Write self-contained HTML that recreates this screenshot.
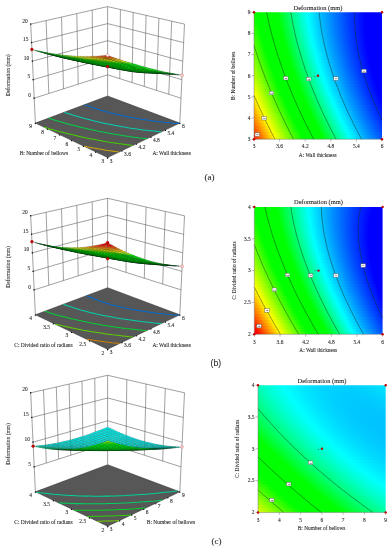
<!DOCTYPE html><html><head><meta charset="utf-8"><title>Figure</title><style>html,body{margin:0;padding:0;background:#fff}svg{display:block}</style></head><body><svg width="391" height="550" viewBox="0 0 391 550" font-family="'Liberation Serif',serif"><style>text{stroke:#333;stroke-width:.09px}</style><rect width="391" height="550" fill="#fff"/><defs><clipPath id="cp0"><rect x="254.0" y="12.3" width="128.0" height="126.9"/></clipPath><linearGradient id="g0_0" gradientUnits="userSpaceOnUse" x1="254.0" x2="382.0"><stop offset="0" stop-color="#0fff00"/><stop offset="0.015" stop-color="#0f0"/><stop offset="0.125" stop-color="#0f0"/><stop offset="0.182" stop-color="#0f0"/><stop offset="0.25" stop-color="#00ff4e"/><stop offset="0.375" stop-color="#00ffd5"/><stop offset="0.417" stop-color="#0ff"/><stop offset="0.5" stop-color="#00c7ff"/><stop offset="0.625" stop-color="#007bff"/><stop offset="0.75" stop-color="#0038ff"/><stop offset="0.872" stop-color="#00f"/><stop offset="1" stop-color="#00f"/></linearGradient><linearGradient id="g0_1" gradientUnits="userSpaceOnUse" x1="254.0" x2="382.0"><stop offset="0" stop-color="#15ff00"/><stop offset="0.02" stop-color="#0f0"/><stop offset="0.125" stop-color="#0f0"/><stop offset="0.187" stop-color="#0f0"/><stop offset="0.25" stop-color="#00ff4a"/><stop offset="0.375" stop-color="#00ffd2"/><stop offset="0.42" stop-color="#0ff"/><stop offset="0.5" stop-color="#00c9ff"/><stop offset="0.625" stop-color="#007cff"/><stop offset="0.75" stop-color="#0038ff"/><stop offset="0.87" stop-color="#00f"/><stop offset="1" stop-color="#00f"/></linearGradient><linearGradient id="g0_2" gradientUnits="userSpaceOnUse" x1="254.0" x2="382.0"><stop offset="0" stop-color="#1bff00"/><stop offset="0.025" stop-color="#0f0"/><stop offset="0.125" stop-color="#0f0"/><stop offset="0.192" stop-color="#00ff01"/><stop offset="0.25" stop-color="#00ff45"/><stop offset="0.375" stop-color="#00ffce"/><stop offset="0.423" stop-color="#0ff"/><stop offset="0.5" stop-color="#00cbff"/><stop offset="0.625" stop-color="#007dff"/><stop offset="0.75" stop-color="#0039ff"/><stop offset="0.869" stop-color="#00f"/><stop offset="1" stop-color="#00f"/></linearGradient><linearGradient id="g0_3" gradientUnits="userSpaceOnUse" x1="254.0" x2="382.0"><stop offset="0" stop-color="#21ff00"/><stop offset="0.031" stop-color="#0f0"/><stop offset="0.125" stop-color="#0f0"/><stop offset="0.196" stop-color="#0f0"/><stop offset="0.25" stop-color="#00ff3f"/><stop offset="0.375" stop-color="#00ffc9"/><stop offset="0.427" stop-color="#0ff"/><stop offset="0.5" stop-color="#00cdff"/><stop offset="0.625" stop-color="#007fff"/><stop offset="0.75" stop-color="#0039ff"/><stop offset="0.868" stop-color="#00f"/><stop offset="1" stop-color="#00f"/></linearGradient><linearGradient id="g0_4" gradientUnits="userSpaceOnUse" x1="254.0" x2="382.0"><stop offset="0" stop-color="#27ff00"/><stop offset="0.036" stop-color="#0f0"/><stop offset="0.125" stop-color="#0f0"/><stop offset="0.202" stop-color="#00ff01"/><stop offset="0.25" stop-color="#00ff39"/><stop offset="0.375" stop-color="#00ffc5"/><stop offset="0.431" stop-color="#0ff"/><stop offset="0.5" stop-color="#00cfff"/><stop offset="0.625" stop-color="#0080ff"/><stop offset="0.75" stop-color="#003aff"/><stop offset="0.868" stop-color="#00f"/><stop offset="1" stop-color="#00f"/></linearGradient><linearGradient id="g0_5" gradientUnits="userSpaceOnUse" x1="254.0" x2="382.0"><stop offset="0" stop-color="#2eff00"/><stop offset="0.042" stop-color="#0f0"/><stop offset="0.125" stop-color="#0f0"/><stop offset="0.207" stop-color="#0f0"/><stop offset="0.25" stop-color="#0f3"/><stop offset="0.375" stop-color="#00ffc0"/><stop offset="0.435" stop-color="#0ff"/><stop offset="0.5" stop-color="#00d2ff"/><stop offset="0.625" stop-color="#0082ff"/><stop offset="0.75" stop-color="#003bff"/><stop offset="0.868" stop-color="#00f"/><stop offset="1" stop-color="#00f"/></linearGradient><linearGradient id="g0_6" gradientUnits="userSpaceOnUse" x1="254.0" x2="382.0"><stop offset="0" stop-color="#35ff00"/><stop offset="0.048" stop-color="#0f0"/><stop offset="0.125" stop-color="#0f0"/><stop offset="0.212" stop-color="#0f0"/><stop offset="0.25" stop-color="#00ff2d"/><stop offset="0.375" stop-color="#0fb"/><stop offset="0.44" stop-color="#0ff"/><stop offset="0.5" stop-color="#00d5ff"/><stop offset="0.625" stop-color="#0084ff"/><stop offset="0.75" stop-color="#003cff"/><stop offset="0.869" stop-color="#00f"/><stop offset="1" stop-color="#00f"/></linearGradient><linearGradient id="g0_7" gradientUnits="userSpaceOnUse" x1="254.0" x2="382.0"><stop offset="0" stop-color="#3cff00"/><stop offset="0.055" stop-color="#0f0"/><stop offset="0.125" stop-color="#0f0"/><stop offset="0.218" stop-color="#0f0"/><stop offset="0.25" stop-color="#00ff26"/><stop offset="0.375" stop-color="#00ffb5"/><stop offset="0.444" stop-color="#0ff"/><stop offset="0.5" stop-color="#00d8ff"/><stop offset="0.625" stop-color="#0086ff"/><stop offset="0.75" stop-color="#003eff"/><stop offset="0.871" stop-color="#00f"/><stop offset="1" stop-color="#00f"/></linearGradient><linearGradient id="g0_8" gradientUnits="userSpaceOnUse" x1="254.0" x2="382.0"><stop offset="0" stop-color="#43ff00"/><stop offset="0.061" stop-color="#0f0"/><stop offset="0.125" stop-color="#0f0"/><stop offset="0.224" stop-color="#0f0"/><stop offset="0.375" stop-color="#00ffaf"/><stop offset="0.449" stop-color="#0ff"/><stop offset="0.5" stop-color="#00dbff"/><stop offset="0.625" stop-color="#0089ff"/><stop offset="0.75" stop-color="#003fff"/><stop offset="0.873" stop-color="#00f"/><stop offset="1" stop-color="#00f"/></linearGradient><linearGradient id="g0_9" gradientUnits="userSpaceOnUse" x1="254.0" x2="382.0"><stop offset="0" stop-color="#4bff00"/><stop offset="0.068" stop-color="#0f0"/><stop offset="0.125" stop-color="#0f0"/><stop offset="0.23" stop-color="#0f0"/><stop offset="0.375" stop-color="#00ffa9"/><stop offset="0.455" stop-color="#0ff"/><stop offset="0.5" stop-color="#00dfff"/><stop offset="0.625" stop-color="#008bff"/><stop offset="0.75" stop-color="#0041ff"/><stop offset="0.875" stop-color="#00f"/><stop offset="1" stop-color="#00f"/></linearGradient><linearGradient id="g0_10" gradientUnits="userSpaceOnUse" x1="254.0" x2="382.0"><stop offset="0" stop-color="#53ff00"/><stop offset="0.075" stop-color="#0f0"/><stop offset="0.125" stop-color="#0f0"/><stop offset="0.237" stop-color="#0f0"/><stop offset="0.375" stop-color="#00ffa2"/><stop offset="0.46" stop-color="#0ff"/><stop offset="0.5" stop-color="#00e2ff"/><stop offset="0.625" stop-color="#008eff"/><stop offset="0.75" stop-color="#0043ff"/><stop offset="0.878" stop-color="#00f"/><stop offset="1" stop-color="#00f"/></linearGradient><linearGradient id="g0_11" gradientUnits="userSpaceOnUse" x1="254.0" x2="382.0"><stop offset="0" stop-color="#5bff00"/><stop offset="0.082" stop-color="#0f0"/><stop offset="0.125" stop-color="#0f0"/><stop offset="0.244" stop-color="#00ff01"/><stop offset="0.375" stop-color="#00ff9c"/><stop offset="0.466" stop-color="#0ff"/><stop offset="0.5" stop-color="#00e6ff"/><stop offset="0.625" stop-color="#0092ff"/><stop offset="0.75" stop-color="#0046ff"/><stop offset="0.881" stop-color="#00f"/><stop offset="1" stop-color="#00f"/></linearGradient><linearGradient id="g0_12" gradientUnits="userSpaceOnUse" x1="254.0" x2="382.0"><stop offset="0" stop-color="#64ff00"/><stop offset="0.089" stop-color="#0f0"/><stop offset="0.125" stop-color="#0f0"/><stop offset="0.25" stop-color="#0f0"/><stop offset="0.375" stop-color="#00ff94"/><stop offset="0.472" stop-color="#0ff"/><stop offset="0.625" stop-color="#0095ff"/><stop offset="0.75" stop-color="#0048ff"/><stop offset="0.885" stop-color="#00f"/><stop offset="1" stop-color="#00f"/></linearGradient><linearGradient id="g0_13" gradientUnits="userSpaceOnUse" x1="254.0" x2="382.0"><stop offset="0" stop-color="#6dff00"/><stop offset="0.097" stop-color="#0f0"/><stop offset="0.257" stop-color="#0f0"/><stop offset="0.375" stop-color="#00ff8d"/><stop offset="0.479" stop-color="#0ff"/><stop offset="0.625" stop-color="#09f"/><stop offset="0.75" stop-color="#004bff"/><stop offset="0.889" stop-color="#00f"/><stop offset="1" stop-color="#00f"/></linearGradient><linearGradient id="g0_14" gradientUnits="userSpaceOnUse" x1="254.0" x2="382.0"><stop offset="0" stop-color="#76ff00"/><stop offset="0.104" stop-color="#0f0"/><stop offset="0.265" stop-color="#00ff01"/><stop offset="0.375" stop-color="#00ff85"/><stop offset="0.485" stop-color="#0ff"/><stop offset="0.625" stop-color="#009dff"/><stop offset="0.75" stop-color="#004eff"/><stop offset="0.893" stop-color="#00f"/><stop offset="1" stop-color="#00f"/></linearGradient><linearGradient id="g0_15" gradientUnits="userSpaceOnUse" x1="254.0" x2="382.0"><stop offset="0" stop-color="#7fff00"/><stop offset="0.112" stop-color="#0f0"/><stop offset="0.272" stop-color="#0f0"/><stop offset="0.375" stop-color="#00ff7c"/><stop offset="0.492" stop-color="#0ff"/><stop offset="0.625" stop-color="#00a1ff"/><stop offset="0.75" stop-color="#0052ff"/><stop offset="0.898" stop-color="#00f"/><stop offset="1" stop-color="#00f"/></linearGradient><linearGradient id="g0_16" gradientUnits="userSpaceOnUse" x1="254.0" x2="382.0"><stop offset="0" stop-color="#89ff00"/><stop offset="0.12" stop-color="#0f0"/><stop offset="0.28" stop-color="#0f0"/><stop offset="0.375" stop-color="#00ff74"/><stop offset="0.499" stop-color="#0ff"/><stop offset="0.625" stop-color="#00a5ff"/><stop offset="0.75" stop-color="#05f"/><stop offset="0.903" stop-color="#00f"/><stop offset="1" stop-color="#00f"/></linearGradient><linearGradient id="g0_17" gradientUnits="userSpaceOnUse" x1="254.0" x2="382.0"><stop offset="0" stop-color="#92ff00"/><stop offset="0.128" stop-color="#0f0"/><stop offset="0.25" stop-color="#0f0"/><stop offset="0.287" stop-color="#0f0"/><stop offset="0.375" stop-color="#00ff6b"/><stop offset="0.506" stop-color="#0ff"/><stop offset="0.625" stop-color="#0af"/><stop offset="0.75" stop-color="#0059ff"/><stop offset="0.875" stop-color="#0012ff"/><stop offset="0.908" stop-color="#00f"/><stop offset="1" stop-color="#00f"/></linearGradient><linearGradient id="g0_18" gradientUnits="userSpaceOnUse" x1="254.0" x2="382.0"><stop offset="0" stop-color="#9dff00"/><stop offset="0.136" stop-color="#01ff00"/><stop offset="0.25" stop-color="#0f0"/><stop offset="0.295" stop-color="#0f0"/><stop offset="0.375" stop-color="#00ff62"/><stop offset="0.514" stop-color="#0ff"/><stop offset="0.625" stop-color="#00afff"/><stop offset="0.75" stop-color="#005dff"/><stop offset="0.875" stop-color="#0015ff"/><stop offset="0.914" stop-color="#00f"/><stop offset="1" stop-color="#00f"/></linearGradient><linearGradient id="g0_19" gradientUnits="userSpaceOnUse" x1="254.0" x2="382.0"><stop offset="0" stop-color="#a7ff00"/><stop offset="0.145" stop-color="#0f0"/><stop offset="0.25" stop-color="#0f0"/><stop offset="0.304" stop-color="#0f0"/><stop offset="0.375" stop-color="#00ff58"/><stop offset="0.521" stop-color="#0ff"/><stop offset="0.625" stop-color="#00b4ff"/><stop offset="0.75" stop-color="#0062ff"/><stop offset="0.875" stop-color="#0018ff"/><stop offset="0.92" stop-color="#00f"/><stop offset="1" stop-color="#00f"/></linearGradient><linearGradient id="g0_20" gradientUnits="userSpaceOnUse" x1="254.0" x2="382.0"><stop offset="0" stop-color="#b2ff00"/><stop offset="0.154" stop-color="#0f0"/><stop offset="0.25" stop-color="#0f0"/><stop offset="0.312" stop-color="#0f0"/><stop offset="0.375" stop-color="#00ff4e"/><stop offset="0.529" stop-color="#0ff"/><stop offset="0.625" stop-color="#00b9ff"/><stop offset="0.75" stop-color="#06f"/><stop offset="0.875" stop-color="#001cff"/><stop offset="0.927" stop-color="#00f"/><stop offset="1" stop-color="#00f"/></linearGradient><linearGradient id="g0_21" gradientUnits="userSpaceOnUse" x1="254.0" x2="382.0"><stop offset="0" stop-color="#bdff00"/><stop offset="0.125" stop-color="#2aff00"/><stop offset="0.162" stop-color="#01ff00"/><stop offset="0.25" stop-color="#0f0"/><stop offset="0.321" stop-color="#0f0"/><stop offset="0.375" stop-color="#0f4"/><stop offset="0.5" stop-color="#00ffd6"/><stop offset="0.537" stop-color="#0ff"/><stop offset="0.625" stop-color="#00bfff"/><stop offset="0.75" stop-color="#006bff"/><stop offset="0.875" stop-color="#0020ff"/><stop offset="0.933" stop-color="#00f"/><stop offset="1" stop-color="#00f"/></linearGradient><linearGradient id="g0_22" gradientUnits="userSpaceOnUse" x1="254.0" x2="382.0"><stop offset="0" stop-color="#c8ff00"/><stop offset="0.125" stop-color="#34ff00"/><stop offset="0.171" stop-color="#01ff00"/><stop offset="0.25" stop-color="#0f0"/><stop offset="0.329" stop-color="#0f0"/><stop offset="0.375" stop-color="#00ff39"/><stop offset="0.5" stop-color="#0fc"/><stop offset="0.546" stop-color="#0ff"/><stop offset="0.625" stop-color="#00c5ff"/><stop offset="0.75" stop-color="#0070ff"/><stop offset="0.875" stop-color="#0024ff"/><stop offset="0.941" stop-color="#00f"/><stop offset="1" stop-color="#00f"/></linearGradient><linearGradient id="g0_23" gradientUnits="userSpaceOnUse" x1="254.0" x2="382.0"><stop offset="0" stop-color="#d3ff00"/><stop offset="0.125" stop-color="#3fff00"/><stop offset="0.181" stop-color="#0f0"/><stop offset="0.25" stop-color="#0f0"/><stop offset="0.338" stop-color="#0f0"/><stop offset="0.375" stop-color="#00ff2e"/><stop offset="0.5" stop-color="#00ffc2"/><stop offset="0.554" stop-color="#0ff"/><stop offset="0.625" stop-color="#00cbff"/><stop offset="0.75" stop-color="#0075ff"/><stop offset="0.875" stop-color="#0029ff"/><stop offset="0.948" stop-color="#00f"/><stop offset="1" stop-color="#00f"/></linearGradient><linearGradient id="g0_24" gradientUnits="userSpaceOnUse" x1="254.0" x2="382.0"><stop offset="0" stop-color="#dfff00"/><stop offset="0.125" stop-color="#4aff00"/><stop offset="0.19" stop-color="#0f0"/><stop offset="0.25" stop-color="#0f0"/><stop offset="0.348" stop-color="#00ff01"/><stop offset="0.5" stop-color="#00ffb8"/><stop offset="0.563" stop-color="#0ff"/><stop offset="0.625" stop-color="#00d1ff"/><stop offset="0.75" stop-color="#007bff"/><stop offset="0.875" stop-color="#002dff"/><stop offset="0.956" stop-color="#00f"/><stop offset="1" stop-color="#00f"/></linearGradient><linearGradient id="g0_25" gradientUnits="userSpaceOnUse" x1="254.0" x2="382.0"><stop offset="0" stop-color="#ebff00"/><stop offset="0.125" stop-color="#5f0"/><stop offset="0.2" stop-color="#0f0"/><stop offset="0.25" stop-color="#0f0"/><stop offset="0.357" stop-color="#0f0"/><stop offset="0.5" stop-color="#00ffae"/><stop offset="0.572" stop-color="#0ff"/><stop offset="0.625" stop-color="#00d7ff"/><stop offset="0.75" stop-color="#0080ff"/><stop offset="0.875" stop-color="#0032ff"/><stop offset="0.964" stop-color="#00f"/><stop offset="1" stop-color="#00f"/></linearGradient><linearGradient id="g0_26" gradientUnits="userSpaceOnUse" x1="254.0" x2="382.0"><stop offset="0" stop-color="#f7ff00"/><stop offset="0.125" stop-color="#60ff00"/><stop offset="0.209" stop-color="#0f0"/><stop offset="0.25" stop-color="#0f0"/><stop offset="0.366" stop-color="#0f0"/><stop offset="0.5" stop-color="#00ffa3"/><stop offset="0.581" stop-color="#0ff"/><stop offset="0.625" stop-color="#00deff"/><stop offset="0.75" stop-color="#0086ff"/><stop offset="0.875" stop-color="#0037ff"/><stop offset="0.972" stop-color="#00f"/><stop offset="1" stop-color="#00f"/></linearGradient><linearGradient id="g0_27" gradientUnits="userSpaceOnUse" x1="254.0" x2="382.0"><stop offset="0" stop-color="#fffa00"/><stop offset="0.004" stop-color="#ff0"/><stop offset="0.125" stop-color="#6cff00"/><stop offset="0.219" stop-color="#0f0"/><stop offset="0.25" stop-color="#0f0"/><stop offset="0.376" stop-color="#0f0"/><stop offset="0.5" stop-color="#00ff98"/><stop offset="0.591" stop-color="#0ff"/><stop offset="0.625" stop-color="#00e5ff"/><stop offset="0.75" stop-color="#008cff"/><stop offset="0.875" stop-color="#003dff"/><stop offset="0.981" stop-color="#00f"/><stop offset="1" stop-color="#00f"/></linearGradient><linearGradient id="g0_28" gradientUnits="userSpaceOnUse" x1="254.0" x2="382.0"><stop offset="0" stop-color="#ffec00"/><stop offset="0.014" stop-color="#ff0"/><stop offset="0.125" stop-color="#78ff00"/><stop offset="0.229" stop-color="#0f0"/><stop offset="0.386" stop-color="#0f0"/><stop offset="0.5" stop-color="#00ff8c"/><stop offset="0.601" stop-color="#0ff"/><stop offset="0.75" stop-color="#0093ff"/><stop offset="0.875" stop-color="#0042ff"/><stop offset="0.99" stop-color="#00f"/><stop offset="1" stop-color="#00f"/></linearGradient><linearGradient id="g0_29" gradientUnits="userSpaceOnUse" x1="254.0" x2="382.0"><stop offset="0" stop-color="#ffdf00"/><stop offset="0.024" stop-color="#fffe00"/><stop offset="0.125" stop-color="#84ff00"/><stop offset="0.239" stop-color="#0f0"/><stop offset="0.396" stop-color="#0f0"/><stop offset="0.5" stop-color="#00ff80"/><stop offset="0.611" stop-color="#0ff"/><stop offset="0.75" stop-color="#009aff"/><stop offset="0.875" stop-color="#0048ff"/><stop offset="1" stop-color="#00f"/></linearGradient><linearGradient id="g0_30" gradientUnits="userSpaceOnUse" x1="254.0" x2="382.0"><stop offset="0" stop-color="#ffd100"/><stop offset="0.035" stop-color="#ff0"/><stop offset="0.125" stop-color="#90ff00"/><stop offset="0.25" stop-color="#0f0"/><stop offset="0.375" stop-color="#0f0"/><stop offset="0.406" stop-color="#0f0"/><stop offset="0.5" stop-color="#00ff74"/><stop offset="0.621" stop-color="#0ff"/><stop offset="0.75" stop-color="#00a0ff"/><stop offset="0.875" stop-color="#004eff"/><stop offset="1" stop-color="#0005ff"/></linearGradient><linearGradient id="g0_31" gradientUnits="userSpaceOnUse" x1="254.0" x2="382.0"><stop offset="0" stop-color="#ffc300"/><stop offset="0.046" stop-color="#feff00"/><stop offset="0.125" stop-color="#9dff00"/><stop offset="0.26" stop-color="#0f0"/><stop offset="0.375" stop-color="#0f0"/><stop offset="0.417" stop-color="#0f0"/><stop offset="0.5" stop-color="#00ff67"/><stop offset="0.631" stop-color="#0ff"/><stop offset="0.75" stop-color="#00a8ff"/><stop offset="0.875" stop-color="#05f"/><stop offset="1" stop-color="#000bff"/></linearGradient><linearGradient id="g0_32" gradientUnits="userSpaceOnUse" x1="254.0" x2="382.0"><stop offset="0" stop-color="#ffb500"/><stop offset="0.056" stop-color="#ff0"/><stop offset="0.125" stop-color="#af0"/><stop offset="0.271" stop-color="#0f0"/><stop offset="0.375" stop-color="#0f0"/><stop offset="0.428" stop-color="#00ff01"/><stop offset="0.5" stop-color="#00ff5b"/><stop offset="0.642" stop-color="#0ff"/><stop offset="0.75" stop-color="#00afff"/><stop offset="0.875" stop-color="#005bff"/><stop offset="1" stop-color="#0010ff"/></linearGradient><linearGradient id="g0_33" gradientUnits="userSpaceOnUse" x1="254.0" x2="382.0"><stop offset="0" stop-color="#ffa600"/><stop offset="0.067" stop-color="#ff0"/><stop offset="0.125" stop-color="#b7ff00"/><stop offset="0.25" stop-color="#24ff00"/><stop offset="0.282" stop-color="#0f0"/><stop offset="0.375" stop-color="#0f0"/><stop offset="0.438" stop-color="#0f0"/><stop offset="0.5" stop-color="#00ff4d"/><stop offset="0.652" stop-color="#0ff"/><stop offset="0.75" stop-color="#00b7ff"/><stop offset="0.875" stop-color="#0062ff"/><stop offset="1" stop-color="#0016ff"/></linearGradient><linearGradient id="g0_34" gradientUnits="userSpaceOnUse" x1="254.0" x2="382.0"><stop offset="0" stop-color="#ff9700"/><stop offset="0.078" stop-color="#ff0"/><stop offset="0.125" stop-color="#c5ff00"/><stop offset="0.25" stop-color="#30ff00"/><stop offset="0.293" stop-color="#0f0"/><stop offset="0.375" stop-color="#0f0"/><stop offset="0.449" stop-color="#0f0"/><stop offset="0.5" stop-color="#00ff40"/><stop offset="0.625" stop-color="#00ffd4"/><stop offset="0.663" stop-color="#0ff"/><stop offset="0.75" stop-color="#00beff"/><stop offset="0.875" stop-color="#0069ff"/><stop offset="1" stop-color="#001dff"/></linearGradient><linearGradient id="g0_35" gradientUnits="userSpaceOnUse" x1="254.0" x2="382.0"><stop offset="0" stop-color="#f80"/><stop offset="0.089" stop-color="#fffe00"/><stop offset="0.125" stop-color="#d3ff00"/><stop offset="0.25" stop-color="#3dff00"/><stop offset="0.304" stop-color="#0f0"/><stop offset="0.375" stop-color="#0f0"/><stop offset="0.461" stop-color="#0f0"/><stop offset="0.5" stop-color="#00ff32"/><stop offset="0.625" stop-color="#00ffc7"/><stop offset="0.674" stop-color="#00fffe"/><stop offset="0.75" stop-color="#00c7ff"/><stop offset="0.875" stop-color="#0070ff"/><stop offset="1" stop-color="#0023ff"/></linearGradient><linearGradient id="g0_36" gradientUnits="userSpaceOnUse" x1="254.0" x2="382.0"><stop offset="0" stop-color="#ff7800"/><stop offset="0.101" stop-color="#ff0"/><stop offset="0.25" stop-color="#4bff00"/><stop offset="0.315" stop-color="#0f0"/><stop offset="0.375" stop-color="#0f0"/><stop offset="0.472" stop-color="#0f0"/><stop offset="0.625" stop-color="#00ffba"/><stop offset="0.686" stop-color="#0ff"/><stop offset="0.75" stop-color="#00cfff"/><stop offset="0.875" stop-color="#0078ff"/><stop offset="1" stop-color="#002aff"/></linearGradient><linearGradient id="g0_37" gradientUnits="userSpaceOnUse" x1="254.0" x2="382.0"><stop offset="0" stop-color="#ff6800"/><stop offset="0.112" stop-color="#ff0"/><stop offset="0.25" stop-color="#58ff00"/><stop offset="0.327" stop-color="#0f0"/><stop offset="0.375" stop-color="#0f0"/><stop offset="0.484" stop-color="#00ff01"/><stop offset="0.625" stop-color="#00ffad"/><stop offset="0.698" stop-color="#0ff"/><stop offset="0.75" stop-color="#00d7ff"/><stop offset="0.875" stop-color="#0080ff"/><stop offset="1" stop-color="#0031ff"/></linearGradient><linearGradient id="g0_38" gradientUnits="userSpaceOnUse" x1="254.0" x2="382.0"><stop offset="0" stop-color="#ff5800"/><stop offset="0.124" stop-color="#ff0"/><stop offset="0.25" stop-color="#6f0"/><stop offset="0.339" stop-color="#0f0"/><stop offset="0.375" stop-color="#0f0"/><stop offset="0.495" stop-color="#0f0"/><stop offset="0.625" stop-color="#00ff9f"/><stop offset="0.709" stop-color="#0ff"/><stop offset="0.75" stop-color="#00e0ff"/><stop offset="0.875" stop-color="#08f"/><stop offset="1" stop-color="#0038ff"/></linearGradient><linearGradient id="g0_39" gradientUnits="userSpaceOnUse" x1="254.0" x2="382.0"><stop offset="0" stop-color="#ff4800"/><stop offset="0.136" stop-color="#ff0"/><stop offset="0.25" stop-color="#74ff00"/><stop offset="0.351" stop-color="#0f0"/><stop offset="0.507" stop-color="#0f0"/><stop offset="0.625" stop-color="#00ff91"/><stop offset="0.721" stop-color="#0ff"/><stop offset="0.875" stop-color="#0090ff"/><stop offset="1" stop-color="#003fff"/></linearGradient><linearGradient id="g0_40" gradientUnits="userSpaceOnUse" x1="254.0" x2="382.0"><stop offset="0" stop-color="#ff3700"/><stop offset="0.148" stop-color="#ff0"/><stop offset="0.25" stop-color="#82ff00"/><stop offset="0.363" stop-color="#0f0"/><stop offset="0.519" stop-color="#0f0"/><stop offset="0.625" stop-color="#00ff82"/><stop offset="0.734" stop-color="#0ff"/><stop offset="0.875" stop-color="#0098ff"/><stop offset="1" stop-color="#0047ff"/></linearGradient><linearGradient id="g0_41" gradientUnits="userSpaceOnUse" x1="254.0" x2="382.0"><stop offset="0" stop-color="#ff2600"/><stop offset="0.125" stop-color="#ffd100"/><stop offset="0.16" stop-color="#ff0"/><stop offset="0.25" stop-color="#90ff00"/><stop offset="0.375" stop-color="#0f0"/><stop offset="0.5" stop-color="#0f0"/><stop offset="0.532" stop-color="#0f0"/><stop offset="0.625" stop-color="#00ff74"/><stop offset="0.746" stop-color="#0ff"/><stop offset="0.875" stop-color="#00a1ff"/><stop offset="1" stop-color="#004fff"/></linearGradient><linearGradient id="g0_42" gradientUnits="userSpaceOnUse" x1="254.0" x2="382.0"><stop offset="0" stop-color="#ff1700"/><stop offset="0.125" stop-color="#ffc300"/><stop offset="0.171" stop-color="#ff0"/><stop offset="0.25" stop-color="#9eff00"/><stop offset="0.386" stop-color="#0f0"/><stop offset="0.5" stop-color="#0f0"/><stop offset="0.543" stop-color="#0f0"/><stop offset="0.625" stop-color="#0f6"/><stop offset="0.758" stop-color="#0ff"/><stop offset="0.875" stop-color="#00a9ff"/><stop offset="1" stop-color="#0056ff"/></linearGradient><clipPath id="cp1"><rect x="254.3" y="206.9" width="128.3" height="127.4"/></clipPath><linearGradient id="g1_0" gradientUnits="userSpaceOnUse" x1="254.3" x2="382.6"><stop offset="0" stop-color="#0f0"/><stop offset="0.125" stop-color="#0f0"/><stop offset="0.171" stop-color="#0f0"/><stop offset="0.25" stop-color="#0f5"/><stop offset="0.375" stop-color="#00ffd3"/><stop offset="0.422" stop-color="#0ff"/><stop offset="0.5" stop-color="#00cfff"/><stop offset="0.625" stop-color="#08f"/><stop offset="0.75" stop-color="#004aff"/><stop offset="0.875" stop-color="#0014ff"/><stop offset="0.928" stop-color="#00f"/><stop offset="1" stop-color="#00f"/></linearGradient><linearGradient id="g1_1" gradientUnits="userSpaceOnUse" x1="254.3" x2="382.6"><stop offset="0" stop-color="#0f0"/><stop offset="0.125" stop-color="#0f0"/><stop offset="0.176" stop-color="#0f0"/><stop offset="0.25" stop-color="#00ff51"/><stop offset="0.375" stop-color="#00ffd1"/><stop offset="0.424" stop-color="#0ff"/><stop offset="0.5" stop-color="#00cfff"/><stop offset="0.625" stop-color="#08f"/><stop offset="0.75" stop-color="#0048ff"/><stop offset="0.875" stop-color="#01f"/><stop offset="0.92" stop-color="#00f"/><stop offset="1" stop-color="#00f"/></linearGradient><linearGradient id="g1_2" gradientUnits="userSpaceOnUse" x1="254.3" x2="382.6"><stop offset="0" stop-color="#05ff00"/><stop offset="0.005" stop-color="#0f0"/><stop offset="0.125" stop-color="#0f0"/><stop offset="0.18" stop-color="#0f0"/><stop offset="0.25" stop-color="#00ff4d"/><stop offset="0.375" stop-color="#00ffce"/><stop offset="0.426" stop-color="#0ff"/><stop offset="0.5" stop-color="#00d0ff"/><stop offset="0.625" stop-color="#0087ff"/><stop offset="0.75" stop-color="#0047ff"/><stop offset="0.875" stop-color="#000fff"/><stop offset="0.912" stop-color="#00f"/><stop offset="1" stop-color="#00f"/></linearGradient><linearGradient id="g1_3" gradientUnits="userSpaceOnUse" x1="254.3" x2="382.6"><stop offset="0" stop-color="#0bff00"/><stop offset="0.011" stop-color="#0f0"/><stop offset="0.125" stop-color="#0f0"/><stop offset="0.185" stop-color="#0f0"/><stop offset="0.25" stop-color="#00ff48"/><stop offset="0.375" stop-color="#00ffca"/><stop offset="0.429" stop-color="#0ff"/><stop offset="0.5" stop-color="#00d1ff"/><stop offset="0.625" stop-color="#08f"/><stop offset="0.75" stop-color="#0046ff"/><stop offset="0.875" stop-color="#000dff"/><stop offset="0.907" stop-color="#00f"/><stop offset="1" stop-color="#00f"/></linearGradient><linearGradient id="g1_4" gradientUnits="userSpaceOnUse" x1="254.3" x2="382.6"><stop offset="0" stop-color="#12ff00"/><stop offset="0.018" stop-color="#0f0"/><stop offset="0.125" stop-color="#0f0"/><stop offset="0.191" stop-color="#0f0"/><stop offset="0.25" stop-color="#00ff43"/><stop offset="0.375" stop-color="#00ffc6"/><stop offset="0.432" stop-color="#0ff"/><stop offset="0.5" stop-color="#00d3ff"/><stop offset="0.625" stop-color="#08f"/><stop offset="0.75" stop-color="#0045ff"/><stop offset="0.902" stop-color="#00f"/><stop offset="1" stop-color="#00f"/></linearGradient><linearGradient id="g1_5" gradientUnits="userSpaceOnUse" x1="254.3" x2="382.6"><stop offset="0" stop-color="#19ff00"/><stop offset="0.024" stop-color="#0f0"/><stop offset="0.125" stop-color="#0f0"/><stop offset="0.196" stop-color="#0f0"/><stop offset="0.25" stop-color="#00ff3d"/><stop offset="0.375" stop-color="#00ffc2"/><stop offset="0.436" stop-color="#0ff"/><stop offset="0.5" stop-color="#00d5ff"/><stop offset="0.625" stop-color="#0089ff"/><stop offset="0.75" stop-color="#0045ff"/><stop offset="0.898" stop-color="#00f"/><stop offset="1" stop-color="#00f"/></linearGradient><linearGradient id="g1_6" gradientUnits="userSpaceOnUse" x1="254.3" x2="382.6"><stop offset="0" stop-color="#21ff00"/><stop offset="0.031" stop-color="#0f0"/><stop offset="0.125" stop-color="#0f0"/><stop offset="0.202" stop-color="#0f0"/><stop offset="0.25" stop-color="#00ff37"/><stop offset="0.375" stop-color="#00ffbe"/><stop offset="0.44" stop-color="#0ff"/><stop offset="0.5" stop-color="#00d7ff"/><stop offset="0.625" stop-color="#008aff"/><stop offset="0.75" stop-color="#0045ff"/><stop offset="0.895" stop-color="#00f"/><stop offset="1" stop-color="#00f"/></linearGradient><linearGradient id="g1_7" gradientUnits="userSpaceOnUse" x1="254.3" x2="382.6"><stop offset="0" stop-color="#28ff00"/><stop offset="0.039" stop-color="#0f0"/><stop offset="0.125" stop-color="#0f0"/><stop offset="0.209" stop-color="#0f0"/><stop offset="0.25" stop-color="#00ff30"/><stop offset="0.375" stop-color="#00ffb8"/><stop offset="0.444" stop-color="#0ff"/><stop offset="0.5" stop-color="#00d9ff"/><stop offset="0.625" stop-color="#008bff"/><stop offset="0.75" stop-color="#0045ff"/><stop offset="0.892" stop-color="#00f"/><stop offset="1" stop-color="#00f"/></linearGradient><linearGradient id="g1_8" gradientUnits="userSpaceOnUse" x1="254.3" x2="382.6"><stop offset="0" stop-color="#31ff00"/><stop offset="0.046" stop-color="#0f0"/><stop offset="0.125" stop-color="#0f0"/><stop offset="0.215" stop-color="#0f0"/><stop offset="0.25" stop-color="#00ff29"/><stop offset="0.375" stop-color="#00ffb3"/><stop offset="0.449" stop-color="#0ff"/><stop offset="0.5" stop-color="#00dcff"/><stop offset="0.625" stop-color="#008dff"/><stop offset="0.75" stop-color="#0046ff"/><stop offset="0.891" stop-color="#00f"/><stop offset="1" stop-color="#00f"/></linearGradient><linearGradient id="g1_9" gradientUnits="userSpaceOnUse" x1="254.3" x2="382.6"><stop offset="0" stop-color="#39ff00"/><stop offset="0.054" stop-color="#0f0"/><stop offset="0.125" stop-color="#0f0"/><stop offset="0.222" stop-color="#0f0"/><stop offset="0.375" stop-color="#00ffad"/><stop offset="0.454" stop-color="#0ff"/><stop offset="0.5" stop-color="#00dfff"/><stop offset="0.625" stop-color="#008fff"/><stop offset="0.75" stop-color="#0047ff"/><stop offset="0.89" stop-color="#00f"/><stop offset="1" stop-color="#00f"/></linearGradient><linearGradient id="g1_10" gradientUnits="userSpaceOnUse" x1="254.3" x2="382.6"><stop offset="0" stop-color="#42ff00"/><stop offset="0.062" stop-color="#0f0"/><stop offset="0.125" stop-color="#0f0"/><stop offset="0.229" stop-color="#0f0"/><stop offset="0.375" stop-color="#00ffa6"/><stop offset="0.459" stop-color="#0ff"/><stop offset="0.5" stop-color="#00e3ff"/><stop offset="0.625" stop-color="#0091ff"/><stop offset="0.75" stop-color="#0048ff"/><stop offset="0.89" stop-color="#00f"/><stop offset="1" stop-color="#00f"/></linearGradient><linearGradient id="g1_11" gradientUnits="userSpaceOnUse" x1="254.3" x2="382.6"><stop offset="0" stop-color="#4bff00"/><stop offset="0.07" stop-color="#0f0"/><stop offset="0.125" stop-color="#0f0"/><stop offset="0.236" stop-color="#0f0"/><stop offset="0.375" stop-color="#00ffa0"/><stop offset="0.465" stop-color="#0ff"/><stop offset="0.5" stop-color="#00e6ff"/><stop offset="0.625" stop-color="#0094ff"/><stop offset="0.75" stop-color="#0049ff"/><stop offset="0.89" stop-color="#00f"/><stop offset="1" stop-color="#00f"/></linearGradient><linearGradient id="g1_12" gradientUnits="userSpaceOnUse" x1="254.3" x2="382.6"><stop offset="0" stop-color="#5f0"/><stop offset="0.078" stop-color="#0f0"/><stop offset="0.125" stop-color="#0f0"/><stop offset="0.244" stop-color="#00ff01"/><stop offset="0.375" stop-color="#00ff98"/><stop offset="0.471" stop-color="#0ff"/><stop offset="0.625" stop-color="#0097ff"/><stop offset="0.75" stop-color="#004bff"/><stop offset="0.892" stop-color="#00f"/><stop offset="1" stop-color="#00f"/></linearGradient><linearGradient id="g1_13" gradientUnits="userSpaceOnUse" x1="254.3" x2="382.6"><stop offset="0" stop-color="#5fff00"/><stop offset="0.087" stop-color="#0f0"/><stop offset="0.125" stop-color="#0f0"/><stop offset="0.251" stop-color="#0f0"/><stop offset="0.375" stop-color="#00ff91"/><stop offset="0.477" stop-color="#0ff"/><stop offset="0.625" stop-color="#009aff"/><stop offset="0.75" stop-color="#004dff"/><stop offset="0.893" stop-color="#00f"/><stop offset="1" stop-color="#00f"/></linearGradient><linearGradient id="g1_14" gradientUnits="userSpaceOnUse" x1="254.3" x2="382.6"><stop offset="0" stop-color="#69ff00"/><stop offset="0.095" stop-color="#0f0"/><stop offset="0.259" stop-color="#0f0"/><stop offset="0.375" stop-color="#0f8"/><stop offset="0.484" stop-color="#0ff"/><stop offset="0.625" stop-color="#009dff"/><stop offset="0.75" stop-color="#0050ff"/><stop offset="0.896" stop-color="#00f"/><stop offset="1" stop-color="#00f"/></linearGradient><linearGradient id="g1_15" gradientUnits="userSpaceOnUse" x1="254.3" x2="382.6"><stop offset="0" stop-color="#74ff00"/><stop offset="0.104" stop-color="#0f0"/><stop offset="0.267" stop-color="#0f0"/><stop offset="0.375" stop-color="#00ff80"/><stop offset="0.491" stop-color="#0ff"/><stop offset="0.625" stop-color="#00a1ff"/><stop offset="0.75" stop-color="#0052ff"/><stop offset="0.898" stop-color="#00f"/><stop offset="1" stop-color="#00f"/></linearGradient><linearGradient id="g1_16" gradientUnits="userSpaceOnUse" x1="254.3" x2="382.6"><stop offset="0" stop-color="#7eff00"/><stop offset="0.114" stop-color="#0f0"/><stop offset="0.276" stop-color="#0f0"/><stop offset="0.375" stop-color="#0f7"/><stop offset="0.498" stop-color="#0ff"/><stop offset="0.625" stop-color="#00a5ff"/><stop offset="0.75" stop-color="#05f"/><stop offset="0.902" stop-color="#00f"/><stop offset="1" stop-color="#00f"/></linearGradient><linearGradient id="g1_17" gradientUnits="userSpaceOnUse" x1="254.3" x2="382.6"><stop offset="0" stop-color="#8aff00"/><stop offset="0.123" stop-color="#0f0"/><stop offset="0.25" stop-color="#0f0"/><stop offset="0.285" stop-color="#00ff01"/><stop offset="0.375" stop-color="#00ff6d"/><stop offset="0.505" stop-color="#0ff"/><stop offset="0.625" stop-color="#0af"/><stop offset="0.75" stop-color="#0059ff"/><stop offset="0.875" stop-color="#0010ff"/><stop offset="0.905" stop-color="#00f"/><stop offset="1" stop-color="#00f"/></linearGradient><linearGradient id="g1_18" gradientUnits="userSpaceOnUse" x1="254.3" x2="382.6"><stop offset="0" stop-color="#95ff00"/><stop offset="0.132" stop-color="#01ff00"/><stop offset="0.25" stop-color="#0f0"/><stop offset="0.293" stop-color="#0f0"/><stop offset="0.375" stop-color="#00ff63"/><stop offset="0.513" stop-color="#0ff"/><stop offset="0.625" stop-color="#00aeff"/><stop offset="0.75" stop-color="#005cff"/><stop offset="0.875" stop-color="#0013ff"/><stop offset="0.91" stop-color="#00f"/><stop offset="1" stop-color="#00f"/></linearGradient><linearGradient id="g1_19" gradientUnits="userSpaceOnUse" x1="254.3" x2="382.6"><stop offset="0" stop-color="#a1ff00"/><stop offset="0.142" stop-color="#0f0"/><stop offset="0.25" stop-color="#0f0"/><stop offset="0.303" stop-color="#00ff01"/><stop offset="0.375" stop-color="#00ff59"/><stop offset="0.521" stop-color="#0ff"/><stop offset="0.625" stop-color="#00b3ff"/><stop offset="0.75" stop-color="#0060ff"/><stop offset="0.875" stop-color="#0016ff"/><stop offset="0.914" stop-color="#00f"/><stop offset="1" stop-color="#00f"/></linearGradient><linearGradient id="g1_20" gradientUnits="userSpaceOnUse" x1="254.3" x2="382.6"><stop offset="0" stop-color="#aeff00"/><stop offset="0.152" stop-color="#0f0"/><stop offset="0.25" stop-color="#0f0"/><stop offset="0.312" stop-color="#0f0"/><stop offset="0.375" stop-color="#00ff4e"/><stop offset="0.529" stop-color="#0ff"/><stop offset="0.625" stop-color="#00b9ff"/><stop offset="0.75" stop-color="#0065ff"/><stop offset="0.875" stop-color="#0019ff"/><stop offset="0.92" stop-color="#00f"/><stop offset="1" stop-color="#00f"/></linearGradient><linearGradient id="g1_21" gradientUnits="userSpaceOnUse" x1="254.3" x2="382.6"><stop offset="0" stop-color="#bf0"/><stop offset="0.125" stop-color="#29ff00"/><stop offset="0.162" stop-color="#0f0"/><stop offset="0.25" stop-color="#0f0"/><stop offset="0.321" stop-color="#0f0"/><stop offset="0.375" stop-color="#00ff43"/><stop offset="0.5" stop-color="#00ffd5"/><stop offset="0.538" stop-color="#0ff"/><stop offset="0.625" stop-color="#00beff"/><stop offset="0.75" stop-color="#0069ff"/><stop offset="0.875" stop-color="#001cff"/><stop offset="0.925" stop-color="#00f"/><stop offset="1" stop-color="#00f"/></linearGradient><linearGradient id="g1_22" gradientUnits="userSpaceOnUse" x1="254.3" x2="382.6"><stop offset="0" stop-color="#c8ff00"/><stop offset="0.125" stop-color="#35ff00"/><stop offset="0.173" stop-color="#0f0"/><stop offset="0.25" stop-color="#0f0"/><stop offset="0.331" stop-color="#0f0"/><stop offset="0.375" stop-color="#00ff37"/><stop offset="0.5" stop-color="#00ffcb"/><stop offset="0.546" stop-color="#00fffe"/><stop offset="0.625" stop-color="#00c4ff"/><stop offset="0.75" stop-color="#006eff"/><stop offset="0.875" stop-color="#0020ff"/><stop offset="0.931" stop-color="#00f"/><stop offset="1" stop-color="#00f"/></linearGradient><linearGradient id="g1_23" gradientUnits="userSpaceOnUse" x1="254.3" x2="382.6"><stop offset="0" stop-color="#d5ff00"/><stop offset="0.125" stop-color="#41ff00"/><stop offset="0.183" stop-color="#0f0"/><stop offset="0.25" stop-color="#0f0"/><stop offset="0.341" stop-color="#0f0"/><stop offset="0.375" stop-color="#00ff2b"/><stop offset="0.5" stop-color="#00ffc0"/><stop offset="0.555" stop-color="#00fffe"/><stop offset="0.625" stop-color="#00cbff"/><stop offset="0.75" stop-color="#0073ff"/><stop offset="0.875" stop-color="#0024ff"/><stop offset="0.937" stop-color="#00f"/><stop offset="1" stop-color="#00f"/></linearGradient><linearGradient id="g1_24" gradientUnits="userSpaceOnUse" x1="254.3" x2="382.6"><stop offset="0" stop-color="#e3ff00"/><stop offset="0.125" stop-color="#4eff00"/><stop offset="0.194" stop-color="#0f0"/><stop offset="0.25" stop-color="#0f0"/><stop offset="0.351" stop-color="#0f0"/><stop offset="0.5" stop-color="#00ffb5"/><stop offset="0.565" stop-color="#0ff"/><stop offset="0.625" stop-color="#00d1ff"/><stop offset="0.75" stop-color="#0079ff"/><stop offset="0.875" stop-color="#0029ff"/><stop offset="0.944" stop-color="#00f"/><stop offset="1" stop-color="#00f"/></linearGradient><linearGradient id="g1_25" gradientUnits="userSpaceOnUse" x1="254.3" x2="382.6"><stop offset="0" stop-color="#f1ff00"/><stop offset="0.125" stop-color="#5bff00"/><stop offset="0.205" stop-color="#0f0"/><stop offset="0.25" stop-color="#0f0"/><stop offset="0.362" stop-color="#0f0"/><stop offset="0.5" stop-color="#0fa"/><stop offset="0.574" stop-color="#0ff"/><stop offset="0.625" stop-color="#00d8ff"/><stop offset="0.75" stop-color="#007fff"/><stop offset="0.875" stop-color="#002dff"/><stop offset="0.951" stop-color="#00f"/><stop offset="1" stop-color="#00f"/></linearGradient><linearGradient id="g1_26" gradientUnits="userSpaceOnUse" x1="254.3" x2="382.6"><stop offset="0" stop-color="#ff0"/><stop offset="0.125" stop-color="#68ff00"/><stop offset="0.216" stop-color="#0f0"/><stop offset="0.25" stop-color="#0f0"/><stop offset="0.372" stop-color="#0f0"/><stop offset="0.5" stop-color="#00ff9e"/><stop offset="0.584" stop-color="#0ff"/><stop offset="0.625" stop-color="#00dfff"/><stop offset="0.75" stop-color="#0085ff"/><stop offset="0.875" stop-color="#0032ff"/><stop offset="0.959" stop-color="#00f"/><stop offset="1" stop-color="#00f"/></linearGradient><linearGradient id="g1_27" gradientUnits="userSpaceOnUse" x1="254.3" x2="382.6"><stop offset="0" stop-color="#ffef00"/><stop offset="0.012" stop-color="#ff0"/><stop offset="0.125" stop-color="#76ff00"/><stop offset="0.227" stop-color="#0f0"/><stop offset="0.383" stop-color="#0f0"/><stop offset="0.5" stop-color="#00ff92"/><stop offset="0.594" stop-color="#0ff"/><stop offset="0.625" stop-color="#00e7ff"/><stop offset="0.75" stop-color="#008bff"/><stop offset="0.875" stop-color="#0038ff"/><stop offset="0.966" stop-color="#00f"/><stop offset="1" stop-color="#00f"/></linearGradient><linearGradient id="g1_28" gradientUnits="userSpaceOnUse" x1="254.3" x2="382.6"><stop offset="0" stop-color="#ffe000"/><stop offset="0.024" stop-color="#ff0"/><stop offset="0.125" stop-color="#83ff00"/><stop offset="0.239" stop-color="#0f0"/><stop offset="0.394" stop-color="#0f0"/><stop offset="0.5" stop-color="#00ff85"/><stop offset="0.604" stop-color="#0ff"/><stop offset="0.75" stop-color="#0092ff"/><stop offset="0.875" stop-color="#003dff"/><stop offset="0.975" stop-color="#00f"/><stop offset="1" stop-color="#00f"/></linearGradient><linearGradient id="g1_29" gradientUnits="userSpaceOnUse" x1="254.3" x2="382.6"><stop offset="0" stop-color="#ffd000"/><stop offset="0.036" stop-color="#ff0"/><stop offset="0.125" stop-color="#92ff00"/><stop offset="0.25" stop-color="#0f0"/><stop offset="0.375" stop-color="#0f0"/><stop offset="0.405" stop-color="#0f0"/><stop offset="0.5" stop-color="#00ff78"/><stop offset="0.615" stop-color="#0ff"/><stop offset="0.75" stop-color="#09f"/><stop offset="0.875" stop-color="#0043ff"/><stop offset="0.983" stop-color="#00f"/><stop offset="1" stop-color="#00f"/></linearGradient><linearGradient id="g1_30" gradientUnits="userSpaceOnUse" x1="254.3" x2="382.6"><stop offset="0" stop-color="#ffbf00"/><stop offset="0.048" stop-color="#ff0"/><stop offset="0.125" stop-color="#a0ff00"/><stop offset="0.262" stop-color="#0f0"/><stop offset="0.375" stop-color="#0f0"/><stop offset="0.417" stop-color="#00ff01"/><stop offset="0.5" stop-color="#00ff6a"/><stop offset="0.625" stop-color="#0ff"/><stop offset="0.75" stop-color="#00a0ff"/><stop offset="0.875" stop-color="#0049ff"/><stop offset="0.992" stop-color="#00f"/><stop offset="1" stop-color="#00f"/></linearGradient><linearGradient id="g1_31" gradientUnits="userSpaceOnUse" x1="254.3" x2="382.6"><stop offset="0" stop-color="#ffae00"/><stop offset="0.061" stop-color="#ff0"/><stop offset="0.125" stop-color="#afff00"/><stop offset="0.274" stop-color="#0f0"/><stop offset="0.375" stop-color="#0f0"/><stop offset="0.428" stop-color="#0f0"/><stop offset="0.5" stop-color="#00ff5c"/><stop offset="0.636" stop-color="#0ff"/><stop offset="0.75" stop-color="#00a8ff"/><stop offset="0.875" stop-color="#0050ff"/><stop offset="1" stop-color="#0001ff"/></linearGradient><linearGradient id="g1_32" gradientUnits="userSpaceOnUse" x1="254.3" x2="382.6"><stop offset="0" stop-color="#ff9d00"/><stop offset="0.073" stop-color="#ff0"/><stop offset="0.125" stop-color="#bfff00"/><stop offset="0.25" stop-color="#29ff00"/><stop offset="0.286" stop-color="#0f0"/><stop offset="0.375" stop-color="#0f0"/><stop offset="0.44" stop-color="#0f0"/><stop offset="0.5" stop-color="#00ff4d"/><stop offset="0.647" stop-color="#0ff"/><stop offset="0.75" stop-color="#00b0ff"/><stop offset="0.875" stop-color="#0057ff"/><stop offset="1" stop-color="#0006ff"/></linearGradient><linearGradient id="g1_33" gradientUnits="userSpaceOnUse" x1="254.3" x2="382.6"><stop offset="0" stop-color="#ff8c00"/><stop offset="0.086" stop-color="#ff0"/><stop offset="0.125" stop-color="#ceff00"/><stop offset="0.25" stop-color="#38ff00"/><stop offset="0.298" stop-color="#0f0"/><stop offset="0.375" stop-color="#0f0"/><stop offset="0.452" stop-color="#0f0"/><stop offset="0.5" stop-color="#00ff3e"/><stop offset="0.625" stop-color="#00ffd8"/><stop offset="0.659" stop-color="#0ff"/><stop offset="0.75" stop-color="#00b8ff"/><stop offset="0.875" stop-color="#005eff"/><stop offset="1" stop-color="#000cff"/></linearGradient><linearGradient id="g1_34" gradientUnits="userSpaceOnUse" x1="254.3" x2="382.6"><stop offset="0" stop-color="#ff7a00"/><stop offset="0.099" stop-color="#ff0"/><stop offset="0.25" stop-color="#46ff00"/><stop offset="0.311" stop-color="#0f0"/><stop offset="0.375" stop-color="#0f0"/><stop offset="0.464" stop-color="#0f0"/><stop offset="0.5" stop-color="#00ff2f"/><stop offset="0.625" stop-color="#00ffca"/><stop offset="0.67" stop-color="#0ff"/><stop offset="0.75" stop-color="#00c1ff"/><stop offset="0.875" stop-color="#0065ff"/><stop offset="1" stop-color="#0013ff"/></linearGradient><linearGradient id="g1_35" gradientUnits="userSpaceOnUse" x1="254.3" x2="382.6"><stop offset="0" stop-color="#ff6800"/><stop offset="0.112" stop-color="#ff0"/><stop offset="0.25" stop-color="#56ff00"/><stop offset="0.324" stop-color="#0f0"/><stop offset="0.375" stop-color="#0f0"/><stop offset="0.476" stop-color="#0f0"/><stop offset="0.625" stop-color="#0fb"/><stop offset="0.682" stop-color="#0ff"/><stop offset="0.75" stop-color="#00c9ff"/><stop offset="0.875" stop-color="#006dff"/><stop offset="1" stop-color="#0019ff"/></linearGradient><linearGradient id="g1_36" gradientUnits="userSpaceOnUse" x1="254.3" x2="382.6"><stop offset="0" stop-color="#f50"/><stop offset="0.125" stop-color="#ff0"/><stop offset="0.25" stop-color="#65ff00"/><stop offset="0.336" stop-color="#0f0"/><stop offset="0.375" stop-color="#0f0"/><stop offset="0.489" stop-color="#0f0"/><stop offset="0.625" stop-color="#00ffad"/><stop offset="0.694" stop-color="#0ff"/><stop offset="0.75" stop-color="#00d3ff"/><stop offset="0.875" stop-color="#0075ff"/><stop offset="1" stop-color="#0020ff"/></linearGradient><linearGradient id="g1_37" gradientUnits="userSpaceOnUse" x1="254.3" x2="382.6"><stop offset="0" stop-color="#ff4200"/><stop offset="0.139" stop-color="#feff00"/><stop offset="0.25" stop-color="#75ff00"/><stop offset="0.349" stop-color="#0f0"/><stop offset="0.502" stop-color="#0f0"/><stop offset="0.625" stop-color="#00ff9e"/><stop offset="0.706" stop-color="#0ff"/><stop offset="0.75" stop-color="#00dcff"/><stop offset="0.875" stop-color="#007eff"/><stop offset="1" stop-color="#0028ff"/></linearGradient><linearGradient id="g1_38" gradientUnits="userSpaceOnUse" x1="254.3" x2="382.6"><stop offset="0" stop-color="#ff2f00"/><stop offset="0.152" stop-color="#ff0"/><stop offset="0.25" stop-color="#85ff00"/><stop offset="0.363" stop-color="#0f0"/><stop offset="0.515" stop-color="#00ff01"/><stop offset="0.625" stop-color="#00ff8e"/><stop offset="0.719" stop-color="#0ff"/><stop offset="0.75" stop-color="#00e6ff"/><stop offset="0.875" stop-color="#0086ff"/><stop offset="1" stop-color="#002fff"/></linearGradient><linearGradient id="g1_39" gradientUnits="userSpaceOnUse" x1="254.3" x2="382.6"><stop offset="0" stop-color="#ff1b00"/><stop offset="0.125" stop-color="#ffc900"/><stop offset="0.166" stop-color="#ff0"/><stop offset="0.25" stop-color="#95ff00"/><stop offset="0.376" stop-color="#0f0"/><stop offset="0.528" stop-color="#00ff01"/><stop offset="0.625" stop-color="#00ff7e"/><stop offset="0.731" stop-color="#00fffe"/><stop offset="0.875" stop-color="#008fff"/><stop offset="1" stop-color="#0037ff"/></linearGradient><linearGradient id="g1_40" gradientUnits="userSpaceOnUse" x1="254.3" x2="382.6"><stop offset="0" stop-color="#ff0700"/><stop offset="0.125" stop-color="#ffb600"/><stop offset="0.179" stop-color="#fffe00"/><stop offset="0.25" stop-color="#a6ff00"/><stop offset="0.389" stop-color="#01ff00"/><stop offset="0.5" stop-color="#0f0"/><stop offset="0.541" stop-color="#0f0"/><stop offset="0.625" stop-color="#00ff6d"/><stop offset="0.744" stop-color="#0ff"/><stop offset="0.875" stop-color="#09f"/><stop offset="1" stop-color="#003fff"/></linearGradient><linearGradient id="g1_41" gradientUnits="userSpaceOnUse" x1="254.3" x2="382.6"><stop offset="0" stop-color="#f00"/><stop offset="0.009" stop-color="#f00"/><stop offset="0.125" stop-color="#ffa300"/><stop offset="0.193" stop-color="#fffe00"/><stop offset="0.25" stop-color="#b8ff00"/><stop offset="0.403" stop-color="#0f0"/><stop offset="0.5" stop-color="#0f0"/><stop offset="0.554" stop-color="#0f0"/><stop offset="0.625" stop-color="#00ff5c"/><stop offset="0.757" stop-color="#0ff"/><stop offset="0.875" stop-color="#00a2ff"/><stop offset="1" stop-color="#0048ff"/></linearGradient><linearGradient id="g1_42" gradientUnits="userSpaceOnUse" x1="254.3" x2="382.6"><stop offset="0" stop-color="#f00"/><stop offset="0.024" stop-color="#ff0100"/><stop offset="0.125" stop-color="#ff8f00"/><stop offset="0.207" stop-color="#fffe00"/><stop offset="0.25" stop-color="#c9ff00"/><stop offset="0.375" stop-color="#31ff00"/><stop offset="0.417" stop-color="#0f0"/><stop offset="0.5" stop-color="#0f0"/><stop offset="0.568" stop-color="#0f0"/><stop offset="0.625" stop-color="#00ff4b"/><stop offset="0.771" stop-color="#0ff"/><stop offset="0.875" stop-color="#00acff"/><stop offset="1" stop-color="#0051ff"/></linearGradient><clipPath id="cp2"><rect x="258.0" y="385.2" width="127.7" height="127.2"/></clipPath><linearGradient id="g2_0" gradientUnits="userSpaceOnUse" x1="258.0" x2="385.7"><stop offset="0" stop-color="#00ffb7"/><stop offset="0.125" stop-color="#00ffe6"/><stop offset="0.207" stop-color="#0ff"/><stop offset="0.25" stop-color="#00f7ff"/><stop offset="0.375" stop-color="#00e3ff"/><stop offset="0.5" stop-color="#00d6ff"/><stop offset="0.625" stop-color="#00d0ff"/><stop offset="0.75" stop-color="#00d0ff"/><stop offset="0.875" stop-color="#00d7ff"/><stop offset="1" stop-color="#00e4ff"/></linearGradient><linearGradient id="g2_1" gradientUnits="userSpaceOnUse" x1="258.0" x2="385.7"><stop offset="0" stop-color="#00ffb0"/><stop offset="0.125" stop-color="#00ffe0"/><stop offset="0.22" stop-color="#0ff"/><stop offset="0.375" stop-color="#00e4ff"/><stop offset="0.5" stop-color="#00d6ff"/><stop offset="0.625" stop-color="#00cfff"/><stop offset="0.75" stop-color="#00ceff"/><stop offset="0.875" stop-color="#00d4ff"/><stop offset="1" stop-color="#00e0ff"/></linearGradient><linearGradient id="g2_2" gradientUnits="userSpaceOnUse" x1="258.0" x2="385.7"><stop offset="0" stop-color="#00ffa9"/><stop offset="0.125" stop-color="#00ffdb"/><stop offset="0.234" stop-color="#0ff"/><stop offset="0.375" stop-color="#00e6ff"/><stop offset="0.5" stop-color="#00d7ff"/><stop offset="0.625" stop-color="#00ceff"/><stop offset="0.75" stop-color="#0cf"/><stop offset="0.875" stop-color="#00d1ff"/><stop offset="1" stop-color="#00dcff"/></linearGradient><linearGradient id="g2_3" gradientUnits="userSpaceOnUse" x1="258.0" x2="385.7"><stop offset="0" stop-color="#00ffa1"/><stop offset="0.125" stop-color="#00ffd5"/><stop offset="0.249" stop-color="#0ff"/><stop offset="0.375" stop-color="#00e8ff"/><stop offset="0.5" stop-color="#00d7ff"/><stop offset="0.625" stop-color="#00ceff"/><stop offset="0.75" stop-color="#00caff"/><stop offset="0.875" stop-color="#00ceff"/><stop offset="1" stop-color="#00d8ff"/></linearGradient><linearGradient id="g2_4" gradientUnits="userSpaceOnUse" x1="258.0" x2="385.7"><stop offset="0" stop-color="#0f9"/><stop offset="0.125" stop-color="#00ffce"/><stop offset="0.265" stop-color="#0ff"/><stop offset="0.375" stop-color="#00eaff"/><stop offset="0.5" stop-color="#00d9ff"/><stop offset="0.625" stop-color="#00ceff"/><stop offset="0.75" stop-color="#00c9ff"/><stop offset="0.875" stop-color="#00cbff"/><stop offset="1" stop-color="#00d4ff"/></linearGradient><linearGradient id="g2_5" gradientUnits="userSpaceOnUse" x1="258.0" x2="385.7"><stop offset="0" stop-color="#00ff90"/><stop offset="0.125" stop-color="#00ffc8"/><stop offset="0.25" stop-color="#00fff5"/><stop offset="0.281" stop-color="#0ff"/><stop offset="0.375" stop-color="#00edff"/><stop offset="0.5" stop-color="#00daff"/><stop offset="0.625" stop-color="#00ceff"/><stop offset="0.75" stop-color="#00c8ff"/><stop offset="0.875" stop-color="#00c9ff"/><stop offset="1" stop-color="#00d1ff"/></linearGradient><linearGradient id="g2_6" gradientUnits="userSpaceOnUse" x1="258.0" x2="385.7"><stop offset="0" stop-color="#00ff87"/><stop offset="0.125" stop-color="#00ffc0"/><stop offset="0.25" stop-color="#00ffef"/><stop offset="0.298" stop-color="#0ff"/><stop offset="0.375" stop-color="#00efff"/><stop offset="0.5" stop-color="#00dcff"/><stop offset="0.625" stop-color="#00ceff"/><stop offset="0.75" stop-color="#00c8ff"/><stop offset="0.875" stop-color="#00c8ff"/><stop offset="1" stop-color="#00ceff"/></linearGradient><linearGradient id="g2_7" gradientUnits="userSpaceOnUse" x1="258.0" x2="385.7"><stop offset="0" stop-color="#00ff7e"/><stop offset="0.125" stop-color="#00ffb8"/><stop offset="0.25" stop-color="#00ffe9"/><stop offset="0.315" stop-color="#0ff"/><stop offset="0.375" stop-color="#00f3ff"/><stop offset="0.5" stop-color="#00deff"/><stop offset="0.625" stop-color="#00cfff"/><stop offset="0.75" stop-color="#00c7ff"/><stop offset="0.875" stop-color="#00c6ff"/><stop offset="1" stop-color="#00cbff"/></linearGradient><linearGradient id="g2_8" gradientUnits="userSpaceOnUse" x1="258.0" x2="385.7"><stop offset="0" stop-color="#00ff74"/><stop offset="0.125" stop-color="#00ffb0"/><stop offset="0.25" stop-color="#00ffe3"/><stop offset="0.333" stop-color="#0ff"/><stop offset="0.375" stop-color="#00f6ff"/><stop offset="0.5" stop-color="#00e0ff"/><stop offset="0.625" stop-color="#00d0ff"/><stop offset="0.75" stop-color="#00c7ff"/><stop offset="0.875" stop-color="#00c5ff"/><stop offset="1" stop-color="#00c9ff"/></linearGradient><linearGradient id="g2_9" gradientUnits="userSpaceOnUse" x1="258.0" x2="385.7"><stop offset="0" stop-color="#00ff69"/><stop offset="0.125" stop-color="#00ffa7"/><stop offset="0.25" stop-color="#00ffdb"/><stop offset="0.352" stop-color="#0ff"/><stop offset="0.5" stop-color="#00e3ff"/><stop offset="0.625" stop-color="#00d2ff"/><stop offset="0.75" stop-color="#00c8ff"/><stop offset="0.875" stop-color="#00c4ff"/><stop offset="1" stop-color="#00c7ff"/></linearGradient><linearGradient id="g2_10" gradientUnits="userSpaceOnUse" x1="258.0" x2="385.7"><stop offset="0" stop-color="#00ff5e"/><stop offset="0.125" stop-color="#00ff9e"/><stop offset="0.25" stop-color="#00ffd4"/><stop offset="0.371" stop-color="#0ff"/><stop offset="0.5" stop-color="#00e6ff"/><stop offset="0.625" stop-color="#00d4ff"/><stop offset="0.75" stop-color="#00c9ff"/><stop offset="0.875" stop-color="#00c4ff"/><stop offset="1" stop-color="#00c6ff"/></linearGradient><linearGradient id="g2_11" gradientUnits="userSpaceOnUse" x1="258.0" x2="385.7"><stop offset="0" stop-color="#00ff53"/><stop offset="0.125" stop-color="#00ff94"/><stop offset="0.25" stop-color="#0fc"/><stop offset="0.391" stop-color="#0ff"/><stop offset="0.5" stop-color="#00e9ff"/><stop offset="0.625" stop-color="#00d6ff"/><stop offset="0.75" stop-color="#00caff"/><stop offset="0.875" stop-color="#00c4ff"/><stop offset="1" stop-color="#00c4ff"/></linearGradient><linearGradient id="g2_12" gradientUnits="userSpaceOnUse" x1="258.0" x2="385.7"><stop offset="0" stop-color="#00ff47"/><stop offset="0.125" stop-color="#00ff8a"/><stop offset="0.25" stop-color="#00ffc3"/><stop offset="0.375" stop-color="#00fff3"/><stop offset="0.412" stop-color="#0ff"/><stop offset="0.5" stop-color="#00edff"/><stop offset="0.625" stop-color="#00d9ff"/><stop offset="0.75" stop-color="#00cbff"/><stop offset="0.875" stop-color="#00c4ff"/><stop offset="1" stop-color="#00c3ff"/></linearGradient><linearGradient id="g2_13" gradientUnits="userSpaceOnUse" x1="258.0" x2="385.7"><stop offset="0" stop-color="#00ff3b"/><stop offset="0.125" stop-color="#00ff7f"/><stop offset="0.25" stop-color="#00ffba"/><stop offset="0.375" stop-color="#00ffeb"/><stop offset="0.433" stop-color="#0ff"/><stop offset="0.5" stop-color="#00f1ff"/><stop offset="0.625" stop-color="#00dbff"/><stop offset="0.75" stop-color="#00cdff"/><stop offset="0.875" stop-color="#00c4ff"/><stop offset="1" stop-color="#00c3ff"/></linearGradient><linearGradient id="g2_14" gradientUnits="userSpaceOnUse" x1="258.0" x2="385.7"><stop offset="0" stop-color="#00ff2e"/><stop offset="0.125" stop-color="#00ff74"/><stop offset="0.25" stop-color="#00ffb0"/><stop offset="0.375" stop-color="#00ffe4"/><stop offset="0.454" stop-color="#0ff"/><stop offset="0.5" stop-color="#00f5ff"/><stop offset="0.625" stop-color="#00dfff"/><stop offset="0.75" stop-color="#00cfff"/><stop offset="0.875" stop-color="#00c5ff"/><stop offset="1" stop-color="#00c3ff"/></linearGradient><linearGradient id="g2_15" gradientUnits="userSpaceOnUse" x1="258.0" x2="385.7"><stop offset="0" stop-color="#00ff20"/><stop offset="0.125" stop-color="#00ff68"/><stop offset="0.25" stop-color="#00ffa6"/><stop offset="0.375" stop-color="#00ffdb"/><stop offset="0.476" stop-color="#0ff"/><stop offset="0.625" stop-color="#00e2ff"/><stop offset="0.75" stop-color="#00d1ff"/><stop offset="0.875" stop-color="#00c7ff"/><stop offset="1" stop-color="#00c3ff"/></linearGradient><linearGradient id="g2_16" gradientUnits="userSpaceOnUse" x1="258.0" x2="385.7"><stop offset="0" stop-color="#00ff13"/><stop offset="0.125" stop-color="#00ff5c"/><stop offset="0.25" stop-color="#00ff9c"/><stop offset="0.375" stop-color="#00ffd2"/><stop offset="0.499" stop-color="#0ff"/><stop offset="0.625" stop-color="#00e6ff"/><stop offset="0.75" stop-color="#00d4ff"/><stop offset="0.875" stop-color="#00c8ff"/><stop offset="1" stop-color="#00c3ff"/></linearGradient><linearGradient id="g2_17" gradientUnits="userSpaceOnUse" x1="258.0" x2="385.7"><stop offset="0" stop-color="#00ff04"/><stop offset="0.125" stop-color="#00ff4f"/><stop offset="0.25" stop-color="#00ff91"/><stop offset="0.375" stop-color="#00ffc9"/><stop offset="0.522" stop-color="#0ff"/><stop offset="0.625" stop-color="#00eaff"/><stop offset="0.75" stop-color="#00d7ff"/><stop offset="0.875" stop-color="#00caff"/><stop offset="1" stop-color="#00c4ff"/></linearGradient><linearGradient id="g2_18" gradientUnits="userSpaceOnUse" x1="258.0" x2="385.7"><stop offset="0" stop-color="#0f0"/><stop offset="0.016" stop-color="#0f0"/><stop offset="0.125" stop-color="#00ff42"/><stop offset="0.25" stop-color="#00ff86"/><stop offset="0.375" stop-color="#00ffbf"/><stop offset="0.5" stop-color="#00fff0"/><stop offset="0.546" stop-color="#0ff"/><stop offset="0.625" stop-color="#00efff"/><stop offset="0.75" stop-color="#00daff"/><stop offset="0.875" stop-color="#0cf"/><stop offset="1" stop-color="#00c5ff"/></linearGradient><linearGradient id="g2_19" gradientUnits="userSpaceOnUse" x1="258.0" x2="385.7"><stop offset="0" stop-color="#0f0"/><stop offset="0.039" stop-color="#0f0"/><stop offset="0.125" stop-color="#00ff35"/><stop offset="0.25" stop-color="#00ff7a"/><stop offset="0.375" stop-color="#00ffb5"/><stop offset="0.5" stop-color="#00ffe7"/><stop offset="0.57" stop-color="#0ff"/><stop offset="0.625" stop-color="#00f3ff"/><stop offset="0.75" stop-color="#00deff"/><stop offset="0.875" stop-color="#00cfff"/><stop offset="1" stop-color="#00c6ff"/></linearGradient><linearGradient id="g2_20" gradientUnits="userSpaceOnUse" x1="258.0" x2="385.7"><stop offset="0" stop-color="#0f0"/><stop offset="0.063" stop-color="#0f0"/><stop offset="0.125" stop-color="#00ff27"/><stop offset="0.25" stop-color="#00ff6d"/><stop offset="0.375" stop-color="#0fa"/><stop offset="0.5" stop-color="#00ffde"/><stop offset="0.595" stop-color="#0ff"/><stop offset="0.75" stop-color="#00e2ff"/><stop offset="0.875" stop-color="#00d2ff"/><stop offset="1" stop-color="#00c8ff"/></linearGradient><linearGradient id="g2_21" gradientUnits="userSpaceOnUse" x1="258.0" x2="385.7"><stop offset="0" stop-color="#0f0"/><stop offset="0.086" stop-color="#0f0"/><stop offset="0.125" stop-color="#00ff18"/><stop offset="0.25" stop-color="#00ff60"/><stop offset="0.375" stop-color="#00ff9f"/><stop offset="0.5" stop-color="#00ffd4"/><stop offset="0.621" stop-color="#0ff"/><stop offset="0.75" stop-color="#00e6ff"/><stop offset="0.875" stop-color="#00d5ff"/><stop offset="1" stop-color="#00caff"/></linearGradient><linearGradient id="g2_22" gradientUnits="userSpaceOnUse" x1="258.0" x2="385.7"><stop offset="0" stop-color="#0f0"/><stop offset="0.11" stop-color="#0f0"/><stop offset="0.25" stop-color="#00ff53"/><stop offset="0.375" stop-color="#00ff93"/><stop offset="0.5" stop-color="#00ffca"/><stop offset="0.647" stop-color="#0ff"/><stop offset="0.75" stop-color="#00ebff"/><stop offset="0.875" stop-color="#00d8ff"/><stop offset="1" stop-color="#0cf"/></linearGradient><linearGradient id="g2_23" gradientUnits="userSpaceOnUse" x1="258.0" x2="385.7"><stop offset="0" stop-color="#0f0"/><stop offset="0.135" stop-color="#0f0"/><stop offset="0.25" stop-color="#00ff45"/><stop offset="0.375" stop-color="#00ff87"/><stop offset="0.5" stop-color="#00ffc0"/><stop offset="0.625" stop-color="#00ffef"/><stop offset="0.674" stop-color="#0ff"/><stop offset="0.75" stop-color="#00f0ff"/><stop offset="0.875" stop-color="#00dcff"/><stop offset="1" stop-color="#00cfff"/></linearGradient><linearGradient id="g2_24" gradientUnits="userSpaceOnUse" x1="258.0" x2="385.7"><stop offset="0" stop-color="#0f0"/><stop offset="0.125" stop-color="#0f0"/><stop offset="0.159" stop-color="#0f0"/><stop offset="0.25" stop-color="#00ff37"/><stop offset="0.375" stop-color="#00ff7b"/><stop offset="0.5" stop-color="#00ffb5"/><stop offset="0.625" stop-color="#00ffe6"/><stop offset="0.701" stop-color="#0ff"/><stop offset="0.75" stop-color="#00f5ff"/><stop offset="0.875" stop-color="#00e0ff"/><stop offset="1" stop-color="#00d2ff"/></linearGradient><linearGradient id="g2_25" gradientUnits="userSpaceOnUse" x1="258.0" x2="385.7"><stop offset="0" stop-color="#0f0"/><stop offset="0.125" stop-color="#0f0"/><stop offset="0.184" stop-color="#0f0"/><stop offset="0.25" stop-color="#00ff28"/><stop offset="0.375" stop-color="#00ff6e"/><stop offset="0.5" stop-color="#0fa"/><stop offset="0.625" stop-color="#00ffdc"/><stop offset="0.729" stop-color="#0ff"/><stop offset="0.875" stop-color="#00e5ff"/><stop offset="1" stop-color="#00d5ff"/></linearGradient><linearGradient id="g2_26" gradientUnits="userSpaceOnUse" x1="258.0" x2="385.7"><stop offset="0" stop-color="#0f0"/><stop offset="0.125" stop-color="#0f0"/><stop offset="0.209" stop-color="#0f0"/><stop offset="0.25" stop-color="#00ff19"/><stop offset="0.375" stop-color="#00ff60"/><stop offset="0.5" stop-color="#00ff9e"/><stop offset="0.625" stop-color="#00ffd2"/><stop offset="0.758" stop-color="#0ff"/><stop offset="0.875" stop-color="#00eaff"/><stop offset="1" stop-color="#00d9ff"/></linearGradient><linearGradient id="g2_27" gradientUnits="userSpaceOnUse" x1="258.0" x2="385.7"><stop offset="0" stop-color="#0f0"/><stop offset="0.125" stop-color="#0f0"/><stop offset="0.235" stop-color="#0f0"/><stop offset="0.375" stop-color="#00ff52"/><stop offset="0.5" stop-color="#00ff91"/><stop offset="0.625" stop-color="#00ffc7"/><stop offset="0.75" stop-color="#00fff3"/><stop offset="0.788" stop-color="#0ff"/><stop offset="0.875" stop-color="#00efff"/><stop offset="1" stop-color="#0df"/></linearGradient><linearGradient id="g2_28" gradientUnits="userSpaceOnUse" x1="258.0" x2="385.7"><stop offset="0" stop-color="#0f0"/><stop offset="0.125" stop-color="#0f0"/><stop offset="0.261" stop-color="#0f0"/><stop offset="0.375" stop-color="#0f4"/><stop offset="0.5" stop-color="#00ff84"/><stop offset="0.625" stop-color="#00ffbc"/><stop offset="0.75" stop-color="#00ffea"/><stop offset="0.818" stop-color="#0ff"/><stop offset="0.875" stop-color="#00f4ff"/><stop offset="1" stop-color="#00e1ff"/></linearGradient><linearGradient id="g2_29" gradientUnits="userSpaceOnUse" x1="258.0" x2="385.7"><stop offset="0" stop-color="#0f0"/><stop offset="0.125" stop-color="#0f0"/><stop offset="0.25" stop-color="#0f0"/><stop offset="0.287" stop-color="#0f0"/><stop offset="0.375" stop-color="#00ff35"/><stop offset="0.5" stop-color="#0f7"/><stop offset="0.625" stop-color="#00ffb0"/><stop offset="0.75" stop-color="#00ffe0"/><stop offset="0.849" stop-color="#0ff"/><stop offset="1" stop-color="#00e6ff"/></linearGradient><linearGradient id="g2_30" gradientUnits="userSpaceOnUse" x1="258.0" x2="385.7"><stop offset="0" stop-color="#0bff00"/><stop offset="0.017" stop-color="#0f0"/><stop offset="0.125" stop-color="#0f0"/><stop offset="0.25" stop-color="#0f0"/><stop offset="0.313" stop-color="#0f0"/><stop offset="0.375" stop-color="#00ff25"/><stop offset="0.5" stop-color="#00ff69"/><stop offset="0.625" stop-color="#00ffa4"/><stop offset="0.75" stop-color="#00ffd5"/><stop offset="0.881" stop-color="#0ff"/><stop offset="1" stop-color="#00ebff"/></linearGradient><linearGradient id="g2_31" gradientUnits="userSpaceOnUse" x1="258.0" x2="385.7"><stop offset="0" stop-color="#1bff00"/><stop offset="0.042" stop-color="#0f0"/><stop offset="0.125" stop-color="#0f0"/><stop offset="0.25" stop-color="#0f0"/><stop offset="0.34" stop-color="#0f0"/><stop offset="0.375" stop-color="#00ff15"/><stop offset="0.5" stop-color="#00ff5b"/><stop offset="0.625" stop-color="#00ff98"/><stop offset="0.75" stop-color="#00ffcb"/><stop offset="0.875" stop-color="#00fff4"/><stop offset="0.914" stop-color="#0ff"/><stop offset="1" stop-color="#00f0ff"/></linearGradient><linearGradient id="g2_32" gradientUnits="userSpaceOnUse" x1="258.0" x2="385.7"><stop offset="0" stop-color="#2cff00"/><stop offset="0.068" stop-color="#0f0"/><stop offset="0.125" stop-color="#0f0"/><stop offset="0.25" stop-color="#0f0"/><stop offset="0.367" stop-color="#0f0"/><stop offset="0.5" stop-color="#00ff4c"/><stop offset="0.625" stop-color="#00ff8a"/><stop offset="0.75" stop-color="#00ffbf"/><stop offset="0.875" stop-color="#00ffea"/><stop offset="0.947" stop-color="#0ff"/><stop offset="1" stop-color="#00f6ff"/></linearGradient><linearGradient id="g2_33" gradientUnits="userSpaceOnUse" x1="258.0" x2="385.7"><stop offset="0" stop-color="#3dff00"/><stop offset="0.094" stop-color="#0f0"/><stop offset="0.125" stop-color="#0f0"/><stop offset="0.25" stop-color="#0f0"/><stop offset="0.394" stop-color="#0f0"/><stop offset="0.5" stop-color="#00ff3d"/><stop offset="0.625" stop-color="#00ff7d"/><stop offset="0.75" stop-color="#00ffb3"/><stop offset="0.875" stop-color="#00ffe0"/><stop offset="0.982" stop-color="#0ff"/><stop offset="1" stop-color="#00fcff"/></linearGradient><linearGradient id="g2_34" gradientUnits="userSpaceOnUse" x1="258.0" x2="385.7"><stop offset="0" stop-color="#4fff00"/><stop offset="0.121" stop-color="#0f0"/><stop offset="0.25" stop-color="#0f0"/><stop offset="0.375" stop-color="#0f0"/><stop offset="0.422" stop-color="#0f0"/><stop offset="0.5" stop-color="#00ff2e"/><stop offset="0.625" stop-color="#00ff6f"/><stop offset="0.75" stop-color="#00ffa7"/><stop offset="0.875" stop-color="#00ffd5"/><stop offset="1" stop-color="#00fffa"/></linearGradient><linearGradient id="g2_35" gradientUnits="userSpaceOnUse" x1="258.0" x2="385.7"><stop offset="0" stop-color="#61ff00"/><stop offset="0.147" stop-color="#0f0"/><stop offset="0.25" stop-color="#0f0"/><stop offset="0.375" stop-color="#0f0"/><stop offset="0.45" stop-color="#0f0"/><stop offset="0.5" stop-color="#00ff1d"/><stop offset="0.625" stop-color="#00ff60"/><stop offset="0.75" stop-color="#00ff9a"/><stop offset="0.875" stop-color="#00ffca"/><stop offset="1" stop-color="#00fff1"/></linearGradient><linearGradient id="g2_36" gradientUnits="userSpaceOnUse" x1="258.0" x2="385.7"><stop offset="0" stop-color="#74ff00"/><stop offset="0.125" stop-color="#1fff00"/><stop offset="0.174" stop-color="#0f0"/><stop offset="0.25" stop-color="#0f0"/><stop offset="0.375" stop-color="#0f0"/><stop offset="0.479" stop-color="#0f0"/><stop offset="0.625" stop-color="#00ff51"/><stop offset="0.75" stop-color="#00ff8d"/><stop offset="0.875" stop-color="#00ffbf"/><stop offset="1" stop-color="#00ffe7"/></linearGradient><linearGradient id="g2_37" gradientUnits="userSpaceOnUse" x1="258.0" x2="385.7"><stop offset="0" stop-color="#86ff00"/><stop offset="0.125" stop-color="#31ff00"/><stop offset="0.201" stop-color="#0f0"/><stop offset="0.25" stop-color="#0f0"/><stop offset="0.375" stop-color="#0f0"/><stop offset="0.507" stop-color="#0f0"/><stop offset="0.625" stop-color="#00ff42"/><stop offset="0.75" stop-color="#00ff7f"/><stop offset="0.875" stop-color="#00ffb2"/><stop offset="1" stop-color="#00ffdc"/></linearGradient><linearGradient id="g2_38" gradientUnits="userSpaceOnUse" x1="258.0" x2="385.7"><stop offset="0" stop-color="#9aff00"/><stop offset="0.125" stop-color="#42ff00"/><stop offset="0.229" stop-color="#0f0"/><stop offset="0.375" stop-color="#0f0"/><stop offset="0.5" stop-color="#0f0"/><stop offset="0.536" stop-color="#0f0"/><stop offset="0.625" stop-color="#00ff32"/><stop offset="0.75" stop-color="#00ff71"/><stop offset="0.875" stop-color="#00ffa6"/><stop offset="1" stop-color="#00ffd2"/></linearGradient><linearGradient id="g2_39" gradientUnits="userSpaceOnUse" x1="258.0" x2="385.7"><stop offset="0" stop-color="#adff00"/><stop offset="0.125" stop-color="#5f0"/><stop offset="0.256" stop-color="#0f0"/><stop offset="0.375" stop-color="#0f0"/><stop offset="0.5" stop-color="#0f0"/><stop offset="0.566" stop-color="#0f0"/><stop offset="0.625" stop-color="#0f2"/><stop offset="0.75" stop-color="#00ff62"/><stop offset="0.875" stop-color="#0f9"/><stop offset="1" stop-color="#00ffc6"/></linearGradient><linearGradient id="g2_40" gradientUnits="userSpaceOnUse" x1="258.0" x2="385.7"><stop offset="0" stop-color="#c1ff00"/><stop offset="0.125" stop-color="#67ff00"/><stop offset="0.25" stop-color="#15ff00"/><stop offset="0.284" stop-color="#0f0"/><stop offset="0.375" stop-color="#0f0"/><stop offset="0.5" stop-color="#0f0"/><stop offset="0.596" stop-color="#0f0"/><stop offset="0.75" stop-color="#00ff53"/><stop offset="0.875" stop-color="#00ff8b"/><stop offset="1" stop-color="#00ffba"/></linearGradient><linearGradient id="g2_41" gradientUnits="userSpaceOnUse" x1="258.0" x2="385.7"><stop offset="0" stop-color="#d5ff00"/><stop offset="0.125" stop-color="#7aff00"/><stop offset="0.25" stop-color="#27ff00"/><stop offset="0.312" stop-color="#0f0"/><stop offset="0.375" stop-color="#0f0"/><stop offset="0.5" stop-color="#0f0"/><stop offset="0.626" stop-color="#0f0"/><stop offset="0.75" stop-color="#00ff43"/><stop offset="0.875" stop-color="#00ff7d"/><stop offset="1" stop-color="#00ffae"/></linearGradient><linearGradient id="g2_42" gradientUnits="userSpaceOnUse" x1="258.0" x2="385.7"><stop offset="0" stop-color="#e9ff00"/><stop offset="0.125" stop-color="#8dff00"/><stop offset="0.25" stop-color="#38ff00"/><stop offset="0.34" stop-color="#0f0"/><stop offset="0.375" stop-color="#0f0"/><stop offset="0.5" stop-color="#0f0"/><stop offset="0.625" stop-color="#0f0"/><stop offset="0.655" stop-color="#0f0"/><stop offset="0.75" stop-color="#0f3"/><stop offset="0.875" stop-color="#00ff6f"/><stop offset="1" stop-color="#00ffa1"/></linearGradient></defs><g clip-path="url(#cp0)" shape-rendering="crispEdges">
<rect x="253" y="12" width="131" height="3" fill="url(#g0_0)"/>
<rect x="253" y="15" width="131" height="3" fill="url(#g0_1)"/>
<rect x="253" y="18" width="131" height="3" fill="url(#g0_2)"/>
<rect x="253" y="21" width="131" height="3" fill="url(#g0_3)"/>
<rect x="253" y="24" width="131" height="3" fill="url(#g0_4)"/>
<rect x="253" y="27" width="131" height="3" fill="url(#g0_5)"/>
<rect x="253" y="30" width="131" height="3" fill="url(#g0_6)"/>
<rect x="253" y="33" width="131" height="3" fill="url(#g0_7)"/>
<rect x="253" y="36" width="131" height="3" fill="url(#g0_8)"/>
<rect x="253" y="39" width="131" height="3" fill="url(#g0_9)"/>
<rect x="253" y="42" width="131" height="3" fill="url(#g0_10)"/>
<rect x="253" y="45" width="131" height="3" fill="url(#g0_11)"/>
<rect x="253" y="48" width="131" height="3" fill="url(#g0_12)"/>
<rect x="253" y="51" width="131" height="3" fill="url(#g0_13)"/>
<rect x="253" y="54" width="131" height="3" fill="url(#g0_14)"/>
<rect x="253" y="57" width="131" height="3" fill="url(#g0_15)"/>
<rect x="253" y="60" width="131" height="3" fill="url(#g0_16)"/>
<rect x="253" y="63" width="131" height="3" fill="url(#g0_17)"/>
<rect x="253" y="66" width="131" height="3" fill="url(#g0_18)"/>
<rect x="253" y="69" width="131" height="3" fill="url(#g0_19)"/>
<rect x="253" y="72" width="131" height="3" fill="url(#g0_20)"/>
<rect x="253" y="75" width="131" height="3" fill="url(#g0_21)"/>
<rect x="253" y="78" width="131" height="3" fill="url(#g0_22)"/>
<rect x="253" y="81" width="131" height="3" fill="url(#g0_23)"/>
<rect x="253" y="84" width="131" height="3" fill="url(#g0_24)"/>
<rect x="253" y="87" width="131" height="3" fill="url(#g0_25)"/>
<rect x="253" y="90" width="131" height="3" fill="url(#g0_26)"/>
<rect x="253" y="93" width="131" height="3" fill="url(#g0_27)"/>
<rect x="253" y="96" width="131" height="3" fill="url(#g0_28)"/>
<rect x="253" y="99" width="131" height="3" fill="url(#g0_29)"/>
<rect x="253" y="102" width="131" height="3" fill="url(#g0_30)"/>
<rect x="253" y="105" width="131" height="3" fill="url(#g0_31)"/>
<rect x="253" y="108" width="131" height="3" fill="url(#g0_32)"/>
<rect x="253" y="111" width="131" height="3" fill="url(#g0_33)"/>
<rect x="253" y="114" width="131" height="3" fill="url(#g0_34)"/>
<rect x="253" y="117" width="131" height="3" fill="url(#g0_35)"/>
<rect x="253" y="120" width="131" height="3" fill="url(#g0_36)"/>
<rect x="253" y="123" width="131" height="3" fill="url(#g0_37)"/>
<rect x="253" y="126" width="131" height="3" fill="url(#g0_38)"/>
<rect x="253" y="129" width="131" height="3" fill="url(#g0_39)"/>
<rect x="253" y="132" width="131" height="3" fill="url(#g0_40)"/>
<rect x="253" y="135" width="131" height="3" fill="url(#g0_41)"/>
<rect x="253" y="138" width="131" height="3" fill="url(#g0_42)"/>
</g>
<path d="M382.0 120.1L380.2 116.4L378.4 112.6L376.9 109.2L375.6 106.2L374.0 102.4L372.4 98.6L370.9 94.8L369.4 91.0L368.1 87.2L366.7 83.4L365.5 79.6L364.3 75.8L363.1 71.9L362.0 68.1L361.0 64.3L360.1 60.5L359.0 55.6L358.1 51.6L357.4 47.8L356.6 42.8L356.1 38.9L355.5 33.9L355.1 30.1L354.8 25.0L354.6 19.9L354.6 14.8L354.7 12.3M361.6 139.2L360.2 136.7L358.2 132.9L356.4 129.4L354.9 126.5L353.0 122.7L351.3 119.2L349.9 116.4L348.1 112.6L346.4 108.7L344.9 105.3L343.6 102.4L342.0 98.6L340.4 94.8L338.9 91.0L337.4 87.2L336.0 83.4L334.6 79.6L333.4 75.9L332.1 72.1L330.8 68.1L329.6 64.3L328.5 60.5L327.4 56.7L326.4 52.9L325.5 49.1L324.4 44.7L323.4 40.2L322.6 36.4L321.8 32.2L321.0 27.5L320.5 23.7L319.8 18.6L319.3 14.0L319.1 12.3M336.1 139.2L334.6 136.4L332.8 132.9L330.8 129.1L329.5 126.5L327.6 122.7L325.7 118.9L324.4 116.1L322.7 112.6L321.0 108.7L319.3 105.0L318.0 102.1L316.5 98.6L314.9 94.8L313.3 91.0L311.8 87.2L310.3 83.4L309.0 79.9L307.8 76.4L306.5 72.8L305.2 69.2L303.9 65.3L302.6 61.4L301.4 57.3L300.1 53.0L299.0 49.1L297.9 45.3L296.9 41.5L295.9 37.7L295.0 33.5L293.9 28.8L293.1 25.0L292.4 21.2L291.5 16.1L290.8 12.3M313.7 139.2L311.7 135.4L310.3 132.7L308.4 129.0L306.5 125.2L305.2 122.6L303.4 118.9L301.6 115.1L300.1 111.9L298.6 108.7L296.9 104.9L295.2 101.1L293.7 97.5L292.4 94.5L290.9 91.0L289.4 87.2L287.8 83.4L286.4 79.6L284.9 75.8L283.5 71.9L282.2 68.2L280.9 64.5L279.6 60.7L278.3 56.8L277.1 52.9L275.9 49.1L274.8 45.3L273.7 41.5L272.6 37.7L271.6 33.9L270.6 30.1L269.4 25.0L268.5 21.2L267.7 17.4L266.8 13.1L266.6 12.3M293.5 139.2L291.5 135.4L289.8 132.1L288.3 129.0L286.4 125.2L284.7 121.9L283.3 118.9L281.4 115.1L279.7 111.3L278.3 108.4L276.8 104.9L275.1 101.1L273.4 97.3L271.9 93.9L270.6 90.9L269.1 87.2L267.6 83.4L266.1 79.6L264.6 75.8L263.1 71.9L261.7 68.1L260.4 64.5L259.1 60.8L257.8 57.1L256.6 53.3L255.3 49.3L254.0 45.3L254.0 45.3M275.0 139.2L273.2 135.8L271.7 132.9L269.8 129.0L268.1 125.7L266.6 122.7L264.8 118.9L263.0 115.1L261.7 112.4L260.0 108.7L258.2 104.9L256.6 101.2L255.3 98.3L254.0 95.4" fill="none" stroke="#14301c" stroke-width="0.55" stroke-opacity="0.85"/>
<path d="M254.0 12.3V139.2H382.0M254.0 139.2v2.4M279.6 139.2v2.4M305.2 139.2v2.4M330.8 139.2v2.4M356.4 139.2v2.4M382.0 139.2v2.4M254.0 139.2h-2.6M254.0 118.0h-2.6M254.0 96.9h-2.6M254.0 75.8h-2.6M254.0 54.6h-2.6M254.0 33.4h-2.6M254.0 12.3h-2.6" fill="none" stroke="#777" stroke-width="0.5"/>
<text x="254.0" y="148.4" font-size="5.45" text-anchor="middle" fill="#262626">3</text>
<text x="279.6" y="148.4" font-size="5.45" text-anchor="middle" fill="#262626">3.6</text>
<text x="305.2" y="148.4" font-size="5.45" text-anchor="middle" fill="#262626">4.2</text>
<text x="330.8" y="148.4" font-size="5.45" text-anchor="middle" fill="#262626">4.8</text>
<text x="356.4" y="148.4" font-size="5.45" text-anchor="middle" fill="#262626">5.4</text>
<text x="382.0" y="148.4" font-size="5.45" text-anchor="middle" fill="#262626">6</text>
<text x="250.5" y="141.0" font-size="5.45" text-anchor="end" fill="#262626">3</text>
<text x="250.5" y="119.8" font-size="5.45" text-anchor="end" fill="#262626">4</text>
<text x="250.5" y="98.7" font-size="5.45" text-anchor="end" fill="#262626">5</text>
<text x="250.5" y="77.5" font-size="5.45" text-anchor="end" fill="#262626">6</text>
<text x="250.5" y="56.4" font-size="5.45" text-anchor="end" fill="#262626">7</text>
<text x="250.5" y="35.2" font-size="5.45" text-anchor="end" fill="#262626">8</text>
<text x="250.5" y="14.1" font-size="5.45" text-anchor="end" fill="#262626">9</text>
<text x="318.0" y="9.7" font-size="6.45" text-anchor="middle" fill="#1a1a1a">Deformation (mm)</text>
<text x="317.7" y="157.0" font-size="5.35" text-anchor="middle" fill="#262626">A: Wall thickness</text>
<text transform="translate(235.3 75.8) rotate(-90)" font-size="5.45" text-anchor="middle" fill="#262626">B: Number of bellows</text>
<rect x="255.0" y="132.8" width="4.6" height="3.6" fill="#f1f1f1" stroke="#4a4a4a" stroke-width="0.35"/>
<text x="257.3" y="135.4" font-size="2.4" text-anchor="middle" fill="#777" stroke="none">18</text>
<rect x="261.9" y="116.4" width="4.6" height="3.6" fill="#f1f1f1" stroke="#4a4a4a" stroke-width="0.35"/>
<text x="264.2" y="119.0" font-size="2.4" text-anchor="middle" fill="#777" stroke="none">16</text>
<rect x="269.2" y="91.2" width="4.6" height="3.6" fill="#f1f1f1" stroke="#4a4a4a" stroke-width="0.35"/>
<text x="271.5" y="93.8" font-size="2.4" text-anchor="middle" fill="#777" stroke="none">14</text>
<rect x="283.5" y="76.4" width="4.6" height="3.6" fill="#f1f1f1" stroke="#4a4a4a" stroke-width="0.35"/>
<text x="285.8" y="79.0" font-size="2.4" text-anchor="middle" fill="#777" stroke="none">12</text>
<rect x="306.4" y="77.2" width="4.6" height="3.6" fill="#f1f1f1" stroke="#4a4a4a" stroke-width="0.35"/>
<text x="308.7" y="79.8" font-size="2.4" text-anchor="middle" fill="#777" stroke="none">10</text>
<rect x="333.7" y="76.8" width="4.6" height="3.6" fill="#f1f1f1" stroke="#4a4a4a" stroke-width="0.35"/>
<text x="336.0" y="79.4" font-size="2.4" text-anchor="middle" fill="#777" stroke="none">8</text>
<rect x="361.7" y="69.2" width="4.6" height="3.6" fill="#f1f1f1" stroke="#4a4a4a" stroke-width="0.35"/>
<text x="364.0" y="71.8" font-size="2.4" text-anchor="middle" fill="#777" stroke="none">6</text>
<circle cx="254.0" cy="12.3" r="1.2" fill="#c00000"/>
<circle cx="382.0" cy="12.3" r="1.2" fill="#c00000"/>
<circle cx="254.0" cy="139.2" r="1.2" fill="#c00000"/>
<circle cx="382.0" cy="139.2" r="1.2" fill="#c00000"/>
<circle cx="318.0" cy="75.8" r="1.2" fill="#c00000"/>
<text x="314.8" y="76.5" font-size="2.6" text-anchor="middle" fill="#666">5</text>
<g clip-path="url(#cp1)" shape-rendering="crispEdges">
<rect x="253" y="206" width="131" height="3" fill="url(#g1_0)"/>
<rect x="253" y="209" width="131" height="3" fill="url(#g1_1)"/>
<rect x="253" y="212" width="131" height="3" fill="url(#g1_2)"/>
<rect x="253" y="215" width="131" height="3" fill="url(#g1_3)"/>
<rect x="253" y="218" width="131" height="3" fill="url(#g1_4)"/>
<rect x="253" y="221" width="131" height="3" fill="url(#g1_5)"/>
<rect x="253" y="224" width="131" height="3" fill="url(#g1_6)"/>
<rect x="253" y="227" width="131" height="3" fill="url(#g1_7)"/>
<rect x="253" y="230" width="131" height="3" fill="url(#g1_8)"/>
<rect x="253" y="233" width="131" height="3" fill="url(#g1_9)"/>
<rect x="253" y="236" width="131" height="3" fill="url(#g1_10)"/>
<rect x="253" y="239" width="131" height="3" fill="url(#g1_11)"/>
<rect x="253" y="242" width="131" height="3" fill="url(#g1_12)"/>
<rect x="253" y="245" width="131" height="3" fill="url(#g1_13)"/>
<rect x="253" y="248" width="131" height="3" fill="url(#g1_14)"/>
<rect x="253" y="251" width="131" height="3" fill="url(#g1_15)"/>
<rect x="253" y="254" width="131" height="3" fill="url(#g1_16)"/>
<rect x="253" y="257" width="131" height="3" fill="url(#g1_17)"/>
<rect x="253" y="260" width="131" height="3" fill="url(#g1_18)"/>
<rect x="253" y="263" width="131" height="3" fill="url(#g1_19)"/>
<rect x="253" y="266" width="131" height="3" fill="url(#g1_20)"/>
<rect x="253" y="269" width="131" height="3" fill="url(#g1_21)"/>
<rect x="253" y="272" width="131" height="3" fill="url(#g1_22)"/>
<rect x="253" y="275" width="131" height="3" fill="url(#g1_23)"/>
<rect x="253" y="278" width="131" height="3" fill="url(#g1_24)"/>
<rect x="253" y="281" width="131" height="3" fill="url(#g1_25)"/>
<rect x="253" y="284" width="131" height="3" fill="url(#g1_26)"/>
<rect x="253" y="287" width="131" height="3" fill="url(#g1_27)"/>
<rect x="253" y="290" width="131" height="3" fill="url(#g1_28)"/>
<rect x="253" y="293" width="131" height="3" fill="url(#g1_29)"/>
<rect x="253" y="296" width="131" height="3" fill="url(#g1_30)"/>
<rect x="253" y="299" width="131" height="3" fill="url(#g1_31)"/>
<rect x="253" y="302" width="131" height="3" fill="url(#g1_32)"/>
<rect x="253" y="305" width="131" height="3" fill="url(#g1_33)"/>
<rect x="253" y="308" width="131" height="3" fill="url(#g1_34)"/>
<rect x="253" y="311" width="131" height="3" fill="url(#g1_35)"/>
<rect x="253" y="314" width="131" height="3" fill="url(#g1_36)"/>
<rect x="253" y="317" width="131" height="3" fill="url(#g1_37)"/>
<rect x="253" y="320" width="131" height="3" fill="url(#g1_38)"/>
<rect x="253" y="323" width="131" height="3" fill="url(#g1_39)"/>
<rect x="253" y="326" width="131" height="3" fill="url(#g1_40)"/>
<rect x="253" y="329" width="131" height="3" fill="url(#g1_41)"/>
<rect x="253" y="332" width="131" height="3" fill="url(#g1_42)"/>
</g>
<path d="M382.6 318.1L381.2 315.2L379.4 311.4L377.7 307.5L376.2 304.0L374.9 301.0L373.4 297.4L371.9 293.5L370.5 289.7L369.1 285.9L367.8 282.1L366.6 278.2L365.4 274.4L364.3 270.6L363.3 266.8L362.1 261.7L361.3 257.9L360.6 254.0L359.7 248.9L359.2 245.1L358.7 240.0L358.4 234.9L358.2 229.8L358.3 224.7L358.7 219.6L359.3 214.5L360.0 210.7L360.9 206.9M363.5 334.3L362.1 331.7L360.0 327.9L358.2 324.7L356.6 321.6L354.6 317.7L353.1 314.9L351.3 311.4L349.5 307.5L348.0 304.4L346.5 301.2L344.7 297.4L343.0 293.5L341.5 290.0L340.3 287.0L338.8 283.3L337.3 279.5L335.9 275.7L334.5 271.9L333.2 268.1L331.9 264.2L330.7 260.4L329.5 256.6L328.5 252.8L327.4 248.9L326.2 243.8L325.4 240.0L324.6 236.2L323.6 231.1L323.1 227.3L322.4 222.2L322.0 218.4L321.6 213.3L321.4 208.2L321.4 206.9M339.7 334.3L337.7 330.9L336.0 327.9L333.9 324.1L332.5 321.6L330.4 317.7L328.7 314.6L327.0 311.4L325.1 307.5L323.6 304.6L321.9 301.2L320.0 297.4L318.5 294.0L317.1 291.0L315.3 287.2L313.6 283.3L312.0 279.6L310.8 276.5L309.4 273.1L307.9 269.3L306.4 265.5L305.0 261.7L303.6 257.9L302.3 254.0L301.0 250.2L299.8 246.4L298.7 242.6L297.6 238.8L296.5 234.9L295.4 230.4L294.3 226.0L293.5 222.2L292.7 218.4L291.8 213.3L291.2 209.4L290.8 206.9M318.3 334.3L316.0 330.5L314.5 327.9L312.3 324.1L310.8 321.3L308.8 317.7L306.9 314.3L305.3 311.4L303.3 307.5L301.8 304.6L300.0 301.2L298.1 297.4L296.6 294.5L294.9 291.0L293.1 287.2L291.5 283.7L290.2 280.8L288.4 277.0L286.8 273.1L285.1 269.3L283.8 266.2L282.5 263.0L281.0 259.1L279.5 255.3L278.1 251.5L276.7 247.7L275.3 243.8L274.1 240.0L272.8 236.2L271.6 232.4L270.5 228.6L269.4 224.7L268.3 220.9L267.1 216.3L266.1 212.0L265.2 208.2L265.0 206.9M298.7 334.3L296.6 330.9L294.9 327.9L292.8 324.3L291.2 321.6L289.0 317.7L287.6 315.2L285.5 311.4L283.8 308.3L282.1 305.0L280.0 301.2L278.7 298.6L276.7 294.8L274.8 291.0L273.5 288.4L271.7 284.6L269.8 280.8L268.4 277.8L266.9 274.4L265.1 270.6L263.4 266.8L262.0 263.5L260.7 260.4L259.1 256.6L257.5 252.8L256.0 248.9L254.5 245.1L254.3 244.5M280.5 334.3L278.7 331.2L276.7 327.9L274.8 324.8L273.0 321.6L271.0 318.1L269.3 315.2L267.2 311.4L265.7 308.8L263.6 305.0L262.0 302.0L260.2 298.6L258.2 294.8L256.9 292.2L254.9 288.4L254.3 287.2" fill="none" stroke="#14301c" stroke-width="0.55" stroke-opacity="0.85"/>
<path d="M254.3 206.9V334.3H382.6M254.3 334.3v2.4M280.0 334.3v2.4M305.6 334.3v2.4M331.3 334.3v2.4M356.9 334.3v2.4M382.6 334.3v2.4M254.3 334.3h-2.6M254.3 302.4h-2.6M254.3 270.6h-2.6M254.3 238.8h-2.6M254.3 206.9h-2.6" fill="none" stroke="#777" stroke-width="0.5"/>
<text x="254.3" y="343.5" font-size="5.45" text-anchor="middle" fill="#262626">3</text>
<text x="280.0" y="343.5" font-size="5.45" text-anchor="middle" fill="#262626">3.6</text>
<text x="305.6" y="343.5" font-size="5.45" text-anchor="middle" fill="#262626">4.2</text>
<text x="331.3" y="343.5" font-size="5.45" text-anchor="middle" fill="#262626">4.8</text>
<text x="356.9" y="343.5" font-size="5.45" text-anchor="middle" fill="#262626">5.4</text>
<text x="382.6" y="343.5" font-size="5.45" text-anchor="middle" fill="#262626">6</text>
<text x="250.8" y="336.1" font-size="5.45" text-anchor="end" fill="#262626">2</text>
<text x="250.8" y="304.2" font-size="5.45" text-anchor="end" fill="#262626">2.5</text>
<text x="250.8" y="272.4" font-size="5.45" text-anchor="end" fill="#262626">3</text>
<text x="250.8" y="240.6" font-size="5.45" text-anchor="end" fill="#262626">3.5</text>
<text x="250.8" y="208.7" font-size="5.45" text-anchor="end" fill="#262626">4</text>
<text x="318.5" y="204.3" font-size="6.45" text-anchor="middle" fill="#1a1a1a">Deformation (mm)</text>
<text x="318.2" y="352.1" font-size="5.35" text-anchor="middle" fill="#262626">A: Wall thickness</text>
<text transform="translate(235.6 270.6) rotate(-90)" font-size="5.45" text-anchor="middle" fill="#262626">C: Divided ratio of radians</text>
<rect x="256.7" y="324.3" width="4.6" height="3.6" fill="#f1f1f1" stroke="#4a4a4a" stroke-width="0.35"/>
<text x="259.0" y="326.9" font-size="2.4" text-anchor="middle" fill="#777" stroke="none">18</text>
<rect x="264.7" y="308.6" width="4.6" height="3.6" fill="#f1f1f1" stroke="#4a4a4a" stroke-width="0.35"/>
<text x="267.0" y="311.2" font-size="2.4" text-anchor="middle" fill="#777" stroke="none">16</text>
<rect x="272.1" y="287.9" width="4.6" height="3.6" fill="#f1f1f1" stroke="#4a4a4a" stroke-width="0.35"/>
<text x="274.4" y="290.5" font-size="2.4" text-anchor="middle" fill="#777" stroke="none">14</text>
<rect x="285.2" y="273.2" width="4.6" height="3.6" fill="#f1f1f1" stroke="#4a4a4a" stroke-width="0.35"/>
<text x="287.5" y="275.8" font-size="2.4" text-anchor="middle" fill="#777" stroke="none">12</text>
<rect x="308.3" y="273.7" width="4.6" height="3.6" fill="#f1f1f1" stroke="#4a4a4a" stroke-width="0.35"/>
<text x="310.6" y="276.3" font-size="2.4" text-anchor="middle" fill="#777" stroke="none">10</text>
<rect x="333.7" y="273.7" width="4.6" height="3.6" fill="#f1f1f1" stroke="#4a4a4a" stroke-width="0.35"/>
<text x="336.0" y="276.3" font-size="2.4" text-anchor="middle" fill="#777" stroke="none">8</text>
<rect x="360.9" y="263.8" width="4.6" height="3.6" fill="#f1f1f1" stroke="#4a4a4a" stroke-width="0.35"/>
<text x="363.2" y="266.4" font-size="2.4" text-anchor="middle" fill="#777" stroke="none">6</text>
<circle cx="254.3" cy="206.9" r="1.2" fill="#c00000"/>
<circle cx="382.6" cy="206.9" r="1.2" fill="#c00000"/>
<circle cx="254.3" cy="334.3" r="1.2" fill="#c00000"/>
<circle cx="382.6" cy="334.3" r="1.2" fill="#c00000"/>
<circle cx="318.5" cy="270.6" r="1.2" fill="#c00000"/>
<text x="315.3" y="271.4" font-size="2.6" text-anchor="middle" fill="#666">5</text>
<g clip-path="url(#cp2)" shape-rendering="crispEdges">
<rect x="257" y="385" width="130" height="3" fill="url(#g2_0)"/>
<rect x="257" y="388" width="130" height="3" fill="url(#g2_1)"/>
<rect x="257" y="391" width="130" height="3" fill="url(#g2_2)"/>
<rect x="257" y="394" width="130" height="3" fill="url(#g2_3)"/>
<rect x="257" y="397" width="130" height="3" fill="url(#g2_4)"/>
<rect x="257" y="400" width="130" height="3" fill="url(#g2_5)"/>
<rect x="257" y="403" width="130" height="3" fill="url(#g2_6)"/>
<rect x="257" y="406" width="130" height="3" fill="url(#g2_7)"/>
<rect x="257" y="409" width="130" height="3" fill="url(#g2_8)"/>
<rect x="257" y="412" width="130" height="3" fill="url(#g2_9)"/>
<rect x="257" y="415" width="130" height="3" fill="url(#g2_10)"/>
<rect x="257" y="418" width="130" height="3" fill="url(#g2_11)"/>
<rect x="257" y="421" width="130" height="3" fill="url(#g2_12)"/>
<rect x="257" y="424" width="130" height="3" fill="url(#g2_13)"/>
<rect x="257" y="427" width="130" height="3" fill="url(#g2_14)"/>
<rect x="257" y="430" width="130" height="3" fill="url(#g2_15)"/>
<rect x="257" y="433" width="130" height="3" fill="url(#g2_16)"/>
<rect x="257" y="436" width="130" height="3" fill="url(#g2_17)"/>
<rect x="257" y="439" width="130" height="3" fill="url(#g2_18)"/>
<rect x="257" y="442" width="130" height="3" fill="url(#g2_19)"/>
<rect x="257" y="445" width="130" height="3" fill="url(#g2_20)"/>
<rect x="257" y="448" width="130" height="3" fill="url(#g2_21)"/>
<rect x="257" y="451" width="130" height="3" fill="url(#g2_22)"/>
<rect x="257" y="454" width="130" height="3" fill="url(#g2_23)"/>
<rect x="257" y="457" width="130" height="3" fill="url(#g2_24)"/>
<rect x="257" y="460" width="130" height="3" fill="url(#g2_25)"/>
<rect x="257" y="463" width="130" height="3" fill="url(#g2_26)"/>
<rect x="257" y="466" width="130" height="3" fill="url(#g2_27)"/>
<rect x="257" y="469" width="130" height="3" fill="url(#g2_28)"/>
<rect x="257" y="472" width="130" height="3" fill="url(#g2_29)"/>
<rect x="257" y="475" width="130" height="3" fill="url(#g2_30)"/>
<rect x="257" y="478" width="130" height="3" fill="url(#g2_31)"/>
<rect x="257" y="481" width="130" height="3" fill="url(#g2_32)"/>
<rect x="257" y="484" width="130" height="3" fill="url(#g2_33)"/>
<rect x="257" y="487" width="130" height="3" fill="url(#g2_34)"/>
<rect x="257" y="490" width="130" height="3" fill="url(#g2_35)"/>
<rect x="257" y="493" width="130" height="3" fill="url(#g2_36)"/>
<rect x="257" y="496" width="130" height="3" fill="url(#g2_37)"/>
<rect x="257" y="499" width="130" height="3" fill="url(#g2_38)"/>
<rect x="257" y="502" width="130" height="3" fill="url(#g2_39)"/>
<rect x="257" y="505" width="130" height="3" fill="url(#g2_40)"/>
<rect x="257" y="508" width="130" height="3" fill="url(#g2_41)"/>
<rect x="257" y="511" width="130" height="3" fill="url(#g2_42)"/>
</g>
<path d="M372.9 512.4L369.3 509.9L366.5 507.9L363.9 506.0L360.4 503.5L357.6 501.4L355.1 499.5L351.9 497.1L348.7 494.7L346.1 492.7L343.6 490.7L340.4 488.2L337.2 485.7L334.6 483.6L332.1 481.5L329.5 479.3L326.4 476.8L323.4 474.2L320.6 471.8L318.0 469.6L315.5 467.3L312.9 465.0L310.4 462.8L307.6 460.2L304.8 457.7L302.1 455.2L299.4 452.6L296.7 450.1L294.1 447.5L291.5 445.0L288.9 442.4L286.4 439.9L283.9 437.4L281.5 434.8L279.0 432.3L276.6 429.7L274.2 427.2L271.9 424.6L269.5 422.0L266.9 419.1L264.4 416.2L261.8 413.2L259.6 410.6L258.0 408.7M321.2 512.4L318.0 509.9L315.5 507.8L312.9 505.7L310.2 503.5L307.1 501.0L304.0 498.4L301.4 496.2L298.9 494.0L296.3 491.9L293.6 489.5L290.6 487.0L287.7 484.4L284.9 481.9L282.3 479.6L279.7 477.3L277.2 475.0L274.6 472.6L272.0 470.3L269.5 467.9L266.7 465.3L264.1 462.8L261.4 460.2L258.7 457.7L258.0 457.0M283.8 512.4L281.0 510.0L278.4 507.8L275.9 505.7L273.3 503.5L270.4 501.0L267.5 498.4L264.6 495.9L261.8 493.4L259.3 491.1L258.0 490.0" fill="none" stroke="#14301c" stroke-width="0.55" stroke-opacity="0.85"/>
<path d="M258.0 385.2V512.4H385.7M258.0 512.4v2.4M279.3 512.4v2.4M300.6 512.4v2.4M321.9 512.4v2.4M343.1 512.4v2.4M364.4 512.4v2.4M385.7 512.4v2.4M258.0 512.4h-2.6M258.0 480.6h-2.6M258.0 448.8h-2.6M258.0 417.0h-2.6M258.0 385.2h-2.6" fill="none" stroke="#777" stroke-width="0.5"/>
<text x="258.0" y="521.6" font-size="5.45" text-anchor="middle" fill="#262626">3</text>
<text x="279.3" y="521.6" font-size="5.45" text-anchor="middle" fill="#262626">4</text>
<text x="300.6" y="521.6" font-size="5.45" text-anchor="middle" fill="#262626">5</text>
<text x="321.9" y="521.6" font-size="5.45" text-anchor="middle" fill="#262626">6</text>
<text x="343.1" y="521.6" font-size="5.45" text-anchor="middle" fill="#262626">7</text>
<text x="364.4" y="521.6" font-size="5.45" text-anchor="middle" fill="#262626">8</text>
<text x="385.7" y="521.6" font-size="5.45" text-anchor="middle" fill="#262626">9</text>
<text x="254.5" y="514.2" font-size="5.45" text-anchor="end" fill="#262626">2</text>
<text x="254.5" y="482.4" font-size="5.45" text-anchor="end" fill="#262626">2.5</text>
<text x="254.5" y="450.6" font-size="5.45" text-anchor="end" fill="#262626">3</text>
<text x="254.5" y="418.8" font-size="5.45" text-anchor="end" fill="#262626">3.5</text>
<text x="254.5" y="387.0" font-size="5.45" text-anchor="end" fill="#262626">4</text>
<text x="321.9" y="382.6" font-size="6.45" text-anchor="middle" fill="#1a1a1a">Deformation (mm)</text>
<text x="321.6" y="530.2" font-size="5.35" text-anchor="middle" fill="#262626">B: Number of bellows</text>
<text transform="translate(239.3 448.8) rotate(-90)" font-size="5.45" text-anchor="middle" fill="#262626">C: Divided ratio of radians</text>
<rect x="269.4" y="498.3" width="4.6" height="3.6" fill="#f1f1f1" stroke="#4a4a4a" stroke-width="0.35"/>
<text x="271.7" y="500.9" font-size="2.4" text-anchor="middle" fill="#777" stroke="none">14</text>
<rect x="286.4" y="482.4" width="4.6" height="3.6" fill="#f1f1f1" stroke="#4a4a4a" stroke-width="0.35"/>
<text x="288.7" y="485.0" font-size="2.4" text-anchor="middle" fill="#777" stroke="none">12</text>
<rect x="308.3" y="460.9" width="4.6" height="3.6" fill="#f1f1f1" stroke="#4a4a4a" stroke-width="0.35"/>
<text x="310.6" y="463.5" font-size="2.4" text-anchor="middle" fill="#777" stroke="none">10</text>
<circle cx="258.0" cy="385.2" r="1.2" fill="#c00000"/>
<circle cx="385.7" cy="385.2" r="1.2" fill="#c00000"/>
<circle cx="258.0" cy="512.4" r="1.2" fill="#c00000"/>
<circle cx="385.7" cy="512.4" r="1.2" fill="#c00000"/>
<circle cx="321.9" cy="448.8" r="1.2" fill="#c00000"/>
<text x="318.7" y="449.6" font-size="2.6" text-anchor="middle" fill="#666">5</text>
<path d="M35.4 123.1L30.7 24.1M48.8 93.5L46.1 20.6M63.5 88.8L61.5 17.1M78.2 84.2L76.8 13.6M92.9 79.5L92.2 10.1M107.6 96.0L107.6 6.6M179.8 123.1L184.5 24.1M168.8 94.3L171.7 21.2M156.6 90.4L158.9 18.3M144.3 86.5L146.1 15.3M132.1 82.6L133.2 12.4M119.8 78.7L120.4 9.5M34.1 98.2L107.6 74.8L181.1 98.2M33.2 79.7L107.6 57.8L181.9 79.7M32.4 61.2L107.6 40.7L182.8 61.2M31.6 42.6L107.6 23.6L183.7 42.6M30.7 24.1L107.6 6.6L184.5 24.1" fill="none" stroke="#5c5c5c" stroke-width="0.58"/>
<rect x="33.4" y="97.5" width="1.3" height="1.3" fill="#111"/>
<text x="31.0" y="96.8" font-size="5.45" text-anchor="end" fill="#262626">0</text>
<rect x="32.5" y="79.0" width="1.3" height="1.3" fill="#111"/>
<text x="30.1" y="78.3" font-size="5.45" text-anchor="end" fill="#262626">5</text>
<rect x="31.7" y="60.5" width="1.3" height="1.3" fill="#111"/>
<text x="29.3" y="59.8" font-size="5.45" text-anchor="end" fill="#262626">10</text>
<rect x="30.9" y="41.9" width="1.3" height="1.3" fill="#111"/>
<text x="28.4" y="41.2" font-size="5.45" text-anchor="end" fill="#262626">15</text>
<rect x="30.0" y="23.4" width="1.3" height="1.3" fill="#111"/>
<text x="27.6" y="22.7" font-size="5.45" text-anchor="end" fill="#262626">20</text>
<text transform="translate(9.5 75.2) rotate(-90)" font-size="5.5" text-anchor="middle" fill="#262626">Deformation (mm)</text>
<path d="M107.6 157.5L179.8 123.1L107.6 96.0L35.4 123.1Z" fill="#575757" stroke="#2a2a2a" stroke-width="0.5"/>
<path d="M179.0 123.5L175.3 123.2L171.6 122.9L168.0 122.5L164.4 122.2L160.8 121.8L157.3 121.4L153.8 120.9L150.3 120.5L146.9 120.0L143.5 119.5L139.9 118.9L135.5 118.2L131.9 117.5L128.7 116.9L125.6 116.3L120.9 115.3L117.8 114.6L114.8 113.9L110.3 112.8L107.4 112.0L103.1 110.9L100.3 110.0L96.1 108.8L92.1 107.5L89.5 106.6L85.7 105.2L84.5 104.7" fill="none" stroke="#006bd1" stroke-width="1.05"/>
<path d="M161.4 131.9L157.7 131.5L154.0 131.1L150.4 130.7L146.8 130.3L143.2 129.9L139.7 129.4L136.2 128.9L132.7 128.4L129.2 127.9L125.2 127.2L121.1 126.5L117.4 125.8L114.1 125.2L110.8 124.6L107.6 123.9L102.8 122.9L99.6 122.2L96.5 121.4L92.4 120.5L88.8 119.5L85.8 118.8L81.3 117.5L78.4 116.7L74.1 115.4L71.2 114.5L67.1 113.2L64.3 112.2" fill="none" stroke="#00d1b2" stroke-width="1.05"/>
<path d="M147.0 138.7L143.3 138.3L139.7 137.9L136.0 137.4L132.5 136.9L128.9 136.5L125.3 135.9L121.8 135.4L118.3 134.8L114.7 134.2L110.6 133.5L106.5 132.8L103.0 132.1L99.6 131.4L96.3 130.8L93.0 130.1L88.9 129.2L85.0 128.3L81.8 127.5L78.6 126.7L73.9 125.5L70.8 124.7L67.8 123.9L63.2 122.6L60.3 121.8L55.9 120.5L52.9 119.5L48.6 118.1" fill="none" stroke="#00d147" stroke-width="1.05"/>
<path d="M132.6 145.6L129.0 145.1L125.4 144.6L121.7 144.1L118.2 143.6L114.6 143.0L111.0 142.5L107.5 141.9L103.9 141.2L100.0 140.5L96.0 139.8L92.0 139.0L88.6 138.4L85.2 137.7L81.9 136.9L78.6 136.2L74.6 135.3L70.4 134.3L67.2 133.5L64.0 132.7L60.3 131.8L56.1 130.7L52.9 129.8L49.8 128.9L45.3 127.6L44.1 127.3" fill="none" stroke="#43d100" stroke-width="1.05"/>
<path d="M118.9 152.1L115.3 151.6L111.7 151.0L108.0 150.5L104.5 149.9L100.9 149.3L97.4 148.7L93.8 148.1L90.3 147.4L86.9 146.8L83.8 146.2" fill="none" stroke="#d1a900" stroke-width="1.05"/>
<rect x="107.0" y="157.3" width="1.2" height="1.2" fill="#111"/>
<text x="109.7" y="162.6" font-size="5.45" fill="#262626">3</text>
<rect x="121.4" y="150.4" width="1.2" height="1.2" fill="#111"/>
<text x="124.1" y="155.7" font-size="5.45" fill="#262626">3.6</text>
<rect x="135.9" y="143.5" width="1.2" height="1.2" fill="#111"/>
<text x="138.6" y="148.8" font-size="5.45" fill="#262626">4.2</text>
<rect x="150.3" y="136.7" width="1.2" height="1.2" fill="#111"/>
<text x="153.0" y="142.0" font-size="5.45" fill="#262626">4.8</text>
<rect x="164.8" y="129.8" width="1.2" height="1.2" fill="#111"/>
<text x="167.5" y="135.1" font-size="5.45" fill="#262626">5.4</text>
<rect x="179.2" y="122.9" width="1.2" height="1.2" fill="#111"/>
<text x="181.9" y="128.2" font-size="5.45" fill="#262626">6</text>
<rect x="107.0" y="157.3" width="1.2" height="1.2" fill="#111"/>
<text x="104.2" y="162.8" font-size="5.45" text-anchor="end" fill="#262626">3</text>
<rect x="95.0" y="151.6" width="1.2" height="1.2" fill="#111"/>
<text x="92.2" y="157.1" font-size="5.45" text-anchor="end" fill="#262626">4</text>
<rect x="82.9" y="145.8" width="1.2" height="1.2" fill="#111"/>
<text x="80.1" y="151.3" font-size="5.45" text-anchor="end" fill="#262626">5</text>
<rect x="70.9" y="140.1" width="1.2" height="1.2" fill="#111"/>
<text x="68.1" y="145.6" font-size="5.45" text-anchor="end" fill="#262626">6</text>
<rect x="58.9" y="134.4" width="1.2" height="1.2" fill="#111"/>
<text x="56.1" y="139.9" font-size="5.45" text-anchor="end" fill="#262626">7</text>
<rect x="46.8" y="128.6" width="1.2" height="1.2" fill="#111"/>
<text x="44.0" y="134.1" font-size="5.45" text-anchor="end" fill="#262626">8</text>
<rect x="34.8" y="122.9" width="1.2" height="1.2" fill="#111"/>
<text x="32.0" y="128.4" font-size="5.45" text-anchor="end" fill="#262626">9</text>
<text x="171.6" y="155.1" font-size="5.45" text-anchor="middle" fill="#262626">A: Wall thickness</text>
<text x="43.9" y="155.1" font-size="5.45" text-anchor="middle" fill="#262626">B: Number of bellows</text>
<g stroke="#031a10" stroke-opacity=".5" stroke-width=".3">
<path d="M107.6 59.5L110.6 59.3L107.6 58.2L104.6 58.5Z" fill="#016228"/>
<path d="M104.6 59.7L107.6 59.5L104.6 58.5L101.6 58.7Z" fill="#016826"/>
<path d="M110.6 60.5L113.5 60.3L110.6 59.3L107.6 59.5Z" fill="#016228"/>
<path d="M101.6 59.8L104.6 59.7L101.6 58.7L98.7 58.8Z" fill="#016d24"/>
<path d="M107.6 60.7L110.6 60.5L107.6 59.5L104.6 59.7Z" fill="#016726"/>
<path d="M113.5 61.5L116.5 61.3L113.5 60.3L110.6 60.5Z" fill="#016129"/>
<path d="M104.6 60.8L107.6 60.7L104.6 59.7L101.6 59.8Z" fill="#016c24"/>
<path d="M98.7 59.9L101.6 59.8L98.7 58.8L95.7 58.9Z" fill="#017322"/>
<path d="M110.6 61.7L113.5 61.5L110.6 60.5L107.6 60.7Z" fill="#016626"/>
<path d="M116.5 62.5L119.5 62.3L116.5 61.3L113.5 61.5Z" fill="#016029"/>
<path d="M95.7 60.0L98.7 59.9L95.7 58.9L92.7 58.9Z" fill="#017820"/>
<path d="M101.6 60.9L104.6 60.8L101.6 59.8L98.7 59.9Z" fill="#017222"/>
<path d="M107.6 61.8L110.6 61.7L107.6 60.7L104.6 60.8Z" fill="#016c24"/>
<path d="M113.5 62.6L116.5 62.5L113.5 61.5L110.6 61.7Z" fill="#016527"/>
<path d="M119.5 63.4L122.5 63.2L119.5 62.3L116.5 62.5Z" fill="#016029"/>
<path d="M92.7 60.0L95.7 60.0L92.7 58.9L89.7 58.9Z" fill="#017e1e"/>
<path d="M98.7 60.9L101.6 60.9L98.7 59.9L95.7 60.0Z" fill="#017720"/>
<path d="M104.6 61.9L107.6 61.8L104.6 60.8L101.6 60.9Z" fill="#017122"/>
<path d="M110.6 62.8L113.5 62.6L110.6 61.7L107.6 61.8Z" fill="#016b24"/>
<path d="M116.5 63.6L119.5 63.4L116.5 62.5L113.5 62.6Z" fill="#016527"/>
<path d="M122.5 64.3L125.4 64.1L122.5 63.2L119.5 63.4Z" fill="#016029"/>
<path d="M89.7 59.9L92.7 60.0L89.7 58.9L86.7 58.9Z" fill="#01851b"/>
<path d="M95.7 60.9L98.7 60.9L95.7 60.0L92.7 60.0Z" fill="#017e1e"/>
<path d="M101.6 61.9L104.6 61.9L101.6 60.9L98.7 60.9Z" fill="#017721"/>
<path d="M107.6 62.8L110.6 62.8L107.6 61.8L104.6 61.9Z" fill="#017122"/>
<path d="M113.6 63.7L116.5 63.6L113.5 62.6L110.6 62.8Z" fill="#016b25"/>
<path d="M119.5 64.5L122.5 64.3L119.5 63.4L116.5 63.6Z" fill="#016527"/>
<path d="M125.4 65.2L128.4 65.0L125.4 64.1L122.5 64.3Z" fill="#016029"/>
<path d="M116.5 64.5L119.5 64.5L116.5 63.6L113.6 63.7Z" fill="#016b25"/>
<path d="M128.4 66.0L131.4 65.9L128.4 65.0L125.4 65.2Z" fill="#016029"/>
<path d="M86.7 59.8L89.7 59.9L86.7 58.9L83.7 58.8Z" fill="#018b19"/>
<path d="M92.7 60.9L95.7 60.9L92.7 60.0L89.7 59.9Z" fill="#01841b"/>
<path d="M98.7 61.9L101.6 61.9L98.7 60.9L95.7 60.9Z" fill="#017e1e"/>
<path d="M104.6 62.8L107.6 62.8L104.6 61.9L101.6 61.9Z" fill="#017721"/>
<path d="M110.6 63.7L113.6 63.7L110.6 62.8L107.6 62.8Z" fill="#017122"/>
<path d="M122.5 65.3L125.4 65.2L122.5 64.3L119.5 64.5Z" fill="#016527"/>
<path d="M83.7 59.6L86.7 59.8L83.7 58.8L80.7 58.7Z" fill="#019217"/>
<path d="M107.6 63.7L110.6 63.7L107.6 62.8L104.6 62.8Z" fill="#017721"/>
<path d="M113.6 64.6L116.5 64.5L113.6 63.7L110.6 63.7Z" fill="#017122"/>
<path d="M119.5 65.4L122.5 65.3L119.5 64.5L116.5 64.5Z" fill="#016c24"/>
<path d="M125.5 66.1L128.4 66.0L125.4 65.2L122.5 65.3Z" fill="#016527"/>
<path d="M131.4 66.8L134.3 66.7L131.4 65.9L128.4 66.0Z" fill="#016029"/>
<path d="M89.7 60.7L92.7 60.9L89.7 59.9L86.7 59.8Z" fill="#018b1a"/>
<path d="M95.7 61.8L98.7 61.9L95.7 60.9L92.7 60.9Z" fill="#01841b"/>
<path d="M101.6 62.8L104.6 62.8L101.6 61.9L98.7 61.9Z" fill="#017e1e"/>
<path d="M80.7 59.4L83.7 59.6L80.7 58.7L77.7 58.5Z" fill="#019914"/>
<path d="M86.7 60.6L89.7 60.7L86.7 59.8L83.7 59.6Z" fill="#019217"/>
<path d="M104.6 63.7L107.6 63.7L104.6 62.8L101.6 62.8Z" fill="#017e1e"/>
<path d="M110.6 64.6L113.6 64.6L110.6 63.7L107.6 63.7Z" fill="#017720"/>
<path d="M116.5 65.4L119.5 65.4L116.5 64.5L113.6 64.6Z" fill="#017122"/>
<path d="M122.5 66.2L125.5 66.1L122.5 65.3L119.5 65.4Z" fill="#016c24"/>
<path d="M128.4 66.9L131.4 66.8L128.4 66.0L125.5 66.1Z" fill="#016627"/>
<path d="M134.4 67.6L137.3 67.5L134.3 66.7L131.4 66.8Z" fill="#016129"/>
<path d="M92.7 61.7L95.7 61.8L92.7 60.9L89.7 60.7Z" fill="#018b1a"/>
<path d="M98.6 62.7L101.6 62.8L98.7 61.9L95.7 61.8Z" fill="#01841b"/>
<path d="M77.7 59.2L80.7 59.4L77.7 58.5L74.7 58.2Z" fill="#01a111"/>
<path d="M83.7 60.4L86.7 60.6L83.7 59.6L80.7 59.4Z" fill="#019914"/>
<path d="M89.7 61.5L92.7 61.7L89.7 60.7L86.7 60.6Z" fill="#019217"/>
<path d="M101.6 63.6L104.6 63.7L101.6 62.8L98.6 62.7Z" fill="#01851b"/>
<path d="M107.6 64.5L110.6 64.6L107.6 63.7L104.6 63.7Z" fill="#017e1e"/>
<path d="M113.6 65.4L116.5 65.4L113.6 64.6L110.6 64.6Z" fill="#017820"/>
<path d="M119.5 66.2L122.5 66.2L119.5 65.4L116.5 65.4Z" fill="#017222"/>
<path d="M125.5 67.0L128.4 66.9L125.5 66.1L122.5 66.2Z" fill="#016c24"/>
<path d="M131.4 67.7L134.4 67.6L131.4 66.8L128.4 66.9Z" fill="#016726"/>
<path d="M137.3 68.4L140.3 68.2L137.3 67.5L134.4 67.6Z" fill="#016228"/>
<path d="M95.7 62.6L98.6 62.7L95.7 61.8L92.7 61.7Z" fill="#018b19"/>
<path d="M74.7 58.9L77.7 59.2L74.7 58.2L71.7 57.9Z" fill="#01a90f"/>
<path d="M80.7 60.1L83.7 60.4L80.7 59.4L77.7 59.2Z" fill="#01a211"/>
<path d="M86.7 61.3L89.7 61.5L86.7 60.6L83.7 60.4Z" fill="#019914"/>
<path d="M92.7 62.4L95.7 62.6L92.7 61.7L89.7 61.5Z" fill="#019216"/>
<path d="M98.6 63.4L101.6 63.6L98.6 62.7L95.7 62.6Z" fill="#018c19"/>
<path d="M104.6 64.4L107.6 64.5L104.6 63.7L101.6 63.6Z" fill="#01851b"/>
<path d="M110.6 65.3L113.6 65.4L110.6 64.6L107.6 64.5Z" fill="#017e1e"/>
<path d="M116.5 66.2L119.5 66.2L116.5 65.4L113.6 65.4Z" fill="#017820"/>
<path d="M122.5 67.0L125.5 67.0L122.5 66.2L119.5 66.2Z" fill="#017322"/>
<path d="M128.4 67.8L131.4 67.7L128.4 66.9L125.5 67.0Z" fill="#016d24"/>
<path d="M134.4 68.5L137.3 68.4L134.4 67.6L131.4 67.7Z" fill="#016826"/>
<path d="M140.3 69.1L143.3 69.0L140.3 68.2L137.3 68.4Z" fill="#016228"/>
<path d="M119.5 67.0L122.5 67.0L119.5 66.2L116.5 66.2Z" fill="#017920"/>
<path d="M131.4 68.5L134.4 68.5L131.4 67.7L128.4 67.8Z" fill="#016e23"/>
<path d="M71.6 58.5L74.7 58.9L71.7 57.9L68.7 57.6Z" fill="#01b10c"/>
<path d="M77.7 59.8L80.7 60.1L77.7 59.2L74.7 58.9Z" fill="#01a90e"/>
<path d="M83.7 61.0L86.7 61.3L83.7 60.4L80.7 60.1Z" fill="#01a210"/>
<path d="M89.7 62.1L92.7 62.4L89.7 61.5L86.7 61.3Z" fill="#019a13"/>
<path d="M95.6 63.2L98.6 63.4L95.7 62.6L92.7 62.4Z" fill="#019316"/>
<path d="M101.6 64.2L104.6 64.4L101.6 63.6L98.6 63.4Z" fill="#018d19"/>
<path d="M107.6 65.2L110.6 65.3L107.6 64.5L104.6 64.4Z" fill="#01861b"/>
<path d="M113.6 66.1L116.5 66.2L113.6 65.4L110.6 65.3Z" fill="#017f1d"/>
<path d="M125.5 67.8L128.4 67.8L125.5 67.0L122.5 67.0Z" fill="#017422"/>
<path d="M137.4 69.2L140.3 69.1L137.3 68.4L134.4 68.5Z" fill="#016925"/>
<path d="M143.3 69.8L146.2 69.7L143.3 69.0L140.3 69.1Z" fill="#016327"/>
<path d="M116.5 66.9L119.5 67.0L116.5 66.2L113.6 66.1Z" fill="#01801d"/>
<path d="M122.5 67.8L125.5 67.8L122.5 67.0L119.5 67.0Z" fill="#017b1f"/>
<path d="M128.5 68.5L131.4 68.5L128.4 67.8L125.5 67.8Z" fill="#017422"/>
<path d="M134.4 69.3L137.4 69.2L134.4 68.5L131.4 68.5Z" fill="#016f23"/>
<path d="M68.6 58.1L71.6 58.5L68.7 57.6L65.6 57.2Z" fill="#01b90a"/>
<path d="M74.6 59.4L77.7 59.8L74.7 58.9L71.6 58.5Z" fill="#01b20c"/>
<path d="M80.7 60.7L83.7 61.0L80.7 60.1L77.7 59.8Z" fill="#01aa0e"/>
<path d="M86.7 61.8L89.7 62.1L86.7 61.3L83.7 61.0Z" fill="#01a210"/>
<path d="M92.6 63.0L95.6 63.2L92.7 62.4L89.7 62.1Z" fill="#019b13"/>
<path d="M98.6 64.0L101.6 64.2L98.6 63.4L95.6 63.2Z" fill="#019416"/>
<path d="M104.6 65.0L107.6 65.2L104.6 64.4L101.6 64.2Z" fill="#018d19"/>
<path d="M110.6 66.0L113.6 66.1L110.6 65.3L107.6 65.2Z" fill="#01861a"/>
<path d="M140.3 69.9L143.3 69.8L140.3 69.1L137.4 69.2Z" fill="#016a25"/>
<path d="M146.3 70.5L149.2 70.3L146.2 69.7L143.3 69.8Z" fill="#016527"/>
<path d="M89.6 62.7L92.6 63.0L89.7 62.1L86.7 61.8Z" fill="#01a310"/>
<path d="M113.6 66.8L116.5 66.9L113.6 66.1L110.6 66.0Z" fill="#01871a"/>
<path d="M119.5 67.7L122.5 67.8L119.5 67.0L116.5 66.9Z" fill="#01811c"/>
<path d="M125.5 68.5L128.5 68.5L125.5 67.8L122.5 67.8Z" fill="#017c1f"/>
<path d="M131.4 69.3L134.4 69.3L131.4 68.5L128.5 68.5Z" fill="#017521"/>
<path d="M137.4 70.0L140.3 69.9L137.4 69.2L134.4 69.3Z" fill="#017022"/>
<path d="M65.6 57.7L68.6 58.1L65.6 57.2L62.6 56.8Z" fill="#01c209"/>
<path d="M71.6 59.0L74.6 59.4L71.6 58.5L68.6 58.1Z" fill="#01ba0a"/>
<path d="M77.6 60.3L80.7 60.7L77.7 59.8L74.6 59.4Z" fill="#01b20b"/>
<path d="M83.6 61.5L86.7 61.8L83.7 61.0L80.7 60.7Z" fill="#01aa0e"/>
<path d="M95.6 63.8L98.6 64.0L95.6 63.2L92.6 63.0Z" fill="#019c13"/>
<path d="M101.6 64.8L104.6 65.0L101.6 64.2L98.6 64.0Z" fill="#019516"/>
<path d="M107.6 65.8L110.6 66.0L107.6 65.2L104.6 65.0Z" fill="#018f18"/>
<path d="M143.3 70.6L146.3 70.5L143.3 69.8L140.3 69.9Z" fill="#016c24"/>
<path d="M149.3 71.1L152.2 71.0L149.2 70.3L146.3 70.5Z" fill="#016726"/>
<path d="M68.6 58.5L71.6 59.0L68.6 58.1L65.6 57.7Z" fill="#01c309"/>
<path d="M86.6 62.3L89.6 62.7L86.7 61.8L83.6 61.5Z" fill="#01ab0d"/>
<path d="M92.6 63.4L95.6 63.8L92.6 63.0L89.6 62.7Z" fill="#01a410"/>
<path d="M110.6 66.6L113.6 66.8L110.6 66.0L107.6 65.8Z" fill="#019018"/>
<path d="M116.6 67.5L119.5 67.7L116.5 66.9L113.6 66.8Z" fill="#01891a"/>
<path d="M122.5 68.4L125.5 68.5L122.5 67.8L119.5 67.7Z" fill="#01831c"/>
<path d="M128.5 69.2L131.4 69.3L128.5 68.5L125.5 68.5Z" fill="#017d1e"/>
<path d="M134.4 70.0L137.4 70.0L134.4 69.3L131.4 69.3Z" fill="#017721"/>
<path d="M140.4 70.6L143.3 70.6L140.3 69.9L137.4 70.0Z" fill="#017222"/>
<path d="M62.5 57.2L65.6 57.7L62.6 56.8L59.5 56.3Z" fill="#01cb08"/>
<path d="M74.6 59.8L77.6 60.3L74.6 59.4L71.6 59.0Z" fill="#01bb0a"/>
<path d="M80.6 61.1L83.6 61.5L80.7 60.7L77.6 60.3Z" fill="#01b30b"/>
<path d="M98.6 64.5L101.6 64.8L98.6 64.0L95.6 63.8Z" fill="#019d12"/>
<path d="M104.6 65.6L107.6 65.8L104.6 65.0L101.6 64.8Z" fill="#019615"/>
<path d="M146.3 71.2L149.3 71.1L146.3 70.5L143.3 70.6Z" fill="#016d24"/>
<path d="M152.2 71.7L155.2 71.6L152.2 71.0L149.3 71.1Z" fill="#016925"/>
<path d="M65.5 58.0L68.6 58.5L65.6 57.7L62.5 57.2Z" fill="#01cc08"/>
<path d="M71.6 59.4L74.6 59.8L71.6 59.0L68.6 58.5Z" fill="#01c409"/>
<path d="M83.6 61.9L86.6 62.3L83.6 61.5L80.6 61.1Z" fill="#01b40b"/>
<path d="M89.6 63.1L92.6 63.4L89.6 62.7L86.6 62.3Z" fill="#01ac0d"/>
<path d="M95.6 64.2L98.6 64.5L95.6 63.8L92.6 63.4Z" fill="#01a510"/>
<path d="M107.6 66.3L110.6 66.6L107.6 65.8L104.6 65.6Z" fill="#019815"/>
<path d="M113.6 67.3L116.6 67.5L113.6 66.8L110.6 66.6Z" fill="#019017"/>
<path d="M119.5 68.3L122.5 68.4L119.5 67.7L116.6 67.5Z" fill="#018a1a"/>
<path d="M125.5 69.2L128.5 69.2L125.5 68.5L122.5 68.4Z" fill="#01841b"/>
<path d="M131.5 70.0L134.4 70.0L131.4 69.3L128.5 69.2Z" fill="#017e1e"/>
<path d="M137.4 70.7L140.4 70.6L137.4 70.0L134.4 70.0Z" fill="#017820"/>
<path d="M143.4 71.3L146.3 71.2L143.3 70.6L140.4 70.6Z" fill="#017422"/>
<path d="M59.5 56.6L62.5 57.2L59.5 56.3L56.5 55.7Z" fill="#01d407"/>
<path d="M77.6 60.7L80.6 61.1L77.6 60.3L74.6 59.8Z" fill="#01bc0a"/>
<path d="M101.6 65.3L104.6 65.6L101.6 64.8L98.6 64.5Z" fill="#019e12"/>
<path d="M149.3 71.8L152.2 71.7L149.3 71.1L146.3 71.2Z" fill="#016f23"/>
<path d="M155.2 72.2L158.2 72.1L155.2 71.6L152.2 71.7Z" fill="#016b25"/>
<path d="M98.6 64.9L101.6 65.3L98.6 64.5L95.6 64.2Z" fill="#01a70f"/>
<path d="M56.5 56.0L59.5 56.6L56.5 55.7L53.4 55.1Z" fill="#01dd05"/>
<path d="M62.5 57.4L65.5 58.0L62.5 57.2L59.5 56.6Z" fill="#01d507"/>
<path d="M68.5 58.8L71.6 59.4L68.6 58.5L65.5 58.0Z" fill="#01cd08"/>
<path d="M74.6 60.1L77.6 60.7L74.6 59.8L71.6 59.4Z" fill="#01c508"/>
<path d="M80.6 61.4L83.6 61.9L80.6 61.1L77.6 60.7Z" fill="#01bc0a"/>
<path d="M86.6 62.6L89.6 63.1L86.6 62.3L83.6 61.9Z" fill="#01b50b"/>
<path d="M92.6 63.8L95.6 64.2L92.6 63.4L89.6 63.1Z" fill="#01ae0c"/>
<path d="M104.6 66.0L107.6 66.3L104.6 65.6L101.6 65.3Z" fill="#01a011"/>
<path d="M110.6 67.0L113.6 67.3L110.6 66.6L107.6 66.3Z" fill="#019814"/>
<path d="M116.6 68.0L119.5 68.3L116.6 67.5L113.6 67.3Z" fill="#019217"/>
<path d="M122.5 69.0L125.5 69.2L122.5 68.4L119.5 68.3Z" fill="#018c19"/>
<path d="M128.5 69.9L131.5 70.0L128.5 69.2L125.5 69.2Z" fill="#01861b"/>
<path d="M134.4 70.7L137.4 70.7L134.4 70.0L131.5 70.0Z" fill="#017f1d"/>
<path d="M140.4 71.3L143.4 71.3L140.4 70.6L137.4 70.7Z" fill="#017a1f"/>
<path d="M146.3 71.9L149.3 71.8L146.3 71.2L143.4 71.3Z" fill="#017521"/>
<path d="M158.2 72.7L161.2 72.7L158.2 72.1L155.2 72.2Z" fill="#016d24"/>
<path d="M152.3 72.3L155.2 72.2L152.2 71.7L149.3 71.8Z" fill="#017122"/>
<path d="M95.6 64.5L98.6 64.9L95.6 64.2L92.6 63.8Z" fill="#01b00c"/>
<path d="M101.6 65.6L104.6 66.0L101.6 65.3L98.6 64.9Z" fill="#01a90f"/>
<path d="M161.2 73.1L164.2 73.1L161.2 72.7L158.2 72.7Z" fill="#017023"/>
<path d="M53.4 55.3L56.5 56.0L53.4 55.1L50.4 54.5Z" fill="#01e703"/>
<path d="M59.5 56.8L62.5 57.4L59.5 56.6L56.5 56.0Z" fill="#01df05"/>
<path d="M65.5 58.2L68.5 58.8L65.5 58.0L62.5 57.4Z" fill="#01d606"/>
<path d="M71.5 59.6L74.6 60.1L71.6 59.4L68.5 58.8Z" fill="#01ce08"/>
<path d="M77.6 60.9L80.6 61.4L77.6 60.7L74.6 60.1Z" fill="#01c608"/>
<path d="M83.6 62.2L86.6 62.6L83.6 61.9L80.6 61.4Z" fill="#01be09"/>
<path d="M89.6 63.4L92.6 63.8L89.6 63.1L86.6 62.6Z" fill="#01b70b"/>
<path d="M107.6 66.7L110.6 67.0L107.6 66.3L104.6 66.0Z" fill="#01a211"/>
<path d="M113.6 67.8L116.6 68.0L113.6 67.3L110.6 67.0Z" fill="#019a13"/>
<path d="M119.6 68.8L122.5 69.0L119.5 68.3L116.6 68.0Z" fill="#019316"/>
<path d="M125.5 69.7L128.5 69.9L125.5 69.2L122.5 69.0Z" fill="#018d19"/>
<path d="M131.5 70.6L134.4 70.7L131.5 70.0L128.5 69.9Z" fill="#01861a"/>
<path d="M137.4 71.3L140.4 71.3L137.4 70.7L134.4 70.7Z" fill="#01811d"/>
<path d="M143.4 71.9L146.3 71.9L143.4 71.3L140.4 71.3Z" fill="#017d1f"/>
<path d="M149.3 72.4L152.3 72.3L149.3 71.8L146.3 71.9Z" fill="#017820"/>
<path d="M155.3 72.8L158.2 72.7L155.2 72.2L152.3 72.3Z" fill="#017422"/>
<path d="M80.6 61.6L83.6 62.2L80.6 61.4L77.6 60.9Z" fill="#01c708"/>
<path d="M92.6 64.1L95.6 64.5L92.6 63.8L89.6 63.4Z" fill="#01b80a"/>
<path d="M98.6 65.2L101.6 65.6L98.6 64.9L95.6 64.5Z" fill="#01b20c"/>
<path d="M104.6 66.3L107.6 66.7L104.6 66.0L101.6 65.6Z" fill="#01aa0e"/>
<path d="M116.6 68.5L119.6 68.8L116.6 68.0L113.6 67.8Z" fill="#019c13"/>
<path d="M158.3 73.1L161.2 73.1L158.2 72.7L155.3 72.8Z" fill="#017721"/>
<path d="M164.2 73.5L167.1 73.6L164.2 73.1L161.2 73.1Z" fill="#017322"/>
<path d="M50.3 54.6L53.4 55.3L50.4 54.5L47.3 53.8Z" fill="#01ea03"/>
<path d="M56.4 56.1L59.5 56.8L56.5 56.0L53.4 55.3Z" fill="#01e903"/>
<path d="M62.5 57.6L65.5 58.2L62.5 57.4L59.5 56.8Z" fill="#01e005"/>
<path d="M68.5 59.0L71.5 59.6L68.5 58.8L65.5 58.2Z" fill="#01d806"/>
<path d="M74.5 60.3L77.6 60.9L74.6 60.1L71.5 59.6Z" fill="#01cf07"/>
<path d="M86.6 62.9L89.6 63.4L86.6 62.6L83.6 62.2Z" fill="#01c009"/>
<path d="M110.6 67.4L113.6 67.8L110.6 67.0L107.6 66.7Z" fill="#01a310"/>
<path d="M122.5 69.5L125.5 69.7L122.5 69.0L119.6 68.8Z" fill="#019516"/>
<path d="M128.5 70.5L131.5 70.6L128.5 69.9L125.5 69.7Z" fill="#018e18"/>
<path d="M134.5 71.3L137.4 71.3L134.4 70.7L131.5 70.6Z" fill="#01881a"/>
<path d="M140.4 71.9L143.4 71.9L140.4 71.3L137.4 71.3Z" fill="#01831c"/>
<path d="M146.4 72.4L149.3 72.4L146.3 71.9L143.4 71.9Z" fill="#017e1e"/>
<path d="M152.3 72.8L155.3 72.8L152.3 72.3L149.3 72.4Z" fill="#017b1f"/>
<path d="M53.3 55.4L56.4 56.1L53.4 55.3L50.3 54.6Z" fill="#01ea03"/>
<path d="M77.5 61.0L80.6 61.6L77.6 60.9L74.5 60.3Z" fill="#01d107"/>
<path d="M83.6 62.3L86.6 62.9L83.6 62.2L80.6 61.6Z" fill="#01c908"/>
<path d="M89.6 63.5L92.6 64.1L89.6 63.4L86.6 62.9Z" fill="#01c209"/>
<path d="M95.6 64.7L98.6 65.2L95.6 64.5L92.6 64.1Z" fill="#01bb0a"/>
<path d="M101.6 65.9L104.6 66.3L101.6 65.6L98.6 65.2Z" fill="#01b40b"/>
<path d="M107.6 67.0L110.6 67.4L107.6 66.7L104.6 66.3Z" fill="#01ac0d"/>
<path d="M113.6 68.1L116.6 68.5L113.6 67.8L110.6 67.4Z" fill="#01a410"/>
<path d="M119.6 69.2L122.5 69.5L119.6 68.8L116.6 68.5Z" fill="#019d12"/>
<path d="M143.4 72.4L146.4 72.4L143.4 71.9L140.4 71.9Z" fill="#01861b"/>
<path d="M155.3 73.1L158.3 73.1L155.3 72.8L152.3 72.8Z" fill="#017e1e"/>
<path d="M161.3 73.5L164.2 73.5L161.2 73.1L158.3 73.1Z" fill="#017a1f"/>
<path d="M167.2 73.9L170.1 74.0L167.1 73.6L164.2 73.5Z" fill="#017621"/>
<path d="M47.3 53.8L50.3 54.6L47.3 53.8L44.2 53.0Z" fill="#01ea03"/>
<path d="M59.4 56.9L62.5 57.6L59.5 56.8L56.4 56.1Z" fill="#01ea03"/>
<path d="M65.5 58.3L68.5 59.0L65.5 58.2L62.5 57.6Z" fill="#01e104"/>
<path d="M71.5 59.7L74.5 60.3L71.5 59.6L68.5 59.0Z" fill="#01d906"/>
<path d="M125.5 70.2L128.5 70.5L125.5 69.7L122.5 69.5Z" fill="#019615"/>
<path d="M131.5 71.1L134.5 71.3L131.5 70.6L128.5 70.5Z" fill="#019018"/>
<path d="M137.5 71.9L140.4 71.9L137.4 71.3L134.5 71.3Z" fill="#018a1a"/>
<path d="M149.4 72.8L152.3 72.8L149.3 72.4L146.4 72.4Z" fill="#01821c"/>
<path d="M44.2 53.0L47.3 53.8L44.2 53.0L41.2 52.2Z" fill="#01ea03"/>
<path d="M50.3 54.6L53.3 55.4L50.3 54.6L47.3 53.8Z" fill="#01ea03"/>
<path d="M56.3 56.1L59.4 56.9L56.4 56.1L53.3 55.4Z" fill="#01ea03"/>
<path d="M68.5 59.0L71.5 59.7L68.5 59.0L65.5 58.3Z" fill="#01e304"/>
<path d="M74.5 60.4L77.5 61.0L74.5 60.3L71.5 59.7Z" fill="#01db06"/>
<path d="M80.5 61.7L83.6 62.3L80.6 61.6L77.5 61.0Z" fill="#01d307"/>
<path d="M86.6 63.0L89.6 63.5L86.6 62.9L83.6 62.3Z" fill="#01cb08"/>
<path d="M92.6 64.2L95.6 64.7L92.6 64.1L89.6 63.5Z" fill="#01c408"/>
<path d="M98.6 65.4L101.6 65.9L98.6 65.2L95.6 64.7Z" fill="#01bc0a"/>
<path d="M104.6 66.5L107.6 67.0L104.6 66.3L101.6 65.9Z" fill="#01b50b"/>
<path d="M110.6 67.6L113.6 68.1L110.6 67.4L107.6 67.0Z" fill="#01ae0c"/>
<path d="M116.6 68.8L119.6 69.2L116.6 68.5L113.6 68.1Z" fill="#01a610"/>
<path d="M122.6 69.9L125.5 70.2L122.5 69.5L119.6 69.2Z" fill="#019f12"/>
<path d="M140.5 72.4L143.4 72.4L140.4 71.9L137.5 71.9Z" fill="#018d19"/>
<path d="M146.4 72.8L149.4 72.8L146.4 72.4L143.4 72.4Z" fill="#01881a"/>
<path d="M152.4 73.1L155.3 73.1L152.3 72.8L149.4 72.8Z" fill="#01861b"/>
<path d="M158.3 73.4L161.3 73.5L158.3 73.1L155.3 73.1Z" fill="#01821c"/>
<path d="M164.3 73.7L167.2 73.9L164.2 73.5L161.3 73.5Z" fill="#017e1e"/>
<path d="M170.2 74.2L173.1 74.3L170.1 74.0L167.2 73.9Z" fill="#017a20"/>
<path d="M62.4 57.6L65.5 58.3L62.5 57.6L59.4 56.9Z" fill="#01ea03"/>
<path d="M128.5 70.9L131.5 71.1L128.5 70.5L125.5 70.2Z" fill="#019814"/>
<path d="M134.5 71.7L137.5 71.9L134.5 71.3L131.5 71.1Z" fill="#019117"/>
<path d="M41.1 52.1L44.2 53.0L41.2 52.2L38.1 51.4Z" fill="#01ea03"/>
<path d="M47.2 53.7L50.3 54.6L47.3 53.8L44.2 53.0Z" fill="#01ea03"/>
<path d="M53.3 55.3L56.3 56.1L53.3 55.4L50.3 54.6Z" fill="#01ea03"/>
<path d="M59.3 56.8L62.4 57.6L59.4 56.9L56.3 56.1Z" fill="#01ea03"/>
<path d="M65.4 58.3L68.5 59.0L65.5 58.3L62.4 57.6Z" fill="#01ea03"/>
<path d="M71.5 59.7L74.5 60.4L71.5 59.7L68.5 59.0Z" fill="#01e504"/>
<path d="M77.5 61.1L80.5 61.7L77.5 61.0L74.5 60.4Z" fill="#01dd05"/>
<path d="M83.5 62.4L86.6 63.0L83.6 62.3L80.5 61.7Z" fill="#01d507"/>
<path d="M89.6 63.6L92.6 64.2L89.6 63.5L86.6 63.0Z" fill="#01ce08"/>
<path d="M95.6 64.8L98.6 65.4L95.6 64.7L92.6 64.2Z" fill="#01c608"/>
<path d="M101.6 66.0L104.6 66.5L101.6 65.9L98.6 65.4Z" fill="#01be09"/>
<path d="M107.6 67.1L110.6 67.6L107.6 67.0L104.6 66.5Z" fill="#01b70b"/>
<path d="M113.6 68.3L116.6 68.8L113.6 68.1L110.6 67.6Z" fill="#01b00c"/>
<path d="M119.6 69.4L122.6 69.9L119.6 69.2L116.6 68.8Z" fill="#01a80f"/>
<path d="M125.6 70.5L128.5 70.9L125.5 70.2L122.6 69.9Z" fill="#01a111"/>
<path d="M137.5 72.2L140.5 72.4L137.5 71.9L134.5 71.7Z" fill="#019416"/>
<path d="M143.4 72.7L146.4 72.8L143.4 72.4L140.5 72.4Z" fill="#019018"/>
<path d="M149.4 73.0L152.4 73.1L149.4 72.8L146.4 72.8Z" fill="#018d19"/>
<path d="M155.4 73.3L158.3 73.4L155.3 73.1L152.4 73.1Z" fill="#01891a"/>
<path d="M161.3 73.6L164.3 73.7L161.3 73.5L158.3 73.4Z" fill="#01861b"/>
<path d="M167.3 73.9L170.2 74.2L167.2 73.9L164.3 73.7Z" fill="#01821c"/>
<path d="M173.2 74.4L176.1 74.7L173.1 74.3L170.2 74.2Z" fill="#017e1e"/>
<path d="M131.5 71.5L134.5 71.7L131.5 71.1L128.5 70.9Z" fill="#019914"/>
<path d="M38.0 51.2L41.1 52.1L38.1 51.4L35.0 50.5Z" fill="#01ea03"/>
<path d="M44.1 52.8L47.2 53.7L44.2 53.0L41.1 52.1Z" fill="#01ea03"/>
<path d="M50.2 54.5L53.3 55.3L50.3 54.6L47.2 53.7Z" fill="#01ea03"/>
<path d="M56.3 56.0L59.3 56.8L56.3 56.1L53.3 55.3Z" fill="#01ea03"/>
<path d="M62.4 57.5L65.4 58.3L62.4 57.6L59.3 56.8Z" fill="#01ea03"/>
<path d="M68.4 59.0L71.5 59.7L68.5 59.0L65.4 58.3Z" fill="#01ea03"/>
<path d="M74.5 60.3L77.5 61.1L74.5 60.4L71.5 59.7Z" fill="#01e703"/>
<path d="M80.5 61.7L83.5 62.4L80.5 61.7L77.5 61.1Z" fill="#01df05"/>
<path d="M86.5 63.0L89.6 63.6L86.6 63.0L83.5 62.4Z" fill="#01d806"/>
<path d="M92.6 64.2L95.6 64.8L92.6 64.2L89.6 63.6Z" fill="#01cf07"/>
<path d="M98.6 65.4L101.6 66.0L98.6 65.4L95.6 64.8Z" fill="#01c808"/>
<path d="M104.6 66.5L107.6 67.1L104.6 66.5L101.6 66.0Z" fill="#01c109"/>
<path d="M110.6 67.7L113.6 68.3L110.6 67.6L107.6 67.1Z" fill="#01ba0a"/>
<path d="M116.6 68.9L119.6 69.4L116.6 68.8L113.6 68.3Z" fill="#01b20c"/>
<path d="M122.6 70.0L125.6 70.5L122.6 69.9L119.6 69.4Z" fill="#01aa0e"/>
<path d="M128.5 71.1L131.5 71.5L128.5 70.9L125.6 70.5Z" fill="#01a210"/>
<path d="M134.5 71.9L137.5 72.2L134.5 71.7L131.5 71.5Z" fill="#019c12"/>
<path d="M140.5 72.5L143.4 72.7L140.5 72.4L137.5 72.2Z" fill="#019814"/>
<path d="M146.5 72.9L149.4 73.0L146.4 72.8L143.4 72.7Z" fill="#019416"/>
<path d="M152.4 73.2L155.4 73.3L152.4 73.1L149.4 73.0Z" fill="#019117"/>
<path d="M158.4 73.4L161.3 73.6L158.3 73.4L155.4 73.3Z" fill="#018e18"/>
<path d="M164.3 73.7L167.3 73.9L164.3 73.7L161.3 73.6Z" fill="#018b1a"/>
<path d="M170.3 74.1L173.2 74.4L170.2 74.2L167.3 73.9Z" fill="#01861a"/>
<path d="M176.2 74.6L179.1 75.0L176.1 74.7L173.2 74.4Z" fill="#01811c"/>
<path d="M34.9 50.2L38.0 51.2L35.0 50.5L31.9 49.5Z" fill="#01ea03"/>
<path d="M41.0 51.9L44.1 52.8L41.1 52.1L38.0 51.2Z" fill="#01ea03"/>
<path d="M47.1 53.5L50.2 54.5L47.2 53.7L44.1 52.8Z" fill="#01ea03"/>
<path d="M53.2 55.1L56.3 56.0L53.3 55.3L50.2 54.5Z" fill="#01ea03"/>
<path d="M59.3 56.7L62.4 57.5L59.3 56.8L56.3 56.0Z" fill="#01ea03"/>
<path d="M65.4 58.1L68.4 59.0L65.4 58.3L62.4 57.5Z" fill="#01ea03"/>
<path d="M71.4 59.6L74.5 60.3L71.5 59.7L68.4 59.0Z" fill="#01ea03"/>
<path d="M77.5 60.9L80.5 61.7L77.5 61.1L74.5 60.3Z" fill="#01ea03"/>
<path d="M83.5 62.3L86.5 63.0L83.5 62.4L80.5 61.7Z" fill="#01e104"/>
<path d="M89.6 63.5L92.6 64.2L89.6 63.6L86.5 63.0Z" fill="#01da06"/>
<path d="M95.6 64.7L98.6 65.4L95.6 64.8L92.6 64.2Z" fill="#01d207"/>
<path d="M101.6 65.9L104.6 66.5L101.6 66.0L98.6 65.4Z" fill="#01cb08"/>
<path d="M107.6 67.1L110.6 67.7L107.6 67.1L104.6 66.5Z" fill="#01c409"/>
<path d="M113.6 68.2L116.6 68.9L113.6 68.3L110.6 67.7Z" fill="#01bc0a"/>
<path d="M119.6 69.4L122.6 70.0L119.6 69.4L116.6 68.9Z" fill="#01b40b"/>
<path d="M125.6 70.5L128.5 71.1L125.6 70.5L122.6 70.0Z" fill="#01ac0d"/>
<path d="M131.5 71.5L134.5 71.9L131.5 71.5L128.5 71.1Z" fill="#01a610"/>
<path d="M137.5 72.2L140.5 72.5L137.5 72.2L134.5 71.9Z" fill="#01a011"/>
<path d="M143.5 72.7L146.5 72.9L143.4 72.7L140.5 72.5Z" fill="#019c13"/>
<path d="M149.5 73.0L152.4 73.2L149.4 73.0L146.5 72.9Z" fill="#019914"/>
<path d="M155.4 73.2L158.4 73.4L155.4 73.3L152.4 73.2Z" fill="#019715"/>
<path d="M167.4 73.8L170.3 74.1L167.3 73.9L164.3 73.7Z" fill="#019018"/>
<path d="M173.3 74.2L176.2 74.6L173.2 74.4L170.3 74.1Z" fill="#018b19"/>
<path d="M179.2 74.7L182.2 75.3L179.1 75.0L176.2 74.6Z" fill="#01861b"/>
<path d="M161.4 73.5L164.3 73.7L161.3 73.6L158.4 73.4Z" fill="#019316"/>
<path d="M80.5 61.5L83.5 62.3L80.5 61.7L77.5 60.9Z" fill="#01ea03"/>
<path d="M62.3 57.3L65.4 58.1L62.4 57.5L59.3 56.7Z" fill="#01ea03"/>
<path d="M74.4 60.1L77.5 60.9L74.5 60.3L71.4 59.6Z" fill="#01ea03"/>
<path d="M98.6 65.2L101.6 65.9L98.6 65.4L95.6 64.7Z" fill="#01d506"/>
<path d="M134.6 71.8L137.5 72.2L134.5 71.9L131.5 71.5Z" fill="#01aa0e"/>
<path d="M158.5 73.2L161.4 73.5L158.4 73.4L155.4 73.2Z" fill="#019c13"/>
<path d="M170.4 73.7L173.3 74.2L170.3 74.1L167.4 73.8Z" fill="#019515"/>
<path d="M37.9 50.9L41.0 51.9L38.0 51.2L34.9 50.2Z" fill="#01ea03"/>
<path d="M44.0 52.5L47.1 53.5L44.1 52.8L41.0 51.9Z" fill="#01ea03"/>
<path d="M50.1 54.2L53.2 55.1L50.2 54.5L47.1 53.5Z" fill="#01ea03"/>
<path d="M56.2 55.7L59.3 56.7L56.3 56.0L53.2 55.1Z" fill="#01ea03"/>
<path d="M68.4 58.7L71.4 59.6L68.4 59.0L65.4 58.1Z" fill="#01ea03"/>
<path d="M86.5 62.8L89.6 63.5L86.5 63.0L83.5 62.3Z" fill="#01e404"/>
<path d="M92.6 64.0L95.6 64.7L92.6 64.2L89.6 63.5Z" fill="#01dd05"/>
<path d="M104.6 66.4L107.6 67.1L104.6 66.5L101.6 65.9Z" fill="#01ce08"/>
<path d="M110.6 67.6L113.6 68.2L110.6 67.7L107.6 67.1Z" fill="#01c608"/>
<path d="M116.6 68.7L119.6 69.4L116.6 68.9L113.6 68.2Z" fill="#01be09"/>
<path d="M122.6 69.9L125.6 70.5L122.6 70.0L119.6 69.4Z" fill="#01b70b"/>
<path d="M128.6 70.9L131.5 71.5L128.5 71.1L125.6 70.5Z" fill="#01b00c"/>
<path d="M140.5 72.3L143.5 72.7L140.5 72.5L137.5 72.2Z" fill="#01a510"/>
<path d="M146.5 72.7L149.5 73.0L146.5 72.9L143.5 72.7Z" fill="#01a211"/>
<path d="M152.5 73.0L155.4 73.2L152.4 73.2L149.5 73.0Z" fill="#019f12"/>
<path d="M164.4 73.4L167.4 73.8L164.3 73.7L161.4 73.5Z" fill="#019814"/>
<path d="M176.3 74.2L179.2 74.7L176.2 74.6L173.3 74.2Z" fill="#019017"/>
<path d="M77.4 60.7L80.5 61.5L77.5 60.9L74.4 60.1Z" fill="#01ea03"/>
<path d="M83.5 62.0L86.5 62.8L83.5 62.3L80.5 61.5Z" fill="#01ea03"/>
<path d="M125.6 70.2L128.6 70.9L125.6 70.5L122.6 69.9Z" fill="#01ba0a"/>
<path d="M161.5 73.0L164.4 73.4L161.4 73.5L158.5 73.2Z" fill="#01a210"/>
<path d="M40.9 51.5L44.0 52.5L41.0 51.9L37.9 50.9Z" fill="#01ea03"/>
<path d="M59.2 56.3L62.3 57.3L59.3 56.7L56.2 55.7Z" fill="#01ea03"/>
<path d="M65.3 57.8L68.4 58.7L65.4 58.1L62.3 57.3Z" fill="#01ea03"/>
<path d="M71.4 59.3L74.4 60.1L71.4 59.6L68.4 58.7Z" fill="#01ea03"/>
<path d="M95.6 64.5L98.6 65.2L95.6 64.7L92.6 64.0Z" fill="#01e005"/>
<path d="M101.6 65.7L104.6 66.4L101.6 65.9L98.6 65.2Z" fill="#01d806"/>
<path d="M131.6 71.2L134.6 71.8L131.5 71.5L128.6 70.9Z" fill="#01b40b"/>
<path d="M137.6 71.9L140.5 72.3L137.5 72.2L134.6 71.8Z" fill="#01ae0c"/>
<path d="M155.5 72.8L158.5 73.2L155.4 73.2L152.5 73.0Z" fill="#01a510"/>
<path d="M167.4 73.3L170.4 73.7L167.4 73.8L164.4 73.4Z" fill="#019f11"/>
<path d="M173.4 73.6L176.3 74.2L173.3 74.2L170.4 73.7Z" fill="#019b13"/>
<path d="M47.0 53.2L50.1 54.2L47.1 53.5L44.0 52.5Z" fill="#01ea03"/>
<path d="M53.1 54.8L56.2 55.7L53.2 55.1L50.1 54.2Z" fill="#01ea03"/>
<path d="M89.5 63.3L92.6 64.0L89.6 63.5L86.5 62.8Z" fill="#01e703"/>
<path d="M107.6 66.9L110.6 67.6L107.6 67.1L104.6 66.4Z" fill="#01d007"/>
<path d="M113.6 68.0L116.6 68.7L113.6 68.2L110.6 67.6Z" fill="#01c908"/>
<path d="M119.6 69.2L122.6 69.9L119.6 69.4L116.6 68.7Z" fill="#01c109"/>
<path d="M143.5 72.3L146.5 72.7L143.5 72.7L140.5 72.3Z" fill="#01aa0e"/>
<path d="M149.5 72.6L152.5 73.0L149.5 73.0L146.5 72.7Z" fill="#01a80f"/>
<path d="M74.4 59.8L77.4 60.7L74.4 60.1L71.4 59.3Z" fill="#01ea03"/>
<path d="M80.4 61.2L83.5 62.0L80.5 61.5L77.4 60.7Z" fill="#01ea03"/>
<path d="M86.5 62.5L89.5 63.3L86.5 62.8L83.5 62.0Z" fill="#01ea03"/>
<path d="M122.6 69.5L125.6 70.2L122.6 69.9L119.6 69.2Z" fill="#01c508"/>
<path d="M128.6 70.5L131.6 71.2L128.6 70.9L125.6 70.2Z" fill="#01be09"/>
<path d="M158.5 72.6L161.5 73.0L158.5 73.2L155.5 72.8Z" fill="#01ac0d"/>
<path d="M164.5 72.8L167.4 73.3L164.4 73.4L161.5 73.0Z" fill="#01a90e"/>
<path d="M43.9 52.1L47.0 53.2L44.0 52.5L40.9 51.5Z" fill="#01ea03"/>
<path d="M50.0 53.8L53.1 54.8L50.1 54.2L47.0 53.2Z" fill="#01ea03"/>
<path d="M56.1 55.4L59.2 56.3L56.2 55.7L53.1 54.8Z" fill="#01ea03"/>
<path d="M62.2 56.9L65.3 57.8L62.3 57.3L59.2 56.3Z" fill="#01ea03"/>
<path d="M68.3 58.4L71.4 59.3L68.4 58.7L65.3 57.8Z" fill="#01ea03"/>
<path d="M92.5 63.8L95.6 64.5L92.6 64.0L89.5 63.3Z" fill="#01ea03"/>
<path d="M98.6 65.0L101.6 65.7L98.6 65.2L95.6 64.5Z" fill="#01e204"/>
<path d="M104.6 66.1L107.6 66.9L104.6 66.4L101.6 65.7Z" fill="#01db05"/>
<path d="M134.6 71.3L137.6 71.9L134.6 71.8L131.6 71.2Z" fill="#01b80a"/>
<path d="M140.6 71.8L143.5 72.3L140.5 72.3L137.6 71.9Z" fill="#01b40b"/>
<path d="M152.5 72.4L155.5 72.8L152.5 73.0L149.5 72.6Z" fill="#01ae0c"/>
<path d="M170.5 73.1L173.4 73.6L170.4 73.7L167.4 73.3Z" fill="#01a610"/>
<path d="M110.6 67.3L113.6 68.0L110.6 67.6L107.6 66.9Z" fill="#01d407"/>
<path d="M116.6 68.4L119.6 69.2L116.6 68.7L113.6 68.0Z" fill="#01cd08"/>
<path d="M146.6 72.2L149.5 72.6L146.5 72.7L143.5 72.3Z" fill="#01b10c"/>
<path d="M46.9 52.7L50.0 53.8L47.0 53.2L43.9 52.1Z" fill="#01ea03"/>
<path d="M53.1 54.3L56.1 55.4L53.1 54.8L50.0 53.8Z" fill="#01ea03"/>
<path d="M65.2 57.4L68.3 58.4L65.3 57.8L62.2 56.9Z" fill="#01ea03"/>
<path d="M71.3 58.9L74.4 59.8L71.4 59.3L68.3 58.4Z" fill="#01ea03"/>
<path d="M77.4 60.3L80.4 61.2L77.4 60.7L74.4 59.8Z" fill="#01ea03"/>
<path d="M83.5 61.7L86.5 62.5L83.5 62.0L80.4 61.2Z" fill="#01ea03"/>
<path d="M89.5 62.9L92.5 63.8L89.5 63.3L86.5 62.5Z" fill="#01ea03"/>
<path d="M107.6 66.5L110.6 67.3L107.6 66.9L104.6 66.1Z" fill="#01df05"/>
<path d="M119.6 68.7L122.6 69.5L119.6 69.2L116.6 68.4Z" fill="#01d007"/>
<path d="M125.6 69.7L128.6 70.5L125.6 70.2L122.6 69.5Z" fill="#01c908"/>
<path d="M131.6 70.6L134.6 71.3L131.6 71.2L128.6 70.5Z" fill="#01c309"/>
<path d="M155.6 72.1L158.5 72.6L155.5 72.8L152.5 72.4Z" fill="#01b50b"/>
<path d="M161.6 72.3L164.5 72.8L161.5 73.0L158.5 72.6Z" fill="#01b40b"/>
<path d="M167.5 72.5L170.5 73.1L167.4 73.3L164.5 72.8Z" fill="#01b00c"/>
<path d="M59.2 55.9L62.2 56.9L59.2 56.3L56.1 55.4Z" fill="#01ea03"/>
<path d="M95.5 64.2L98.6 65.0L95.6 64.5L92.5 63.8Z" fill="#01ea03"/>
<path d="M101.6 65.4L104.6 66.1L101.6 65.7L98.6 65.0Z" fill="#01e604"/>
<path d="M137.6 71.2L140.6 71.8L137.6 71.9L134.6 71.3Z" fill="#01be09"/>
<path d="M143.6 71.7L146.6 72.2L143.5 72.3L140.6 71.8Z" fill="#01bb0a"/>
<path d="M149.6 71.9L152.5 72.4L149.5 72.6L146.6 72.2Z" fill="#01b80a"/>
<path d="M113.6 67.6L116.6 68.4L113.6 68.0L110.6 67.3Z" fill="#01d806"/>
<path d="M50.0 53.2L53.1 54.3L50.0 53.8L46.9 52.7Z" fill="#01ea03"/>
<path d="M56.1 54.8L59.2 55.9L56.1 55.4L53.1 54.3Z" fill="#01ea03"/>
<path d="M62.2 56.4L65.2 57.4L62.2 56.9L59.2 55.9Z" fill="#01ea03"/>
<path d="M68.3 57.9L71.3 58.9L68.3 58.4L65.2 57.4Z" fill="#01ea03"/>
<path d="M74.3 59.3L77.4 60.3L74.4 59.8L71.3 58.9Z" fill="#01ea03"/>
<path d="M80.4 60.7L83.5 61.7L80.4 61.2L77.4 60.3Z" fill="#01ea03"/>
<path d="M86.5 62.1L89.5 62.9L86.5 62.5L83.5 61.7Z" fill="#01ea03"/>
<path d="M92.5 63.3L95.5 64.2L92.5 63.8L89.5 62.9Z" fill="#01ea03"/>
<path d="M104.6 65.7L107.6 66.5L104.6 66.1L101.6 65.4Z" fill="#01ea03"/>
<path d="M110.6 66.8L113.6 67.6L110.6 67.3L107.6 66.5Z" fill="#01e204"/>
<path d="M116.6 67.9L119.6 68.7L116.6 68.4L113.6 67.6Z" fill="#01dc05"/>
<path d="M122.6 68.9L125.6 69.7L122.6 69.5L119.6 68.7Z" fill="#01d507"/>
<path d="M128.6 69.8L131.6 70.6L128.6 70.5L125.6 69.7Z" fill="#01ce08"/>
<path d="M134.6 70.5L137.6 71.2L134.6 71.3L131.6 70.6Z" fill="#01c908"/>
<path d="M152.6 71.6L155.6 72.1L152.5 72.4L149.6 71.9Z" fill="#01bf09"/>
<path d="M158.6 71.7L161.6 72.3L158.5 72.6L155.6 72.1Z" fill="#01bd0a"/>
<path d="M164.6 71.9L167.5 72.5L164.5 72.8L161.6 72.3Z" fill="#01bb0a"/>
<path d="M98.6 64.5L101.6 65.4L98.6 65.0L95.5 64.2Z" fill="#01ea03"/>
<path d="M140.6 71.0L143.6 71.7L140.6 71.8L137.6 71.2Z" fill="#01c508"/>
<path d="M146.6 71.4L149.6 71.9L146.6 72.2L143.6 71.7Z" fill="#01c209"/>
<path d="M53.0 53.7L56.1 54.8L53.1 54.3L50.0 53.2Z" fill="#01ea03"/>
<path d="M59.1 55.3L62.2 56.4L59.2 55.9L56.1 54.8Z" fill="#01ea03"/>
<path d="M65.2 56.8L68.3 57.9L65.2 57.4L62.2 56.4Z" fill="#01ea03"/>
<path d="M71.3 58.3L74.3 59.3L71.3 58.9L68.3 57.9Z" fill="#01ea03"/>
<path d="M77.4 59.8L80.4 60.7L77.4 60.3L74.3 59.3Z" fill="#01ea03"/>
<path d="M83.4 61.1L86.5 62.1L83.5 61.7L80.4 60.7Z" fill="#01ea03"/>
<path d="M89.5 62.4L92.5 63.3L89.5 62.9L86.5 62.1Z" fill="#01ea03"/>
<path d="M95.5 63.7L98.6 64.5L95.5 64.2L92.5 63.3Z" fill="#01ea03"/>
<path d="M101.6 64.9L104.6 65.7L101.6 65.4L98.6 64.5Z" fill="#01ea03"/>
<path d="M107.6 66.0L110.6 66.8L107.6 66.5L104.6 65.7Z" fill="#01ea03"/>
<path d="M113.6 67.0L116.6 67.9L113.6 67.6L110.6 66.8Z" fill="#01e703"/>
<path d="M119.6 68.1L122.6 68.9L119.6 68.7L116.6 67.9Z" fill="#01e005"/>
<path d="M125.7 69.0L128.6 69.8L125.6 69.7L122.6 68.9Z" fill="#01da06"/>
<path d="M131.7 69.7L134.6 70.5L131.6 70.6L128.6 69.8Z" fill="#01d407"/>
<path d="M137.7 70.3L140.6 71.0L137.6 71.2L134.6 70.5Z" fill="#01cf07"/>
<path d="M149.7 71.0L152.6 71.6L149.6 71.9L146.6 71.4Z" fill="#01ca08"/>
<path d="M155.7 71.1L158.6 71.7L155.6 72.1L152.6 71.6Z" fill="#01c708"/>
<path d="M161.7 71.2L164.6 71.9L161.6 72.3L158.6 71.7Z" fill="#01c608"/>
<path d="M143.7 70.7L146.6 71.4L143.6 71.7L140.6 71.0Z" fill="#01cd08"/>
<path d="M116.6 67.2L119.6 68.1L116.6 67.9L113.6 67.0Z" fill="#01ea03"/>
<path d="M140.7 70.0L143.7 70.7L140.6 71.0L137.7 70.3Z" fill="#01d806"/>
<path d="M152.7 70.5L155.7 71.1L152.6 71.6L149.7 71.0Z" fill="#01d207"/>
<path d="M56.0 54.2L59.1 55.3L56.1 54.8L53.0 53.7Z" fill="#11ea03"/>
<path d="M62.1 55.7L65.2 56.8L62.2 56.4L59.1 55.3Z" fill="#01ea03"/>
<path d="M68.2 57.3L71.3 58.3L68.3 57.9L65.2 56.8Z" fill="#01ea03"/>
<path d="M74.3 58.7L77.4 59.8L74.3 59.3L71.3 58.3Z" fill="#01ea03"/>
<path d="M80.4 60.1L83.4 61.1L80.4 60.7L77.4 59.8Z" fill="#01ea03"/>
<path d="M86.4 61.5L89.5 62.4L86.5 62.1L83.4 61.1Z" fill="#01ea03"/>
<path d="M92.5 62.8L95.5 63.7L92.5 63.3L89.5 62.4Z" fill="#01ea03"/>
<path d="M98.5 64.0L101.6 64.9L98.6 64.5L95.5 63.7Z" fill="#01ea03"/>
<path d="M104.6 65.1L107.6 66.0L104.6 65.7L101.6 64.9Z" fill="#01ea03"/>
<path d="M110.6 66.2L113.6 67.0L110.6 66.8L107.6 66.0Z" fill="#01ea03"/>
<path d="M122.7 68.1L125.7 69.0L122.6 68.9L119.6 68.1Z" fill="#01e604"/>
<path d="M128.7 68.9L131.7 69.7L128.6 69.8L125.7 69.0Z" fill="#01e005"/>
<path d="M134.7 69.5L137.7 70.3L134.6 70.5L131.7 69.7Z" fill="#01db05"/>
<path d="M146.7 70.3L149.7 71.0L146.6 71.4L143.7 70.7Z" fill="#01d507"/>
<path d="M158.7 70.5L161.7 71.2L158.6 71.7L155.7 71.1Z" fill="#01d007"/>
<path d="M143.7 69.6L146.7 70.3L143.7 70.7L140.7 70.0Z" fill="#01e005"/>
<path d="M59.0 54.6L62.1 55.7L59.1 55.3L56.0 54.2Z" fill="#28ea03"/>
<path d="M77.3 59.1L80.4 60.1L77.4 59.8L74.3 58.7Z" fill="#01ea03"/>
<path d="M95.5 63.0L98.5 64.0L95.5 63.7L92.5 62.8Z" fill="#01ea03"/>
<path d="M101.6 64.2L104.6 65.1L101.6 64.9L98.5 64.0Z" fill="#01ea03"/>
<path d="M113.6 66.3L116.6 67.2L113.6 67.0L110.6 66.2Z" fill="#01ea03"/>
<path d="M119.7 67.2L122.7 68.1L119.6 68.1L116.6 67.2Z" fill="#01ea03"/>
<path d="M137.7 69.2L140.7 70.0L137.7 70.3L134.7 69.5Z" fill="#01e204"/>
<path d="M149.7 69.8L152.7 70.5L149.7 71.0L146.7 70.3Z" fill="#01dd05"/>
<path d="M155.8 69.8L158.7 70.5L155.7 71.1L152.7 70.5Z" fill="#01db05"/>
<path d="M65.1 56.1L68.2 57.3L65.2 56.8L62.1 55.7Z" fill="#01ea03"/>
<path d="M71.2 57.6L74.3 58.7L71.3 58.3L68.2 57.3Z" fill="#01ea03"/>
<path d="M83.4 60.5L86.4 61.5L83.4 61.1L80.4 60.1Z" fill="#01ea03"/>
<path d="M89.5 61.8L92.5 62.8L89.5 62.4L86.4 61.5Z" fill="#01ea03"/>
<path d="M107.6 65.3L110.6 66.2L107.6 66.0L104.6 65.1Z" fill="#01ea03"/>
<path d="M125.7 68.1L128.7 68.9L125.7 69.0L122.7 68.1Z" fill="#01ea03"/>
<path d="M131.7 68.7L134.7 69.5L131.7 69.7L128.7 68.9Z" fill="#01e704"/>
<path d="M104.6 64.4L107.6 65.3L104.6 65.1L101.6 64.2Z" fill="#01ea03"/>
<path d="M140.8 68.8L143.7 69.6L140.7 70.0L137.7 69.2Z" fill="#01ea03"/>
<path d="M146.8 69.0L149.7 69.8L146.7 70.3L143.7 69.6Z" fill="#01e903"/>
<path d="M62.0 54.9L65.1 56.1L62.1 55.7L59.0 54.6Z" fill="#42ea03"/>
<path d="M68.1 56.5L71.2 57.6L68.2 57.3L65.1 56.1Z" fill="#06ea03"/>
<path d="M74.2 58.0L77.3 59.1L74.3 58.7L71.2 57.6Z" fill="#01ea03"/>
<path d="M80.3 59.4L83.4 60.5L80.4 60.1L77.3 59.1Z" fill="#01ea03"/>
<path d="M86.4 60.8L89.5 61.8L86.4 61.5L83.4 60.5Z" fill="#01ea03"/>
<path d="M92.5 62.0L95.5 63.0L92.5 62.8L89.5 61.8Z" fill="#01ea03"/>
<path d="M98.5 63.3L101.6 64.2L98.5 64.0L95.5 63.0Z" fill="#01ea03"/>
<path d="M110.6 65.4L113.6 66.3L110.6 66.2L107.6 65.3Z" fill="#01ea03"/>
<path d="M116.7 66.4L119.7 67.2L116.6 67.2L113.6 66.3Z" fill="#01ea03"/>
<path d="M122.7 67.2L125.7 68.1L122.7 68.1L119.7 67.2Z" fill="#01ea03"/>
<path d="M134.7 68.4L137.7 69.2L134.7 69.5L131.7 68.7Z" fill="#01ea03"/>
<path d="M152.8 69.1L155.8 69.8L152.7 70.5L149.7 69.8Z" fill="#01e703"/>
<path d="M128.7 67.9L131.7 68.7L128.7 68.9L125.7 68.1Z" fill="#01ea03"/>
<path d="M65.1 55.3L68.1 56.5L65.1 56.1L62.0 54.9Z" fill="#5cea03"/>
<path d="M71.2 56.8L74.2 58.0L71.2 57.6L68.1 56.5Z" fill="#21ea03"/>
<path d="M95.5 62.2L98.5 63.3L95.5 63.0L92.5 62.0Z" fill="#01ea03"/>
<path d="M101.5 63.4L104.6 64.4L101.6 64.2L98.5 63.3Z" fill="#01ea03"/>
<path d="M107.6 64.5L110.6 65.4L107.6 65.3L104.6 64.4Z" fill="#01ea03"/>
<path d="M137.8 68.0L140.8 68.8L137.7 69.2L134.7 68.4Z" fill="#01ea03"/>
<path d="M143.8 68.2L146.8 69.0L143.7 69.6L140.8 68.8Z" fill="#01ea03"/>
<path d="M149.8 68.3L152.8 69.1L149.7 69.8L146.8 69.0Z" fill="#01ea03"/>
<path d="M77.3 58.3L80.3 59.4L77.3 59.1L74.2 58.0Z" fill="#01ea03"/>
<path d="M83.3 59.7L86.4 60.8L83.4 60.5L80.3 59.4Z" fill="#01ea03"/>
<path d="M89.4 61.0L92.5 62.0L89.5 61.8L86.4 60.8Z" fill="#01ea03"/>
<path d="M113.6 65.5L116.7 66.4L113.6 66.3L110.6 65.4Z" fill="#01ea03"/>
<path d="M119.7 66.3L122.7 67.2L119.7 67.2L116.7 66.4Z" fill="#01ea03"/>
<path d="M125.7 67.0L128.7 67.9L125.7 68.1L122.7 67.2Z" fill="#01ea03"/>
<path d="M131.7 67.6L134.7 68.4L131.7 68.7L128.7 67.9Z" fill="#01ea03"/>
<path d="M68.1 55.6L71.2 56.8L68.1 56.5L65.1 55.3Z" fill="#78ea03"/>
<path d="M74.2 57.1L77.3 58.3L74.2 58.0L71.2 56.8Z" fill="#3eea03"/>
<path d="M80.3 58.5L83.3 59.7L80.3 59.4L77.3 58.3Z" fill="#05ea03"/>
<path d="M86.4 59.9L89.4 61.0L86.4 60.8L83.3 59.7Z" fill="#01ea03"/>
<path d="M92.4 61.2L95.5 62.2L92.5 62.0L89.4 61.0Z" fill="#01ea03"/>
<path d="M98.5 62.4L101.5 63.4L98.5 63.3L95.5 62.2Z" fill="#01ea03"/>
<path d="M104.6 63.5L107.6 64.5L104.6 64.4L101.5 63.4Z" fill="#01ea03"/>
<path d="M110.6 64.5L113.6 65.5L110.6 65.4L107.6 64.5Z" fill="#01ea03"/>
<path d="M122.7 66.1L125.7 67.0L122.7 67.2L119.7 66.3Z" fill="#01ea03"/>
<path d="M128.7 66.7L131.7 67.6L128.7 67.9L125.7 67.0Z" fill="#01ea03"/>
<path d="M140.8 67.4L143.8 68.2L140.8 68.8L137.8 68.0Z" fill="#01ea03"/>
<path d="M146.9 67.5L149.8 68.3L146.8 69.0L143.8 68.2Z" fill="#01ea03"/>
<path d="M116.7 65.4L119.7 66.3L116.7 66.4L113.6 65.5Z" fill="#01ea03"/>
<path d="M134.8 67.2L137.8 68.0L134.7 68.4L131.7 67.6Z" fill="#01ea03"/>
<path d="M71.1 55.8L74.2 57.1L71.2 56.8L68.1 55.6Z" fill="#95ea03"/>
<path d="M77.2 57.3L80.3 58.5L77.3 58.3L74.2 57.1Z" fill="#5cea03"/>
<path d="M83.3 58.7L86.4 59.9L83.3 59.7L80.3 58.5Z" fill="#25ea03"/>
<path d="M89.4 60.0L92.4 61.2L89.4 61.0L86.4 59.9Z" fill="#01ea03"/>
<path d="M95.5 61.3L98.5 62.4L95.5 62.2L92.4 61.2Z" fill="#01ea03"/>
<path d="M101.5 62.5L104.6 63.5L101.5 63.4L98.5 62.4Z" fill="#01ea03"/>
<path d="M107.6 63.5L110.6 64.5L107.6 64.5L104.6 63.5Z" fill="#01ea03"/>
<path d="M113.7 64.4L116.7 65.4L113.6 65.5L110.6 64.5Z" fill="#01ea03"/>
<path d="M119.7 65.2L122.7 66.1L119.7 66.3L116.7 65.4Z" fill="#01ea03"/>
<path d="M125.7 65.9L128.7 66.7L125.7 67.0L122.7 66.1Z" fill="#01ea03"/>
<path d="M131.8 66.3L134.8 67.2L131.7 67.6L128.7 66.7Z" fill="#01ea03"/>
<path d="M137.8 66.6L140.8 67.4L137.8 68.0L134.8 67.2Z" fill="#01ea03"/>
<path d="M143.9 66.7L146.9 67.5L143.8 68.2L140.8 67.4Z" fill="#01ea03"/>
<path d="M116.7 64.3L119.7 65.2L116.7 65.4L113.7 64.4Z" fill="#01ea03"/>
<path d="M86.3 58.9L89.4 60.0L86.4 59.9L83.3 58.7Z" fill="#45ea03"/>
<path d="M92.4 60.2L95.5 61.3L92.4 61.2L89.4 60.0Z" fill="#12ea03"/>
<path d="M134.8 65.8L137.8 66.6L134.8 67.2L131.8 66.3Z" fill="#01ea03"/>
<path d="M74.1 56.0L77.2 57.3L74.2 57.1L71.1 55.8Z" fill="#b4ea03"/>
<path d="M80.2 57.5L83.3 58.7L80.3 58.5L77.2 57.3Z" fill="#7bea03"/>
<path d="M98.5 61.4L101.5 62.5L98.5 62.4L95.5 61.3Z" fill="#01ea03"/>
<path d="M104.6 62.5L107.6 63.5L104.6 63.5L101.5 62.5Z" fill="#01ea03"/>
<path d="M110.6 63.4L113.7 64.4L110.6 64.5L107.6 63.5Z" fill="#01ea03"/>
<path d="M122.7 64.9L125.7 65.9L122.7 66.1L119.7 65.2Z" fill="#01ea03"/>
<path d="M128.8 65.4L131.8 66.3L128.7 66.7L125.7 65.9Z" fill="#01ea03"/>
<path d="M140.9 65.9L143.9 66.7L140.8 67.4L137.8 66.6Z" fill="#01ea03"/>
<path d="M95.5 60.2L98.5 61.4L95.5 61.3L92.4 60.2Z" fill="#36ea03"/>
<path d="M113.7 63.3L116.7 64.3L113.7 64.4L110.6 63.4Z" fill="#01ea03"/>
<path d="M119.7 64.0L122.7 64.9L119.7 65.2L116.7 64.3Z" fill="#01ea03"/>
<path d="M137.9 65.0L140.9 65.9L137.8 66.6L134.8 65.8Z" fill="#01ea03"/>
<path d="M77.2 56.2L80.2 57.5L77.2 57.3L74.1 56.0Z" fill="#d3ea03"/>
<path d="M83.3 57.6L86.3 58.9L83.3 58.7L80.2 57.5Z" fill="#9dea03"/>
<path d="M89.4 58.9L92.4 60.2L89.4 60.0L86.3 58.9Z" fill="#67ea03"/>
<path d="M101.5 61.4L104.6 62.5L101.5 62.5L98.5 61.4Z" fill="#08ea03"/>
<path d="M107.6 62.4L110.6 63.4L107.6 63.5L104.6 62.5Z" fill="#01ea03"/>
<path d="M131.8 64.9L134.8 65.8L131.8 66.3L128.8 65.4Z" fill="#01ea03"/>
<path d="M125.8 64.5L128.8 65.4L125.7 65.9L122.7 64.9Z" fill="#01ea03"/>
<path d="M80.2 56.3L83.3 57.6L80.2 57.5L77.2 56.2Z" fill="#e6e103"/>
<path d="M86.3 57.7L89.4 58.9L86.3 58.9L83.3 57.6Z" fill="#c0ea03"/>
<path d="M92.4 59.0L95.5 60.2L92.4 60.2L89.4 58.9Z" fill="#8cea03"/>
<path d="M98.5 60.2L101.5 61.4L98.5 61.4L95.5 60.2Z" fill="#5dea03"/>
<path d="M104.6 61.3L107.6 62.4L104.6 62.5L101.5 61.4Z" fill="#30ea03"/>
<path d="M110.6 62.2L113.7 63.3L110.6 63.4L107.6 62.4Z" fill="#0aea03"/>
<path d="M116.7 63.0L119.7 64.0L116.7 64.3L113.7 63.3Z" fill="#01ea03"/>
<path d="M122.8 63.6L125.8 64.5L122.7 64.9L119.7 64.0Z" fill="#01ea03"/>
<path d="M134.9 64.1L137.9 65.0L134.8 65.8L131.8 64.9Z" fill="#01ea03"/>
<path d="M128.8 64.0L131.8 64.9L128.8 65.4L125.8 64.5Z" fill="#01ea03"/>
<path d="M113.7 61.9L116.7 63.0L113.7 63.3L110.6 62.2Z" fill="#3aea03"/>
<path d="M125.8 63.0L128.8 64.0L125.8 64.5L122.8 63.6Z" fill="#06ea03"/>
<path d="M83.2 56.4L86.3 57.7L83.3 57.6L80.2 56.3Z" fill="#e6cf03"/>
<path d="M89.3 57.7L92.4 59.0L89.4 58.9L86.3 57.7Z" fill="#e4ea03"/>
<path d="M95.4 59.0L98.5 60.2L95.5 60.2L92.4 59.0Z" fill="#b2ea03"/>
<path d="M101.5 60.1L104.6 61.3L101.5 61.4L98.5 60.2Z" fill="#85ea03"/>
<path d="M107.6 61.1L110.6 62.2L107.6 62.4L104.6 61.3Z" fill="#5dea03"/>
<path d="M119.7 62.6L122.8 63.6L119.7 64.0L116.7 63.0Z" fill="#1cea03"/>
<path d="M131.9 63.2L134.9 64.1L131.8 64.9L128.8 64.0Z" fill="#01ea03"/>
<path d="M104.6 60.0L107.6 61.1L104.6 61.3L101.5 60.1Z" fill="#b0ea03"/>
<path d="M128.9 62.3L131.9 63.2L128.8 64.0L125.8 63.0Z" fill="#45ea03"/>
<path d="M86.3 56.4L89.3 57.7L86.3 57.7L83.2 56.4Z" fill="#e6bc03"/>
<path d="M92.4 57.7L95.4 59.0L92.4 59.0L89.3 57.7Z" fill="#e6d703"/>
<path d="M98.5 58.9L101.5 60.1L98.5 60.2L95.4 59.0Z" fill="#dbea03"/>
<path d="M110.6 60.9L113.7 61.9L110.6 62.2L107.6 61.1Z" fill="#8bea03"/>
<path d="M116.7 61.6L119.7 62.6L116.7 63.0L113.7 61.9Z" fill="#6dea03"/>
<path d="M122.8 62.1L125.8 63.0L122.8 63.6L119.7 62.6Z" fill="#54ea03"/>
<path d="M89.3 56.4L92.4 57.7L89.3 57.7L86.3 56.4Z" fill="#e6a903"/>
<path d="M95.4 57.6L98.5 58.9L95.4 59.0L92.4 57.7Z" fill="#e6c203"/>
<path d="M101.5 58.8L104.6 60.0L101.5 60.1L98.5 58.9Z" fill="#e6d903"/>
<path d="M107.6 59.7L110.6 60.9L107.6 61.1L104.6 60.0Z" fill="#dfea03"/>
<path d="M113.7 60.5L116.7 61.6L113.7 61.9L110.6 60.9Z" fill="#beea03"/>
<path d="M125.8 61.4L128.9 62.3L125.8 63.0L122.8 62.1Z" fill="#94ea03"/>
<path d="M119.8 61.1L122.8 62.1L119.7 62.6L116.7 61.6Z" fill="#a5ea03"/>
<path d="M98.5 57.5L101.5 58.8L98.5 58.9L95.4 57.6Z" fill="#e6ac03"/>
<path d="M110.6 59.4L113.7 60.5L110.6 60.9L107.6 59.7Z" fill="#e6d403"/>
<path d="M92.3 56.3L95.4 57.6L92.4 57.7L89.3 56.4Z" fill="#e69403"/>
<path d="M104.6 58.5L107.6 59.7L104.6 60.0L101.5 58.8Z" fill="#e6c203"/>
<path d="M116.7 60.0L119.8 61.1L116.7 61.6L113.7 60.5Z" fill="#e6e203"/>
<path d="M122.8 60.4L125.8 61.4L122.8 62.1L119.8 61.1Z" fill="#e1ea03"/>
<path d="M95.4 56.2L98.5 57.5L95.4 57.6L92.3 56.3Z" fill="#e67e03"/>
<path d="M101.5 57.3L104.6 58.5L101.5 58.8L98.5 57.5Z" fill="#e69503"/>
<path d="M107.6 58.3L110.6 59.4L107.6 59.7L104.6 58.5Z" fill="#e6a903"/>
<path d="M113.7 59.0L116.7 60.0L113.7 60.5L110.6 59.4Z" fill="#e6b803"/>
<path d="M119.8 59.4L122.8 60.4L119.8 61.1L116.7 60.0Z" fill="#e6c403"/>
<path d="M98.4 56.0L101.5 57.3L98.5 57.5L95.4 56.2Z" fill="#e66803"/>
<path d="M104.5 57.1L107.6 58.3L104.6 58.5L101.5 57.3Z" fill="#e67d03"/>
<path d="M110.7 57.9L113.7 59.0L110.6 59.4L107.6 58.3Z" fill="#e68e03"/>
<path d="M116.8 58.4L119.8 59.4L116.7 60.0L113.7 59.0Z" fill="#e69b03"/>
<path d="M113.7 57.4L116.8 58.4L113.7 59.0L110.7 57.9Z" fill="#e67203"/>
<path d="M101.5 55.8L104.5 57.1L101.5 57.3L98.4 56.0Z" fill="#e65003"/>
<path d="M107.6 56.8L110.7 57.9L107.6 58.3L104.5 57.1Z" fill="#e66303"/>
<path d="M104.5 55.6L107.6 56.8L104.5 57.1L101.5 55.8Z" fill="#e63803"/>
<path d="M110.7 56.4L113.7 57.4L110.7 57.9L107.6 56.8Z" fill="#e64803"/>
<path d="M107.6 55.3L110.7 56.4L107.6 56.8L104.5 55.6Z" fill="#e61f03"/>
</g>
<circle cx="31.9" cy="49.5" r="1.4" fill="#d00000" stroke="#800" stroke-width="0.4"/>
<circle cx="107.6" cy="55.3" r="1.4" fill="#fff" stroke="#c66" stroke-width="0.4"/>
<circle cx="107.6" cy="66.7" r="1.4" fill="#d00000" stroke="#800" stroke-width="0.4"/>
<circle cx="182.2" cy="75.3" r="1.4" fill="#fdd" stroke="#c55" stroke-width="0.4"/>
<path d="M35.4 314.8L30.7 215.8M48.8 285.2L46.1 212.3M63.5 280.5L61.5 208.8M78.2 275.9L76.8 205.3M92.9 271.2L92.2 201.8M107.6 287.7L107.6 198.3M179.8 314.8L184.5 215.8M162.7 284.1L165.3 211.4M144.3 278.2L146.1 207.0M126.0 272.3L126.8 202.7M34.1 289.9L107.6 266.5L181.1 289.9M33.2 271.4L107.6 249.4L181.9 271.4M32.4 252.8L107.6 232.4L182.8 252.8M31.6 234.3L107.6 215.3L183.7 234.3M30.7 215.8L107.6 198.3L184.5 215.8" fill="none" stroke="#5c5c5c" stroke-width="0.58"/>
<rect x="33.4" y="289.2" width="1.3" height="1.3" fill="#111"/>
<text x="31.0" y="288.5" font-size="5.45" text-anchor="end" fill="#262626">0</text>
<rect x="32.5" y="270.7" width="1.3" height="1.3" fill="#111"/>
<text x="30.1" y="270.0" font-size="5.45" text-anchor="end" fill="#262626">5</text>
<rect x="31.7" y="252.2" width="1.3" height="1.3" fill="#111"/>
<text x="29.3" y="251.4" font-size="5.45" text-anchor="end" fill="#262626">10</text>
<rect x="30.9" y="233.6" width="1.3" height="1.3" fill="#111"/>
<text x="28.4" y="232.9" font-size="5.45" text-anchor="end" fill="#262626">15</text>
<rect x="30.0" y="215.1" width="1.3" height="1.3" fill="#111"/>
<text x="27.6" y="214.4" font-size="5.45" text-anchor="end" fill="#262626">20</text>
<text transform="translate(9.5 266.9) rotate(-90)" font-size="5.5" text-anchor="middle" fill="#262626">Deformation (mm)</text>
<path d="M107.6 349.2L179.8 314.8L107.6 287.7L35.4 314.8Z" fill="#575757" stroke="#2a2a2a" stroke-width="0.5"/>
<path d="M178.8 315.3L175.1 315.0L171.4 314.7L167.8 314.3L164.2 314.0L160.6 313.6L157.1 313.2L153.6 312.7L150.1 312.3L146.7 311.8L143.3 311.3L140.0 310.7L135.9 310.0L131.8 309.3L128.6 308.7L125.5 308.0L120.9 307.0L117.9 306.3L114.4 305.4L110.6 304.4L106.5 303.2L103.7 302.3L99.7 301.0L95.9 299.6L92.3 298.1L88.9 296.6L86.7 295.5" fill="none" stroke="#006bd1" stroke-width="1.05"/>
<path d="M161.5 323.5L157.7 323.2L154.0 322.9L150.3 322.5L146.6 322.1L142.9 321.7L139.3 321.3L135.7 320.8L132.2 320.3L128.6 319.8L125.1 319.3L121.7 318.8L118.3 318.2L114.7 317.6L110.5 316.8L106.5 316.1L103.3 315.4L100.0 314.7L96.6 314.0L92.1 312.9L89.0 312.2L85.8 311.3L81.5 310.2L78.5 309.3L74.2 308.0L71.4 307.1L67.3 305.8L63.3 304.3" fill="none" stroke="#00d1a9" stroke-width="1.05"/>
<path d="M146.5 330.7L142.7 330.3L138.9 329.9L135.5 329.6L132.1 329.2L128.7 328.8L125.2 328.4L121.7 327.9L118.1 327.4L114.5 326.9L110.8 326.4L107.1 325.8L103.2 325.2L99.4 324.5L95.6 323.8L92.2 323.2L88.8 322.5L85.5 321.8L82.1 321.1L78.4 320.3L73.9 319.3L70.7 318.5L67.5 317.8L63.9 316.8L59.7 315.7L56.7 314.9L52.5 313.7L49.2 312.6L45.9 311.6L44.9 311.3" fill="none" stroke="#00d132" stroke-width="1.05"/>
<path d="M133.1 337.0L129.3 336.7L126.0 336.3L122.7 335.9L119.3 335.5L116.0 335.1L112.3 334.7L108.6 334.2L104.9 333.7L101.3 333.1L97.7 332.6L94.1 332.0L90.5 331.4L86.9 330.8L83.4 330.2L79.9 329.5L76.1 328.8L72.1 328.0L68.0 327.1L64.5 326.3L61.1 325.6L57.8 324.8L55.1 324.2" fill="none" stroke="#5ed100" stroke-width="1.05"/>
<path d="M119.4 343.6L115.6 343.1L111.7 342.7L107.9 342.2L104.1 341.8L100.4 341.3L97.0 340.8L93.6 340.3L90.2 339.8L86.7 339.3" fill="none" stroke="#d18100" stroke-width="1.05"/>
<rect x="107.0" y="349.0" width="1.2" height="1.2" fill="#111"/>
<text x="109.7" y="354.3" font-size="5.45" fill="#262626">3</text>
<rect x="121.4" y="342.1" width="1.2" height="1.2" fill="#111"/>
<text x="124.1" y="347.4" font-size="5.45" fill="#262626">3.6</text>
<rect x="135.9" y="335.2" width="1.2" height="1.2" fill="#111"/>
<text x="138.6" y="340.5" font-size="5.45" fill="#262626">4.2</text>
<rect x="150.3" y="328.4" width="1.2" height="1.2" fill="#111"/>
<text x="153.0" y="333.7" font-size="5.45" fill="#262626">4.8</text>
<rect x="164.8" y="321.5" width="1.2" height="1.2" fill="#111"/>
<text x="167.5" y="326.8" font-size="5.45" fill="#262626">5.4</text>
<rect x="179.2" y="314.6" width="1.2" height="1.2" fill="#111"/>
<text x="181.9" y="319.9" font-size="5.45" fill="#262626">6</text>
<rect x="107.0" y="349.0" width="1.2" height="1.2" fill="#111"/>
<text x="104.2" y="354.5" font-size="5.45" text-anchor="end" fill="#262626">2</text>
<rect x="88.9" y="340.4" width="1.2" height="1.2" fill="#111"/>
<text x="86.1" y="345.9" font-size="5.45" text-anchor="end" fill="#262626">2.5</text>
<rect x="70.9" y="331.8" width="1.2" height="1.2" fill="#111"/>
<text x="68.1" y="337.3" font-size="5.45" text-anchor="end" fill="#262626">3</text>
<rect x="52.8" y="323.2" width="1.2" height="1.2" fill="#111"/>
<text x="50.0" y="328.7" font-size="5.45" text-anchor="end" fill="#262626">3.5</text>
<rect x="34.8" y="314.6" width="1.2" height="1.2" fill="#111"/>
<text x="32.0" y="320.1" font-size="5.45" text-anchor="end" fill="#262626">4</text>
<text x="171.6" y="346.8" font-size="5.45" text-anchor="middle" fill="#262626">A: Wall thickness</text>
<text x="43.5" y="346.8" font-size="5.45" text-anchor="middle" fill="#262626">C: Divided ratio of radians</text>
<g stroke="#031a10" stroke-opacity=".5" stroke-width=".3">
<path d="M107.6 250.2L110.6 250.0L107.6 248.8L104.6 249.1Z" fill="#016b25"/>
<path d="M104.6 250.5L107.6 250.2L104.6 249.1L101.6 249.3Z" fill="#016f23"/>
<path d="M110.6 251.4L113.5 251.1L110.6 250.0L107.6 250.2Z" fill="#016926"/>
<path d="M101.6 250.6L104.6 250.5L101.6 249.3L98.7 249.5Z" fill="#017422"/>
<path d="M107.6 251.6L110.6 251.4L107.6 250.2L104.6 250.5Z" fill="#016d24"/>
<path d="M113.6 252.5L116.5 252.3L113.5 251.1L110.6 251.4Z" fill="#016726"/>
<path d="M104.6 251.7L107.6 251.6L104.6 250.5L101.6 250.6Z" fill="#017322"/>
<path d="M98.7 250.7L101.6 250.6L98.7 249.5L95.7 249.6Z" fill="#017920"/>
<path d="M110.6 252.6L113.6 252.5L110.6 251.4L107.6 251.6Z" fill="#016c24"/>
<path d="M116.5 253.5L119.5 253.3L116.5 252.3L113.6 252.5Z" fill="#016527"/>
<path d="M95.7 250.8L98.7 250.7L95.7 249.6L92.7 249.7Z" fill="#017e1e"/>
<path d="M101.6 251.8L104.6 251.7L101.6 250.6L98.7 250.7Z" fill="#017820"/>
<path d="M107.6 252.8L110.6 252.6L107.6 251.6L104.6 251.7Z" fill="#017122"/>
<path d="M113.6 253.7L116.5 253.5L113.6 252.5L110.6 252.6Z" fill="#016b25"/>
<path d="M119.5 254.5L122.5 254.4L119.5 253.3L116.5 253.5Z" fill="#016427"/>
<path d="M92.7 250.8L95.7 250.8L92.7 249.7L89.7 249.8Z" fill="#01851b"/>
<path d="M98.7 251.9L101.6 251.8L98.7 250.7L95.7 250.8Z" fill="#017e1e"/>
<path d="M104.6 252.9L107.6 252.8L104.6 251.7L101.6 251.8Z" fill="#017621"/>
<path d="M110.6 253.8L113.6 253.7L110.6 252.6L107.6 252.8Z" fill="#017022"/>
<path d="M116.5 254.7L119.5 254.5L116.5 253.5L113.6 253.7Z" fill="#016a25"/>
<path d="M122.5 255.5L125.4 255.3L122.5 254.4L119.5 254.5Z" fill="#016328"/>
<path d="M89.7 250.8L92.7 250.8L89.7 249.8L86.7 249.8Z" fill="#018a1a"/>
<path d="M95.7 251.9L98.7 251.9L95.7 250.8L92.7 250.8Z" fill="#01841c"/>
<path d="M101.6 252.9L104.6 252.9L101.6 251.8L98.7 251.9Z" fill="#017d1e"/>
<path d="M107.6 253.9L110.6 253.8L107.6 252.8L104.6 252.9Z" fill="#017521"/>
<path d="M113.6 254.8L116.5 254.7L113.6 253.7L110.6 253.8Z" fill="#016f23"/>
<path d="M119.5 255.6L122.5 255.5L119.5 254.5L116.5 254.7Z" fill="#016925"/>
<path d="M125.4 256.5L128.4 256.3L125.4 255.3L122.5 255.5Z" fill="#016228"/>
<path d="M116.5 255.7L119.5 255.6L116.5 254.7L113.6 254.8Z" fill="#016f23"/>
<path d="M128.4 257.4L131.4 257.2L128.4 256.3L125.4 256.5Z" fill="#016228"/>
<path d="M86.7 250.8L89.7 250.8L86.7 249.8L83.7 249.7Z" fill="#019017"/>
<path d="M92.7 251.9L95.7 251.9L92.7 250.8L89.7 250.8Z" fill="#01891a"/>
<path d="M98.7 252.9L101.6 252.9L98.7 251.9L95.7 251.9Z" fill="#01831c"/>
<path d="M104.6 253.9L107.6 253.9L104.6 252.9L101.6 252.9Z" fill="#017c1f"/>
<path d="M110.6 254.8L113.6 254.8L110.6 253.8L107.6 253.9Z" fill="#017521"/>
<path d="M122.5 256.6L125.4 256.5L122.5 255.5L119.5 255.6Z" fill="#016926"/>
<path d="M83.7 250.7L86.7 250.8L83.7 249.7L80.7 249.6Z" fill="#019815"/>
<path d="M107.6 254.8L110.6 254.8L107.6 253.9L104.6 253.9Z" fill="#017c1f"/>
<path d="M113.6 255.8L116.5 255.7L113.6 254.8L110.6 254.8Z" fill="#017422"/>
<path d="M119.5 256.6L122.5 256.6L119.5 255.6L116.5 255.7Z" fill="#016e23"/>
<path d="M125.5 257.5L128.4 257.4L125.4 256.5L122.5 256.6Z" fill="#016826"/>
<path d="M131.4 258.2L134.4 258.1L131.4 257.2L128.4 257.4Z" fill="#016228"/>
<path d="M89.7 251.8L92.7 251.9L89.7 250.8L86.7 250.8Z" fill="#019017"/>
<path d="M95.7 252.9L98.7 252.9L95.7 251.9L92.7 251.9Z" fill="#01891a"/>
<path d="M101.6 253.9L104.6 253.9L101.6 252.9L98.7 252.9Z" fill="#01821c"/>
<path d="M80.7 250.5L83.7 250.7L80.7 249.6L77.7 249.5Z" fill="#019e12"/>
<path d="M86.7 251.7L89.7 251.8L86.7 250.8L83.7 250.7Z" fill="#019715"/>
<path d="M104.6 254.8L107.6 254.8L104.6 253.9L101.6 253.9Z" fill="#01821c"/>
<path d="M110.6 255.8L113.6 255.8L110.6 254.8L107.6 254.8Z" fill="#017b1f"/>
<path d="M116.5 256.7L119.5 256.6L116.5 255.7L113.6 255.8Z" fill="#017422"/>
<path d="M122.5 257.5L125.5 257.5L122.5 256.6L119.5 256.6Z" fill="#016e23"/>
<path d="M128.4 258.3L131.4 258.2L128.4 257.4L125.5 257.5Z" fill="#016926"/>
<path d="M134.4 259.0L137.3 258.9L134.4 258.1L131.4 258.2Z" fill="#016228"/>
<path d="M92.7 252.8L95.7 252.9L92.7 251.9L89.7 251.8Z" fill="#019018"/>
<path d="M98.6 253.8L101.6 253.9L98.7 252.9L95.7 252.9Z" fill="#01881a"/>
<path d="M77.7 250.3L80.7 250.5L77.7 249.5L74.7 249.3Z" fill="#01a510"/>
<path d="M83.7 251.5L86.7 251.7L83.7 250.7L80.7 250.5Z" fill="#019e12"/>
<path d="M89.7 252.6L92.7 252.8L89.7 251.8L86.7 251.7Z" fill="#019715"/>
<path d="M101.6 254.7L104.6 254.8L101.6 253.9L98.6 253.8Z" fill="#01881a"/>
<path d="M107.6 255.7L110.6 255.8L107.6 254.8L104.6 254.8Z" fill="#01821c"/>
<path d="M113.6 256.6L116.5 256.7L113.6 255.8L110.6 255.8Z" fill="#017c1f"/>
<path d="M119.5 257.5L122.5 257.5L119.5 256.6L116.5 256.7Z" fill="#017521"/>
<path d="M125.5 258.3L128.4 258.3L125.5 257.5L122.5 257.5Z" fill="#016f23"/>
<path d="M131.4 259.1L134.4 259.0L131.4 258.2L128.4 258.3Z" fill="#016925"/>
<path d="M137.3 259.8L140.3 259.7L137.3 258.9L134.4 259.0Z" fill="#016328"/>
<path d="M95.7 253.7L98.6 253.8L95.7 252.9L92.7 252.8Z" fill="#019018"/>
<path d="M74.7 250.1L77.7 250.3L74.7 249.3L71.7 249.1Z" fill="#01ad0d"/>
<path d="M80.7 251.3L83.7 251.5L80.7 250.5L77.7 250.3Z" fill="#01a510"/>
<path d="M86.7 252.4L89.7 252.6L86.7 251.7L83.7 251.5Z" fill="#019e12"/>
<path d="M92.7 253.5L95.7 253.7L92.7 252.8L89.7 252.6Z" fill="#019715"/>
<path d="M98.6 254.6L101.6 254.7L98.6 253.8L95.7 253.7Z" fill="#019018"/>
<path d="M104.6 255.6L107.6 255.7L104.6 254.8L101.6 254.7Z" fill="#01891a"/>
<path d="M110.6 256.5L113.6 256.6L110.6 255.8L107.6 255.7Z" fill="#01821c"/>
<path d="M116.5 257.5L119.5 257.5L116.5 256.7L113.6 256.6Z" fill="#017c1f"/>
<path d="M122.5 258.3L125.5 258.3L122.5 257.5L119.5 257.5Z" fill="#017521"/>
<path d="M128.4 259.1L131.4 259.1L128.4 258.3L125.5 258.3Z" fill="#016f23"/>
<path d="M134.4 259.9L137.3 259.8L134.4 259.0L131.4 259.1Z" fill="#016a25"/>
<path d="M140.3 260.6L143.3 260.5L140.3 259.7L137.3 259.8Z" fill="#016427"/>
<path d="M119.5 258.3L122.5 258.3L119.5 257.5L116.5 257.5Z" fill="#017d1e"/>
<path d="M131.4 259.9L134.4 259.9L131.4 259.1L128.4 259.1Z" fill="#017022"/>
<path d="M71.6 249.8L74.7 250.1L71.7 249.1L68.6 248.8Z" fill="#01b40b"/>
<path d="M77.7 251.0L80.7 251.3L77.7 250.3L74.7 250.1Z" fill="#01ad0d"/>
<path d="M83.7 252.2L86.7 252.4L83.7 251.5L80.7 251.3Z" fill="#01a510"/>
<path d="M89.7 253.3L92.7 253.5L89.7 252.6L86.7 252.4Z" fill="#019e12"/>
<path d="M95.6 254.4L98.6 254.6L95.7 253.7L92.7 253.5Z" fill="#019715"/>
<path d="M101.6 255.4L104.6 255.6L101.6 254.7L98.6 254.6Z" fill="#019018"/>
<path d="M107.6 256.4L110.6 256.5L107.6 255.7L104.6 255.6Z" fill="#01891a"/>
<path d="M113.6 257.4L116.5 257.5L113.6 256.6L110.6 256.5Z" fill="#01831c"/>
<path d="M125.5 259.1L128.4 259.1L125.5 258.3L122.5 258.3Z" fill="#017621"/>
<path d="M137.4 260.6L140.3 260.6L137.3 259.8L134.4 259.9Z" fill="#016b25"/>
<path d="M143.3 261.3L146.3 261.2L143.3 260.5L140.3 260.6Z" fill="#016527"/>
<path d="M116.6 258.1L119.5 258.3L116.5 257.5L113.6 257.4Z" fill="#01841c"/>
<path d="M122.5 259.0L125.5 259.1L122.5 258.3L119.5 258.3Z" fill="#017e1e"/>
<path d="M128.5 259.8L131.4 259.9L128.4 259.1L125.5 259.1Z" fill="#017721"/>
<path d="M134.4 260.6L137.4 260.6L134.4 259.9L131.4 259.9Z" fill="#017122"/>
<path d="M68.6 249.4L71.6 249.8L68.6 248.8L65.6 248.5Z" fill="#01bc0a"/>
<path d="M74.6 250.7L77.7 251.0L74.7 250.1L71.6 249.8Z" fill="#01b40b"/>
<path d="M80.6 251.9L83.7 252.2L80.7 251.3L77.7 251.0Z" fill="#01ad0d"/>
<path d="M86.6 253.1L89.7 253.3L86.7 252.4L83.7 252.2Z" fill="#01a610"/>
<path d="M92.6 254.2L95.6 254.4L92.7 253.5L89.7 253.3Z" fill="#019f12"/>
<path d="M98.6 255.2L101.6 255.4L98.6 254.6L95.6 254.4Z" fill="#019814"/>
<path d="M104.6 256.2L107.6 256.4L104.6 255.6L101.6 255.4Z" fill="#019017"/>
<path d="M110.6 257.2L113.6 257.4L110.6 256.5L107.6 256.4Z" fill="#018a1a"/>
<path d="M140.3 261.3L143.3 261.3L140.3 260.6L137.4 260.6Z" fill="#016c24"/>
<path d="M146.3 261.9L149.2 261.9L146.3 261.2L143.3 261.3Z" fill="#016626"/>
<path d="M89.6 253.9L92.6 254.2L89.7 253.3L86.6 253.1Z" fill="#01a60f"/>
<path d="M113.6 258.0L116.6 258.1L113.6 257.4L110.6 257.2Z" fill="#018b1a"/>
<path d="M119.5 258.9L122.5 259.0L119.5 258.3L116.6 258.1Z" fill="#01851b"/>
<path d="M125.5 259.8L128.5 259.8L125.5 259.1L122.5 259.0Z" fill="#017e1e"/>
<path d="M131.4 260.6L134.4 260.6L131.4 259.9L128.5 259.8Z" fill="#017820"/>
<path d="M137.4 261.3L140.3 261.3L137.4 260.6L134.4 260.6Z" fill="#017322"/>
<path d="M65.6 249.0L68.6 249.4L65.6 248.5L62.6 248.1Z" fill="#01c508"/>
<path d="M71.6 250.3L74.6 250.7L71.6 249.8L68.6 249.4Z" fill="#01bc0a"/>
<path d="M77.6 251.6L80.6 251.9L77.7 251.0L74.6 250.7Z" fill="#01b50b"/>
<path d="M83.6 252.7L86.6 253.1L83.7 252.2L80.6 251.9Z" fill="#01ae0d"/>
<path d="M95.6 255.0L98.6 255.2L95.6 254.4L92.6 254.2Z" fill="#01a011"/>
<path d="M101.6 256.0L104.6 256.2L101.6 255.4L98.6 255.2Z" fill="#019814"/>
<path d="M107.6 257.0L110.6 257.2L107.6 256.4L104.6 256.2Z" fill="#019117"/>
<path d="M143.3 262.0L146.3 261.9L143.3 261.3L140.3 261.3Z" fill="#016d24"/>
<path d="M149.3 262.6L152.2 262.5L149.2 261.9L146.3 261.9Z" fill="#016826"/>
<path d="M68.6 249.9L71.6 250.3L68.6 249.4L65.6 249.0Z" fill="#01c508"/>
<path d="M86.6 253.6L89.6 253.9L86.6 253.1L83.6 252.7Z" fill="#01ae0c"/>
<path d="M92.6 254.7L95.6 255.0L92.6 254.2L89.6 253.9Z" fill="#01a70f"/>
<path d="M110.6 257.8L113.6 258.0L110.6 257.2L107.6 257.0Z" fill="#019316"/>
<path d="M116.6 258.7L119.5 258.9L116.6 258.1L113.6 258.0Z" fill="#018c19"/>
<path d="M122.5 259.6L125.5 259.8L122.5 259.0L119.5 258.9Z" fill="#01861b"/>
<path d="M128.5 260.5L131.4 260.6L128.5 259.8L125.5 259.8Z" fill="#017f1d"/>
<path d="M134.4 261.3L137.4 261.3L134.4 260.6L131.4 260.6Z" fill="#017a20"/>
<path d="M140.4 262.0L143.3 262.0L140.3 261.3L137.4 261.3Z" fill="#017422"/>
<path d="M62.5 248.6L65.6 249.0L62.6 248.1L59.5 247.7Z" fill="#01cd08"/>
<path d="M74.6 251.2L77.6 251.6L74.6 250.7L71.6 250.3Z" fill="#01bd0a"/>
<path d="M80.6 252.4L83.6 252.7L80.6 251.9L77.6 251.6Z" fill="#01b60b"/>
<path d="M98.6 255.8L101.6 256.0L98.6 255.2L95.6 255.0Z" fill="#01a111"/>
<path d="M104.6 256.8L107.6 257.0L104.6 256.2L101.6 256.0Z" fill="#019914"/>
<path d="M146.3 262.6L149.3 262.6L146.3 261.9L143.3 262.0Z" fill="#016f23"/>
<path d="M152.2 263.1L155.2 263.1L152.2 262.5L149.3 262.6Z" fill="#016a25"/>
<path d="M65.5 249.5L68.6 249.9L65.6 249.0L62.5 248.6Z" fill="#01ce08"/>
<path d="M71.6 250.7L74.6 251.2L71.6 250.3L68.6 249.9Z" fill="#01c608"/>
<path d="M83.6 253.2L86.6 253.6L83.6 252.7L80.6 252.4Z" fill="#01b70b"/>
<path d="M89.6 254.3L92.6 254.7L89.6 253.9L86.6 253.6Z" fill="#01b00c"/>
<path d="M95.6 255.4L98.6 255.8L95.6 255.0L92.6 254.7Z" fill="#01a90f"/>
<path d="M107.6 257.5L110.6 257.8L107.6 257.0L104.6 256.8Z" fill="#019b13"/>
<path d="M113.6 258.5L116.6 258.7L113.6 258.0L110.6 257.8Z" fill="#019416"/>
<path d="M119.5 259.4L122.5 259.6L119.5 258.9L116.6 258.7Z" fill="#018e19"/>
<path d="M125.5 260.3L128.5 260.5L125.5 259.8L122.5 259.6Z" fill="#01871a"/>
<path d="M131.5 261.2L134.4 261.3L131.4 260.6L128.5 260.5Z" fill="#01811d"/>
<path d="M137.4 261.9L140.4 262.0L137.4 261.3L134.4 261.3Z" fill="#017c1f"/>
<path d="M143.4 262.6L146.3 262.6L143.3 262.0L140.4 262.0Z" fill="#017621"/>
<path d="M59.5 248.1L62.5 248.6L59.5 247.7L56.5 247.2Z" fill="#01d606"/>
<path d="M77.6 252.0L80.6 252.4L77.6 251.6L74.6 251.2Z" fill="#01be09"/>
<path d="M101.6 256.5L104.6 256.8L101.6 256.0L98.6 255.8Z" fill="#01a210"/>
<path d="M149.3 263.1L152.2 263.1L149.3 262.6L146.3 262.6Z" fill="#017122"/>
<path d="M155.2 263.7L158.2 263.6L155.2 263.1L152.2 263.1Z" fill="#016c24"/>
<path d="M98.6 256.1L101.6 256.5L98.6 255.8L95.6 255.4Z" fill="#01aa0e"/>
<path d="M56.4 247.6L59.5 248.1L56.5 247.2L53.4 246.7Z" fill="#01df05"/>
<path d="M62.5 249.0L65.5 249.5L62.5 248.6L59.5 248.1Z" fill="#01d706"/>
<path d="M68.5 250.3L71.6 250.7L68.6 249.9L65.5 249.5Z" fill="#01ce08"/>
<path d="M74.6 251.5L77.6 252.0L74.6 251.2L71.6 250.7Z" fill="#01c608"/>
<path d="M80.6 252.8L83.6 253.2L80.6 252.4L77.6 252.0Z" fill="#01bf09"/>
<path d="M86.6 253.9L89.6 254.3L86.6 253.6L83.6 253.2Z" fill="#01b80a"/>
<path d="M92.6 255.1L95.6 255.4L92.6 254.7L89.6 254.3Z" fill="#01b10c"/>
<path d="M104.6 257.2L107.6 257.5L104.6 256.8L101.6 256.5Z" fill="#01a310"/>
<path d="M110.6 258.2L113.6 258.5L110.6 257.8L107.6 257.5Z" fill="#019c13"/>
<path d="M116.6 259.2L119.5 259.4L116.6 258.7L113.6 258.5Z" fill="#019615"/>
<path d="M122.5 260.1L125.5 260.3L122.5 259.6L119.5 259.4Z" fill="#019018"/>
<path d="M128.5 261.0L131.5 261.2L128.5 260.5L125.5 260.3Z" fill="#01881a"/>
<path d="M134.5 261.8L137.4 261.9L134.4 261.3L131.5 261.2Z" fill="#01831c"/>
<path d="M140.4 262.5L143.4 262.6L140.4 262.0L137.4 261.9Z" fill="#017e1e"/>
<path d="M146.3 263.1L149.3 263.1L146.3 262.6L143.4 262.6Z" fill="#017820"/>
<path d="M158.2 264.1L161.2 264.1L158.2 263.6L155.2 263.7Z" fill="#016e23"/>
<path d="M152.3 263.7L155.2 263.7L152.2 263.1L149.3 263.1Z" fill="#017422"/>
<path d="M95.6 255.7L98.6 256.1L95.6 255.4L92.6 255.1Z" fill="#01b30b"/>
<path d="M101.6 256.8L104.6 257.2L101.6 256.5L98.6 256.1Z" fill="#01ab0d"/>
<path d="M161.2 264.6L164.2 264.6L161.2 264.1L158.2 264.1Z" fill="#017222"/>
<path d="M53.4 247.0L56.4 247.6L53.4 246.7L50.4 246.1Z" fill="#01e803"/>
<path d="M59.5 248.4L62.5 249.0L59.5 248.1L56.4 247.6Z" fill="#01e005"/>
<path d="M65.5 249.8L68.5 250.3L65.5 249.5L62.5 249.0Z" fill="#01d806"/>
<path d="M71.5 251.0L74.6 251.5L71.6 250.7L68.5 250.3Z" fill="#01cf07"/>
<path d="M77.6 252.3L80.6 252.8L77.6 252.0L74.6 251.5Z" fill="#01c808"/>
<path d="M83.6 253.5L86.6 253.9L83.6 253.2L80.6 252.8Z" fill="#01c109"/>
<path d="M89.6 254.6L92.6 255.1L89.6 254.3L86.6 253.9Z" fill="#01ba0a"/>
<path d="M107.6 257.8L110.6 258.2L107.6 257.5L104.6 257.2Z" fill="#01a510"/>
<path d="M113.6 258.9L116.6 259.2L113.6 258.5L110.6 258.2Z" fill="#019e12"/>
<path d="M119.6 259.9L122.5 260.1L119.5 259.4L116.6 259.2Z" fill="#019815"/>
<path d="M125.5 260.8L128.5 261.0L125.5 260.3L122.5 260.1Z" fill="#019017"/>
<path d="M131.5 261.7L134.5 261.8L131.5 261.2L128.5 261.0Z" fill="#018a1a"/>
<path d="M137.4 262.4L140.4 262.5L137.4 261.9L134.5 261.8Z" fill="#01851b"/>
<path d="M143.4 263.1L146.3 263.1L143.4 262.6L140.4 262.5Z" fill="#017f1d"/>
<path d="M149.3 263.6L152.3 263.7L149.3 263.1L146.3 263.1Z" fill="#017b1f"/>
<path d="M155.3 264.1L158.2 264.1L155.2 263.7L152.3 263.7Z" fill="#017621"/>
<path d="M80.6 253.0L83.6 253.5L80.6 252.8L77.6 252.3Z" fill="#01ca08"/>
<path d="M92.6 255.3L95.6 255.7L92.6 255.1L89.6 254.6Z" fill="#01bc0a"/>
<path d="M98.6 256.4L101.6 256.8L98.6 256.1L95.6 255.7Z" fill="#01b40b"/>
<path d="M104.6 257.4L107.6 257.8L104.6 257.2L101.6 256.8Z" fill="#01ae0d"/>
<path d="M116.6 259.5L119.6 259.9L116.6 259.2L113.6 258.9Z" fill="#01a011"/>
<path d="M158.3 264.5L161.2 264.6L158.2 264.1L155.3 264.1Z" fill="#017920"/>
<path d="M164.2 264.9L167.2 265.0L164.2 264.6L161.2 264.6Z" fill="#017422"/>
<path d="M50.3 246.4L53.4 247.0L50.4 246.1L47.3 245.5Z" fill="#01ea03"/>
<path d="M56.4 247.8L59.5 248.4L56.4 247.6L53.4 247.0Z" fill="#01e903"/>
<path d="M62.5 249.2L65.5 249.8L62.5 249.0L59.5 248.4Z" fill="#01e005"/>
<path d="M68.5 250.5L71.5 251.0L68.5 250.3L65.5 249.8Z" fill="#01d806"/>
<path d="M74.5 251.8L77.6 252.3L74.6 251.5L71.5 251.0Z" fill="#01d107"/>
<path d="M86.6 254.2L89.6 254.6L86.6 253.9L83.6 253.5Z" fill="#01c309"/>
<path d="M110.6 258.5L113.6 258.9L110.6 258.2L107.6 257.8Z" fill="#01a70f"/>
<path d="M122.5 260.5L125.5 260.8L122.5 260.1L119.6 259.9Z" fill="#019914"/>
<path d="M128.5 261.4L131.5 261.7L128.5 261.0L125.5 260.8Z" fill="#019217"/>
<path d="M134.5 262.3L137.4 262.4L134.5 261.8L131.5 261.7Z" fill="#018d19"/>
<path d="M140.4 263.0L143.4 263.1L140.4 262.5L137.4 262.4Z" fill="#01861a"/>
<path d="M146.4 263.6L149.3 263.6L146.3 263.1L143.4 263.1Z" fill="#01821c"/>
<path d="M152.3 264.0L155.3 264.1L152.3 263.7L149.3 263.6Z" fill="#017e1e"/>
<path d="M53.3 247.2L56.4 247.8L53.4 247.0L50.3 246.4Z" fill="#01ea03"/>
<path d="M77.5 252.5L80.6 253.0L77.6 252.3L74.5 251.8Z" fill="#01d307"/>
<path d="M83.6 253.6L86.6 254.2L83.6 253.5L80.6 253.0Z" fill="#01cc08"/>
<path d="M89.6 254.8L92.6 255.3L89.6 254.6L86.6 254.2Z" fill="#01c508"/>
<path d="M95.6 255.9L98.6 256.4L95.6 255.7L92.6 255.3Z" fill="#01bd0a"/>
<path d="M101.6 257.0L104.6 257.4L101.6 256.8L98.6 256.4Z" fill="#01b70b"/>
<path d="M107.6 258.1L110.6 258.5L107.6 257.8L104.6 257.4Z" fill="#01b00c"/>
<path d="M113.6 259.1L116.6 259.5L113.6 258.9L110.6 258.5Z" fill="#01a90e"/>
<path d="M119.6 260.1L122.5 260.5L119.6 259.9L116.6 259.5Z" fill="#01a210"/>
<path d="M143.4 263.4L146.4 263.6L143.4 263.1L140.4 263.0Z" fill="#01891a"/>
<path d="M155.3 264.4L158.3 264.5L155.3 264.1L152.3 264.0Z" fill="#01801d"/>
<path d="M161.3 264.8L164.2 264.9L161.2 264.6L158.3 264.5Z" fill="#017d1e"/>
<path d="M167.2 265.2L170.2 265.3L167.2 265.0L164.2 264.9Z" fill="#017820"/>
<path d="M47.3 245.7L50.3 246.4L47.3 245.5L44.2 244.9Z" fill="#01ea03"/>
<path d="M59.4 248.6L62.5 249.2L59.5 248.4L56.4 247.8Z" fill="#01ea03"/>
<path d="M65.5 249.9L68.5 250.5L65.5 249.8L62.5 249.2Z" fill="#01e204"/>
<path d="M71.5 251.2L74.5 251.8L71.5 251.0L68.5 250.5Z" fill="#01da06"/>
<path d="M125.5 261.1L128.5 261.4L125.5 260.8L122.5 260.5Z" fill="#019b13"/>
<path d="M131.5 262.0L134.5 262.3L131.5 261.7L128.5 261.4Z" fill="#019516"/>
<path d="M137.5 262.8L140.4 263.0L137.4 262.4L134.5 262.3Z" fill="#018f18"/>
<path d="M149.4 264.0L152.3 264.0L149.3 263.6L146.4 263.6Z" fill="#01851b"/>
<path d="M44.2 245.0L47.3 245.7L44.2 244.9L41.2 244.2Z" fill="#01ea03"/>
<path d="M50.3 246.5L53.3 247.2L50.3 246.4L47.3 245.7Z" fill="#01ea03"/>
<path d="M56.3 247.9L59.4 248.6L56.4 247.8L53.3 247.2Z" fill="#01ea03"/>
<path d="M68.5 250.6L71.5 251.2L68.5 250.5L65.5 249.9Z" fill="#01e404"/>
<path d="M74.5 251.9L77.5 252.5L74.5 251.8L71.5 251.2Z" fill="#01dc05"/>
<path d="M80.5 253.1L83.6 253.6L80.6 253.0L77.5 252.5Z" fill="#01d506"/>
<path d="M86.6 254.3L89.6 254.8L86.6 254.2L83.6 253.6Z" fill="#01ce08"/>
<path d="M92.6 255.4L95.6 255.9L92.6 255.3L89.6 254.8Z" fill="#01c608"/>
<path d="M98.6 256.5L101.6 257.0L98.6 256.4L95.6 255.9Z" fill="#01c009"/>
<path d="M104.6 257.6L107.6 258.1L104.6 257.4L101.6 257.0Z" fill="#01b90a"/>
<path d="M110.6 258.6L113.6 259.1L110.6 258.5L107.6 258.1Z" fill="#01b20b"/>
<path d="M116.6 259.7L119.6 260.1L116.6 259.5L113.6 259.1Z" fill="#01ab0e"/>
<path d="M122.6 260.7L125.5 261.1L122.5 260.5L119.6 260.1Z" fill="#01a410"/>
<path d="M140.5 263.3L143.4 263.4L140.4 263.0L137.5 262.8Z" fill="#019117"/>
<path d="M146.4 263.8L149.4 264.0L146.4 263.6L143.4 263.4Z" fill="#018d19"/>
<path d="M152.4 264.3L155.3 264.4L152.3 264.0L149.4 264.0Z" fill="#01881a"/>
<path d="M158.3 264.7L161.3 264.8L158.3 264.5L155.3 264.4Z" fill="#01851b"/>
<path d="M164.3 265.1L167.2 265.2L164.2 264.9L161.3 264.8Z" fill="#01801d"/>
<path d="M170.2 265.5L173.2 265.6L170.2 265.3L167.2 265.2Z" fill="#017c1f"/>
<path d="M62.4 249.3L65.5 249.9L62.5 249.2L59.4 248.6Z" fill="#01ea03"/>
<path d="M128.5 261.7L131.5 262.0L128.5 261.4L125.5 261.1Z" fill="#019d12"/>
<path d="M134.5 262.6L137.5 262.8L134.5 262.3L131.5 262.0Z" fill="#019715"/>
<path d="M41.1 244.2L44.2 245.0L41.2 244.2L38.1 243.4Z" fill="#01ea03"/>
<path d="M47.2 245.8L50.3 246.5L47.3 245.7L44.2 245.0Z" fill="#01ea03"/>
<path d="M53.3 247.2L56.3 247.9L53.3 247.2L50.3 246.5Z" fill="#01ea03"/>
<path d="M59.3 248.6L62.4 249.3L59.4 248.6L56.3 247.9Z" fill="#01ea03"/>
<path d="M65.4 249.9L68.5 250.6L65.5 249.9L62.4 249.3Z" fill="#01ea03"/>
<path d="M71.5 251.2L74.5 251.9L71.5 251.2L68.5 250.6Z" fill="#01e604"/>
<path d="M77.5 252.5L80.5 253.1L77.5 252.5L74.5 251.9Z" fill="#01df05"/>
<path d="M83.5 253.7L86.6 254.3L83.6 253.6L80.5 253.1Z" fill="#01d806"/>
<path d="M89.6 254.8L92.6 255.4L89.6 254.8L86.6 254.3Z" fill="#01d007"/>
<path d="M95.6 255.9L98.6 256.5L95.6 255.9L92.6 255.4Z" fill="#01c908"/>
<path d="M101.6 257.0L104.6 257.6L101.6 257.0L98.6 256.5Z" fill="#01c309"/>
<path d="M107.6 258.1L110.6 258.6L107.6 258.1L104.6 257.6Z" fill="#01bc0a"/>
<path d="M113.6 259.2L116.6 259.7L113.6 259.1L110.6 258.6Z" fill="#01b40b"/>
<path d="M119.6 260.3L122.6 260.7L119.6 260.1L116.6 259.7Z" fill="#01ad0d"/>
<path d="M125.6 261.3L128.5 261.7L125.5 261.1L122.6 260.7Z" fill="#01a610"/>
<path d="M137.5 263.0L140.5 263.3L137.5 262.8L134.5 262.6Z" fill="#019914"/>
<path d="M143.5 263.6L146.4 263.8L143.4 263.4L140.5 263.3Z" fill="#019516"/>
<path d="M149.4 264.1L152.4 264.3L149.4 264.0L146.4 263.8Z" fill="#019017"/>
<path d="M155.4 264.6L158.3 264.7L155.3 264.4L152.4 264.3Z" fill="#018c19"/>
<path d="M161.3 265.0L164.3 265.1L161.3 264.8L158.3 264.7Z" fill="#01881a"/>
<path d="M167.3 265.4L170.2 265.5L167.2 265.2L164.3 265.1Z" fill="#01841b"/>
<path d="M173.2 265.8L176.2 265.9L173.2 265.6L170.2 265.5Z" fill="#01801d"/>
<path d="M131.5 262.2L134.5 262.6L131.5 262.0L128.5 261.7Z" fill="#01a011"/>
<path d="M38.0 243.4L41.1 244.2L38.1 243.4L35.0 242.6Z" fill="#01ea03"/>
<path d="M44.1 245.0L47.2 245.8L44.2 245.0L41.1 244.2Z" fill="#01ea03"/>
<path d="M50.2 246.5L53.3 247.2L50.3 246.5L47.2 245.8Z" fill="#01ea03"/>
<path d="M56.3 247.9L59.3 248.6L56.3 247.9L53.3 247.2Z" fill="#01ea03"/>
<path d="M62.4 249.3L65.4 249.9L62.4 249.3L59.3 248.6Z" fill="#01ea03"/>
<path d="M68.4 250.6L71.5 251.2L68.5 250.6L65.4 249.9Z" fill="#01ea03"/>
<path d="M74.5 251.8L77.5 252.5L74.5 251.9L71.5 251.2Z" fill="#01e903"/>
<path d="M80.5 253.0L83.5 253.7L80.5 253.1L77.5 252.5Z" fill="#01e104"/>
<path d="M86.5 254.2L89.6 254.8L86.6 254.3L83.5 253.7Z" fill="#01da06"/>
<path d="M92.6 255.3L95.6 255.9L92.6 255.4L89.6 254.8Z" fill="#01d307"/>
<path d="M98.6 256.4L101.6 257.0L98.6 256.5L95.6 255.9Z" fill="#01cc08"/>
<path d="M104.6 257.5L107.6 258.1L104.6 257.6L101.6 257.0Z" fill="#01c608"/>
<path d="M110.6 258.6L113.6 259.2L110.6 258.6L107.6 258.1Z" fill="#01be09"/>
<path d="M116.6 259.7L119.6 260.3L116.6 259.7L113.6 259.2Z" fill="#01b70b"/>
<path d="M122.6 260.8L125.6 261.3L122.6 260.7L119.6 260.3Z" fill="#01b00c"/>
<path d="M128.6 261.8L131.5 262.2L128.5 261.7L125.6 261.3Z" fill="#01a90e"/>
<path d="M134.5 262.6L137.5 263.0L134.5 262.6L131.5 262.2Z" fill="#01a210"/>
<path d="M140.5 263.3L143.5 263.6L140.5 263.3L137.5 263.0Z" fill="#019d12"/>
<path d="M146.5 263.9L149.4 264.1L146.4 263.8L143.5 263.6Z" fill="#019814"/>
<path d="M152.4 264.4L155.4 264.6L152.4 264.3L149.4 264.1Z" fill="#019516"/>
<path d="M158.4 264.8L161.3 265.0L158.3 264.7L155.4 264.6Z" fill="#019017"/>
<path d="M164.3 265.2L167.3 265.4L164.3 265.1L161.3 265.0Z" fill="#018d19"/>
<path d="M170.3 265.6L173.2 265.8L170.2 265.5L167.3 265.4Z" fill="#01881a"/>
<path d="M176.2 265.9L179.2 266.1L176.2 265.9L173.2 265.8Z" fill="#01841b"/>
<path d="M34.9 242.5L38.0 243.4L35.0 242.6L31.9 241.7Z" fill="#01ea03"/>
<path d="M41.0 244.2L44.1 245.0L41.1 244.2L38.0 243.4Z" fill="#01ea03"/>
<path d="M47.1 245.7L50.2 246.5L47.2 245.8L44.1 245.0Z" fill="#01ea03"/>
<path d="M53.2 247.1L56.3 247.9L53.3 247.2L50.2 246.5Z" fill="#01ea03"/>
<path d="M59.3 248.5L62.4 249.3L59.3 248.6L56.3 247.9Z" fill="#01ea03"/>
<path d="M65.4 249.8L68.4 250.6L65.4 249.9L62.4 249.3Z" fill="#01ea03"/>
<path d="M71.4 251.1L74.5 251.8L71.5 251.2L68.4 250.6Z" fill="#01ea03"/>
<path d="M77.5 252.4L80.5 253.0L77.5 252.5L74.5 251.8Z" fill="#01ea03"/>
<path d="M83.5 253.6L86.5 254.2L83.5 253.7L80.5 253.0Z" fill="#01e404"/>
<path d="M89.5 254.7L92.6 255.3L89.6 254.8L86.5 254.2Z" fill="#01dd05"/>
<path d="M95.6 255.8L98.6 256.4L95.6 255.9L92.6 255.3Z" fill="#01d606"/>
<path d="M101.6 256.9L104.6 257.5L101.6 257.0L98.6 256.4Z" fill="#01cf07"/>
<path d="M107.6 258.0L110.6 258.6L107.6 258.1L104.6 257.5Z" fill="#01c808"/>
<path d="M113.6 259.1L116.6 259.7L113.6 259.2L110.6 258.6Z" fill="#01c109"/>
<path d="M119.6 260.2L122.6 260.8L119.6 260.3L116.6 259.7Z" fill="#01ba0a"/>
<path d="M125.6 261.2L128.6 261.8L125.6 261.3L122.6 260.8Z" fill="#01b30b"/>
<path d="M131.6 262.2L134.5 262.6L131.5 262.2L128.6 261.8Z" fill="#01ac0d"/>
<path d="M137.5 263.0L140.5 263.3L137.5 263.0L134.5 262.6Z" fill="#01a610"/>
<path d="M143.5 263.6L146.5 263.9L143.5 263.6L140.5 263.3Z" fill="#01a211"/>
<path d="M149.5 264.1L152.4 264.4L149.4 264.1L146.5 263.9Z" fill="#019d12"/>
<path d="M155.4 264.5L158.4 264.8L155.4 264.6L152.4 264.4Z" fill="#019914"/>
<path d="M167.4 265.3L170.3 265.6L167.3 265.4L164.3 265.2Z" fill="#019117"/>
<path d="M173.3 265.7L176.2 265.9L173.2 265.8L170.3 265.6Z" fill="#018d19"/>
<path d="M179.3 266.1L182.2 266.3L179.2 266.1L176.2 265.9Z" fill="#01891a"/>
<path d="M161.4 264.9L164.3 265.2L161.3 265.0L158.4 264.8Z" fill="#019515"/>
<path d="M80.5 252.9L83.5 253.6L80.5 253.0L77.5 252.4Z" fill="#01ea03"/>
<path d="M62.3 249.1L65.4 249.8L62.4 249.3L59.3 248.5Z" fill="#01ea03"/>
<path d="M74.4 251.6L77.5 252.4L74.5 251.8L71.4 251.1Z" fill="#01ea03"/>
<path d="M98.6 256.3L101.6 256.9L98.6 256.4L95.6 255.8Z" fill="#01d906"/>
<path d="M134.6 262.5L137.5 263.0L134.5 262.6L131.6 262.2Z" fill="#01b00c"/>
<path d="M158.5 264.6L161.4 264.9L158.4 264.8L155.4 264.5Z" fill="#019e12"/>
<path d="M170.4 265.4L173.3 265.7L170.3 265.6L167.4 265.3Z" fill="#019615"/>
<path d="M37.9 243.3L41.0 244.2L38.0 243.4L34.9 242.5Z" fill="#01ea03"/>
<path d="M44.0 244.9L47.1 245.7L44.1 245.0L41.0 244.2Z" fill="#01ea03"/>
<path d="M50.1 246.4L53.2 247.1L50.2 246.5L47.1 245.7Z" fill="#01ea03"/>
<path d="M56.2 247.8L59.3 248.5L56.3 247.9L53.2 247.1Z" fill="#01ea03"/>
<path d="M68.4 250.4L71.4 251.1L68.4 250.6L65.4 249.8Z" fill="#01ea03"/>
<path d="M86.5 254.0L89.5 254.7L86.5 254.2L83.5 253.6Z" fill="#01e703"/>
<path d="M92.5 255.1L95.6 255.8L92.6 255.3L89.5 254.7Z" fill="#01e005"/>
<path d="M104.6 257.3L107.6 258.0L104.6 257.5L101.6 256.9Z" fill="#01d207"/>
<path d="M110.6 258.4L113.6 259.1L110.6 258.6L107.6 258.0Z" fill="#01cc08"/>
<path d="M116.6 259.5L119.6 260.2L116.6 259.7L113.6 259.1Z" fill="#01c508"/>
<path d="M122.6 260.6L125.6 261.2L122.6 260.8L119.6 260.2Z" fill="#01bd0a"/>
<path d="M128.6 261.6L131.6 262.2L128.6 261.8L125.6 261.2Z" fill="#01b60b"/>
<path d="M140.5 263.2L143.5 263.6L140.5 263.3L137.5 263.0Z" fill="#01aa0e"/>
<path d="M146.5 263.7L149.5 264.1L146.5 263.9L143.5 263.6Z" fill="#01a610"/>
<path d="M152.5 264.2L155.4 264.5L152.4 264.4L149.5 264.1Z" fill="#01a210"/>
<path d="M164.4 265.0L167.4 265.3L164.3 265.2L161.4 264.9Z" fill="#019a13"/>
<path d="M176.3 265.8L179.3 266.1L176.2 265.9L173.3 265.7Z" fill="#019217"/>
<path d="M77.4 252.1L80.5 252.9L77.5 252.4L74.4 251.6Z" fill="#01ea03"/>
<path d="M83.5 253.3L86.5 254.0L83.5 253.6L80.5 252.9Z" fill="#01ea03"/>
<path d="M125.6 260.9L128.6 261.6L125.6 261.2L122.6 260.6Z" fill="#01c109"/>
<path d="M161.5 264.7L164.4 265.0L161.4 264.9L158.5 264.6Z" fill="#01a310"/>
<path d="M40.9 244.0L44.0 244.9L41.0 244.2L37.9 243.3Z" fill="#01ea03"/>
<path d="M59.2 248.3L62.3 249.1L59.3 248.5L56.2 247.8Z" fill="#01ea03"/>
<path d="M65.3 249.6L68.4 250.4L65.4 249.8L62.3 249.1Z" fill="#01ea03"/>
<path d="M71.4 250.9L74.4 251.6L71.4 251.1L68.4 250.4Z" fill="#01ea03"/>
<path d="M95.6 255.5L98.6 256.3L95.6 255.8L92.5 255.1Z" fill="#01e404"/>
<path d="M101.6 256.6L104.6 257.3L101.6 256.9L98.6 256.3Z" fill="#01dd05"/>
<path d="M131.6 261.8L134.6 262.5L131.6 262.2L128.6 261.6Z" fill="#01ba0a"/>
<path d="M137.6 262.6L140.5 263.2L137.5 263.0L134.6 262.5Z" fill="#01b40b"/>
<path d="M155.5 264.3L158.5 264.6L155.4 264.5L152.5 264.2Z" fill="#01a70f"/>
<path d="M167.4 265.1L170.4 265.4L167.4 265.3L164.4 265.0Z" fill="#019f11"/>
<path d="M173.4 265.5L176.3 265.8L173.3 265.7L170.4 265.4Z" fill="#019b13"/>
<path d="M47.1 245.5L50.1 246.4L47.1 245.7L44.0 244.9Z" fill="#01ea03"/>
<path d="M53.1 247.0L56.2 247.8L53.2 247.1L50.1 246.4Z" fill="#01ea03"/>
<path d="M89.5 254.4L92.5 255.1L89.5 254.7L86.5 254.0Z" fill="#01ea03"/>
<path d="M107.6 257.7L110.6 258.4L107.6 258.0L104.6 257.3Z" fill="#01d606"/>
<path d="M113.6 258.8L116.6 259.5L113.6 259.1L110.6 258.4Z" fill="#01ce08"/>
<path d="M119.6 259.9L122.6 260.6L119.6 260.2L116.6 259.5Z" fill="#01c708"/>
<path d="M143.6 263.3L146.5 263.7L143.5 263.6L140.5 263.2Z" fill="#01b00c"/>
<path d="M149.5 263.8L152.5 264.2L149.5 264.1L146.5 263.7Z" fill="#01ab0e"/>
<path d="M74.4 251.3L77.4 252.1L74.4 251.6L71.4 250.9Z" fill="#01ea03"/>
<path d="M80.4 252.5L83.5 253.3L80.5 252.9L77.4 252.1Z" fill="#01ea03"/>
<path d="M86.5 253.7L89.5 254.4L86.5 254.0L83.5 253.3Z" fill="#01ea03"/>
<path d="M122.6 260.1L125.6 260.9L122.6 260.6L119.6 259.9Z" fill="#01cc08"/>
<path d="M128.6 261.1L131.6 261.8L128.6 261.6L125.6 260.9Z" fill="#01c508"/>
<path d="M158.5 264.3L161.5 264.7L158.5 264.6L155.5 264.3Z" fill="#01ad0d"/>
<path d="M164.5 264.7L167.4 265.1L164.4 265.0L161.5 264.7Z" fill="#01a90f"/>
<path d="M44.0 244.7L47.1 245.5L44.0 244.9L40.9 244.0Z" fill="#01ea03"/>
<path d="M50.1 246.1L53.1 247.0L50.1 246.4L47.1 245.5Z" fill="#01ea03"/>
<path d="M56.2 247.5L59.2 248.3L56.2 247.8L53.1 247.0Z" fill="#01ea03"/>
<path d="M62.2 248.8L65.3 249.6L62.3 249.1L59.2 248.3Z" fill="#01ea03"/>
<path d="M68.3 250.1L71.4 250.9L68.4 250.4L65.3 249.6Z" fill="#01ea03"/>
<path d="M92.5 254.8L95.6 255.5L92.5 255.1L89.5 254.4Z" fill="#01ea03"/>
<path d="M98.6 255.9L101.6 256.6L98.6 256.3L95.6 255.5Z" fill="#01e803"/>
<path d="M104.6 257.0L107.6 257.7L104.6 257.3L101.6 256.6Z" fill="#01e005"/>
<path d="M134.6 262.0L137.6 262.6L134.6 262.5L131.6 261.8Z" fill="#01be09"/>
<path d="M140.6 262.7L143.6 263.3L140.5 263.2L137.6 262.6Z" fill="#01ba0a"/>
<path d="M152.6 263.8L155.5 264.3L152.5 264.2L149.5 263.8Z" fill="#01b10c"/>
<path d="M170.5 265.2L173.4 265.5L170.4 265.4L167.4 265.1Z" fill="#01a410"/>
<path d="M110.6 258.0L113.6 258.8L110.6 258.4L107.6 257.7Z" fill="#01d906"/>
<path d="M116.6 259.1L119.6 259.9L116.6 259.5L113.6 258.8Z" fill="#01d307"/>
<path d="M146.6 263.3L149.5 263.8L146.5 263.7L143.6 263.3Z" fill="#01b40b"/>
<path d="M47.0 245.3L50.1 246.1L47.1 245.5L44.0 244.7Z" fill="#01ea03"/>
<path d="M53.1 246.7L56.2 247.5L53.1 247.0L50.1 246.1Z" fill="#01ea03"/>
<path d="M65.3 249.3L68.3 250.1L65.3 249.6L62.2 248.8Z" fill="#01ea03"/>
<path d="M71.3 250.5L74.4 251.3L71.4 250.9L68.3 250.1Z" fill="#01ea03"/>
<path d="M77.4 251.7L80.4 252.5L77.4 252.1L74.4 251.3Z" fill="#01ea03"/>
<path d="M83.4 252.9L86.5 253.7L83.5 253.3L80.4 252.5Z" fill="#01ea03"/>
<path d="M89.5 254.0L92.5 254.8L89.5 254.4L86.5 253.7Z" fill="#01ea03"/>
<path d="M107.6 257.3L110.6 258.0L107.6 257.7L104.6 257.0Z" fill="#01e504"/>
<path d="M119.6 259.4L122.6 260.1L119.6 259.9L116.6 259.1Z" fill="#01d706"/>
<path d="M125.6 260.4L128.6 261.1L125.6 260.9L122.6 260.1Z" fill="#01d007"/>
<path d="M131.6 261.3L134.6 262.0L131.6 261.8L128.6 261.1Z" fill="#01ca08"/>
<path d="M155.6 263.8L158.5 264.3L155.5 264.3L152.6 263.8Z" fill="#01b60b"/>
<path d="M161.6 264.3L164.5 264.7L161.5 264.7L158.5 264.3Z" fill="#01b30b"/>
<path d="M167.5 264.7L170.5 265.2L167.4 265.1L164.5 264.7Z" fill="#01ae0c"/>
<path d="M59.2 248.0L62.2 248.8L59.2 248.3L56.2 247.5Z" fill="#01ea03"/>
<path d="M95.5 255.1L98.6 255.9L95.6 255.5L92.5 254.8Z" fill="#01ea03"/>
<path d="M101.6 256.2L104.6 257.0L101.6 256.6L98.6 255.9Z" fill="#01ea03"/>
<path d="M137.6 262.1L140.6 262.7L137.6 262.6L134.6 262.0Z" fill="#01c408"/>
<path d="M143.6 262.7L146.6 263.3L143.6 263.3L140.6 262.7Z" fill="#01bf09"/>
<path d="M149.6 263.3L152.6 263.8L149.5 263.8L146.6 263.3Z" fill="#01bb0a"/>
<path d="M113.6 258.3L116.6 259.1L113.6 258.8L110.6 258.0Z" fill="#01de05"/>
<path d="M50.0 245.8L53.1 246.7L50.1 246.1L47.0 245.3Z" fill="#01ea03"/>
<path d="M56.1 247.1L59.2 248.0L56.2 247.5L53.1 246.7Z" fill="#01ea03"/>
<path d="M62.2 248.4L65.3 249.3L62.2 248.8L59.2 248.0Z" fill="#01ea03"/>
<path d="M68.3 249.7L71.3 250.5L68.3 250.1L65.3 249.3Z" fill="#01ea03"/>
<path d="M74.3 250.9L77.4 251.7L74.4 251.3L71.3 250.5Z" fill="#01ea03"/>
<path d="M80.4 252.0L83.4 252.9L80.4 252.5L77.4 251.7Z" fill="#01ea03"/>
<path d="M86.5 253.2L89.5 254.0L86.5 253.7L83.4 252.9Z" fill="#01ea03"/>
<path d="M92.5 254.3L95.5 255.1L92.5 254.8L89.5 254.0Z" fill="#01ea03"/>
<path d="M104.6 256.4L107.6 257.3L104.6 257.0L101.6 256.2Z" fill="#01ea03"/>
<path d="M110.6 257.5L113.6 258.3L110.6 258.0L107.6 257.3Z" fill="#01e903"/>
<path d="M116.6 258.5L119.6 259.4L116.6 259.1L113.6 258.3Z" fill="#01e204"/>
<path d="M122.6 259.5L125.6 260.4L122.6 260.1L119.6 259.4Z" fill="#01db05"/>
<path d="M128.7 260.5L131.6 261.3L128.6 261.1L125.6 260.4Z" fill="#01d507"/>
<path d="M134.7 261.3L137.6 262.1L134.6 262.0L131.6 261.3Z" fill="#01ce08"/>
<path d="M152.6 263.3L155.6 263.8L152.6 263.8L149.6 263.3Z" fill="#01c009"/>
<path d="M158.6 263.8L161.6 264.3L158.5 264.3L155.6 263.8Z" fill="#01bc0a"/>
<path d="M164.6 264.3L167.5 264.7L164.5 264.7L161.6 264.3Z" fill="#01b80a"/>
<path d="M98.6 255.4L101.6 256.2L98.6 255.9L95.5 255.1Z" fill="#01ea03"/>
<path d="M140.6 262.1L143.6 262.7L140.6 262.7L137.6 262.1Z" fill="#01c908"/>
<path d="M146.6 262.7L149.6 263.3L146.6 263.3L143.6 262.7Z" fill="#01c508"/>
<path d="M53.0 246.3L56.1 247.1L53.1 246.7L50.0 245.8Z" fill="#01ea03"/>
<path d="M59.1 247.5L62.2 248.4L59.2 248.0L56.1 247.1Z" fill="#01ea03"/>
<path d="M65.2 248.8L68.3 249.7L65.3 249.3L62.2 248.4Z" fill="#01ea03"/>
<path d="M71.3 250.0L74.3 250.9L71.3 250.5L68.3 249.7Z" fill="#01ea03"/>
<path d="M77.3 251.2L80.4 252.0L77.4 251.7L74.3 250.9Z" fill="#01ea03"/>
<path d="M83.4 252.3L86.5 253.2L83.4 252.9L80.4 252.0Z" fill="#01ea03"/>
<path d="M89.5 253.4L92.5 254.3L89.5 254.0L86.5 253.2Z" fill="#01ea03"/>
<path d="M95.5 254.5L98.6 255.4L95.5 255.1L92.5 254.3Z" fill="#01ea03"/>
<path d="M101.6 255.6L104.6 256.4L101.6 256.2L98.6 255.4Z" fill="#01ea03"/>
<path d="M107.6 256.6L110.6 257.5L107.6 257.3L104.6 256.4Z" fill="#01ea03"/>
<path d="M113.6 257.7L116.6 258.5L113.6 258.3L110.6 257.5Z" fill="#01ea03"/>
<path d="M119.6 258.7L122.6 259.5L119.6 259.4L116.6 258.5Z" fill="#01e703"/>
<path d="M125.7 259.6L128.7 260.5L125.6 260.4L122.6 259.5Z" fill="#01e005"/>
<path d="M131.7 260.5L134.7 261.3L131.6 261.3L128.7 260.5Z" fill="#01da06"/>
<path d="M137.7 261.3L140.6 262.1L137.6 262.1L134.7 261.3Z" fill="#01d507"/>
<path d="M149.7 262.6L152.6 263.3L149.6 263.3L146.6 262.7Z" fill="#01cb08"/>
<path d="M155.7 263.2L158.6 263.8L155.6 263.8L152.6 263.3Z" fill="#01c608"/>
<path d="M161.6 263.7L164.6 264.3L161.6 264.3L158.6 263.8Z" fill="#01c209"/>
<path d="M143.7 262.0L146.6 262.7L143.6 262.7L140.6 262.1Z" fill="#01cf07"/>
<path d="M116.6 257.8L119.6 258.7L116.6 258.5L113.6 257.7Z" fill="#01ea03"/>
<path d="M140.7 261.3L143.7 262.0L140.6 262.1L137.7 261.3Z" fill="#01db06"/>
<path d="M152.7 262.5L155.7 263.2L152.6 263.3L149.7 262.6Z" fill="#01d107"/>
<path d="M56.0 246.7L59.1 247.5L56.1 247.1L53.0 246.3Z" fill="#01ea03"/>
<path d="M62.1 247.9L65.2 248.8L62.2 248.4L59.1 247.5Z" fill="#01ea03"/>
<path d="M68.2 249.1L71.3 250.0L68.3 249.7L65.2 248.8Z" fill="#01ea03"/>
<path d="M74.3 250.3L77.3 251.2L74.3 250.9L71.3 250.0Z" fill="#01ea03"/>
<path d="M80.4 251.4L83.4 252.3L80.4 252.0L77.3 251.2Z" fill="#01ea03"/>
<path d="M86.4 252.5L89.5 253.4L86.5 253.2L83.4 252.3Z" fill="#01ea03"/>
<path d="M92.5 253.6L95.5 254.5L92.5 254.3L89.5 253.4Z" fill="#01ea03"/>
<path d="M98.5 254.7L101.6 255.6L98.6 255.4L95.5 254.5Z" fill="#01ea03"/>
<path d="M104.6 255.8L107.6 256.6L104.6 256.4L101.6 255.6Z" fill="#01ea03"/>
<path d="M110.6 256.8L113.6 257.7L110.6 257.5L107.6 256.6Z" fill="#01ea03"/>
<path d="M122.7 258.8L125.7 259.6L122.6 259.5L119.6 258.7Z" fill="#01ea03"/>
<path d="M128.7 259.7L131.7 260.5L128.7 260.5L125.7 259.6Z" fill="#01e604"/>
<path d="M134.7 260.5L137.7 261.3L134.7 261.3L131.7 260.5Z" fill="#01e005"/>
<path d="M146.7 261.9L149.7 262.6L146.6 262.7L143.7 262.0Z" fill="#01d606"/>
<path d="M158.7 263.1L161.6 263.7L158.6 263.8L155.7 263.2Z" fill="#01cd08"/>
<path d="M143.7 261.2L146.7 261.9L143.7 262.0L140.7 261.3Z" fill="#01e104"/>
<path d="M59.0 247.0L62.1 247.9L59.1 247.5L56.0 246.7Z" fill="#0eea03"/>
<path d="M77.3 250.5L80.4 251.4L77.3 251.2L74.3 250.3Z" fill="#01ea03"/>
<path d="M95.5 253.8L98.5 254.7L95.5 254.5L92.5 253.6Z" fill="#01ea03"/>
<path d="M101.6 254.8L104.6 255.8L101.6 255.6L98.5 254.7Z" fill="#01ea03"/>
<path d="M113.6 256.9L116.6 257.8L113.6 257.7L110.6 256.8Z" fill="#01ea03"/>
<path d="M119.7 257.8L122.7 258.8L119.6 258.7L116.6 257.8Z" fill="#01ea03"/>
<path d="M137.7 260.4L140.7 261.3L137.7 261.3L134.7 260.5Z" fill="#01e604"/>
<path d="M149.7 261.8L152.7 262.5L149.7 262.6L146.7 261.9Z" fill="#01dc05"/>
<path d="M155.7 262.4L158.7 263.1L155.7 263.2L152.7 262.5Z" fill="#01d806"/>
<path d="M65.1 248.2L68.2 249.1L65.2 248.8L62.1 247.9Z" fill="#01ea03"/>
<path d="M71.2 249.4L74.3 250.3L71.3 250.0L68.2 249.1Z" fill="#01ea03"/>
<path d="M83.4 251.6L86.4 252.5L83.4 252.3L80.4 251.4Z" fill="#01ea03"/>
<path d="M89.4 252.7L92.5 253.6L89.5 253.4L86.4 252.5Z" fill="#01ea03"/>
<path d="M107.6 255.9L110.6 256.8L107.6 256.6L104.6 255.8Z" fill="#01ea03"/>
<path d="M125.7 258.8L128.7 259.7L125.7 259.6L122.7 258.8Z" fill="#01ea03"/>
<path d="M131.7 259.6L134.7 260.5L131.7 260.5L128.7 259.7Z" fill="#01ea03"/>
<path d="M104.6 254.9L107.6 255.9L104.6 255.8L101.6 254.8Z" fill="#01ea03"/>
<path d="M140.8 260.3L143.7 261.2L140.7 261.3L137.7 260.4Z" fill="#01ea03"/>
<path d="M146.8 261.0L149.7 261.8L146.7 261.9L143.7 261.2Z" fill="#01e803"/>
<path d="M62.1 247.3L65.1 248.2L62.1 247.9L59.0 247.0Z" fill="#2bea03"/>
<path d="M68.1 248.4L71.2 249.4L68.2 249.1L65.1 248.2Z" fill="#01ea03"/>
<path d="M74.2 249.5L77.3 250.5L74.3 250.3L71.2 249.4Z" fill="#01ea03"/>
<path d="M80.3 250.7L83.4 251.6L80.4 251.4L77.3 250.5Z" fill="#01ea03"/>
<path d="M86.4 251.8L89.4 252.7L86.4 252.5L83.4 251.6Z" fill="#01ea03"/>
<path d="M92.5 252.8L95.5 253.8L92.5 253.6L89.4 252.7Z" fill="#01ea03"/>
<path d="M98.5 253.9L101.6 254.8L98.5 254.7L95.5 253.8Z" fill="#01ea03"/>
<path d="M110.6 255.9L113.6 256.9L110.6 256.8L107.6 255.9Z" fill="#01ea03"/>
<path d="M116.7 256.9L119.7 257.8L116.6 257.8L113.6 256.9Z" fill="#01ea03"/>
<path d="M122.7 257.8L125.7 258.8L122.7 258.8L119.7 257.8Z" fill="#01ea03"/>
<path d="M134.7 259.6L137.7 260.4L134.7 260.5L131.7 259.6Z" fill="#01ea03"/>
<path d="M152.8 261.7L155.7 262.4L152.7 262.5L149.7 261.8Z" fill="#01e204"/>
<path d="M128.7 258.7L131.7 259.6L128.7 259.7L125.7 258.8Z" fill="#01ea03"/>
<path d="M65.1 247.5L68.1 248.4L65.1 248.2L62.1 247.3Z" fill="#4bea03"/>
<path d="M71.2 248.6L74.2 249.5L71.2 249.4L68.1 248.4Z" fill="#1fea03"/>
<path d="M95.5 252.9L98.5 253.9L95.5 253.8L92.5 252.8Z" fill="#01ea03"/>
<path d="M101.5 253.9L104.6 254.9L101.6 254.8L98.5 253.9Z" fill="#01ea03"/>
<path d="M107.6 254.9L110.6 255.9L107.6 255.9L104.6 254.9Z" fill="#01ea03"/>
<path d="M137.8 259.4L140.8 260.3L137.7 260.4L134.7 259.6Z" fill="#01ea03"/>
<path d="M143.8 260.2L146.8 261.0L143.7 261.2L140.8 260.3Z" fill="#01ea03"/>
<path d="M149.8 260.9L152.8 261.7L149.7 261.8L146.8 261.0Z" fill="#01ea03"/>
<path d="M77.3 249.7L80.3 250.7L77.3 250.5L74.2 249.5Z" fill="#01ea03"/>
<path d="M83.3 250.8L86.4 251.8L83.4 251.6L80.3 250.7Z" fill="#01ea03"/>
<path d="M89.4 251.8L92.5 252.8L89.4 252.7L86.4 251.8Z" fill="#01ea03"/>
<path d="M113.6 255.9L116.7 256.9L113.6 256.9L110.6 255.9Z" fill="#01ea03"/>
<path d="M119.7 256.9L122.7 257.8L119.7 257.8L116.7 256.9Z" fill="#01ea03"/>
<path d="M125.7 257.8L128.7 258.7L125.7 258.8L122.7 257.8Z" fill="#01ea03"/>
<path d="M131.8 258.6L134.7 259.6L131.7 259.6L128.7 258.7Z" fill="#01ea03"/>
<path d="M68.1 247.6L71.2 248.6L68.1 248.4L65.1 247.5Z" fill="#6cea03"/>
<path d="M74.2 248.7L77.3 249.7L74.2 249.5L71.2 248.6Z" fill="#42ea03"/>
<path d="M80.3 249.7L83.3 250.8L80.3 250.7L77.3 249.7Z" fill="#18ea03"/>
<path d="M86.4 250.8L89.4 251.8L86.4 251.8L83.3 250.8Z" fill="#01ea03"/>
<path d="M92.4 251.8L95.5 252.9L92.5 252.8L89.4 251.8Z" fill="#01ea03"/>
<path d="M98.5 252.9L101.5 253.9L98.5 253.9L95.5 252.9Z" fill="#01ea03"/>
<path d="M104.6 253.9L107.6 254.9L104.6 254.9L101.5 253.9Z" fill="#01ea03"/>
<path d="M110.6 254.9L113.6 255.9L110.6 255.9L107.6 254.9Z" fill="#01ea03"/>
<path d="M122.7 256.8L125.7 257.8L122.7 257.8L119.7 256.9Z" fill="#01ea03"/>
<path d="M128.8 257.6L131.8 258.6L128.7 258.7L125.7 257.8Z" fill="#01ea03"/>
<path d="M140.8 259.3L143.8 260.2L140.8 260.3L137.8 259.4Z" fill="#01ea03"/>
<path d="M146.8 260.0L149.8 260.9L146.8 261.0L143.8 260.2Z" fill="#01ea03"/>
<path d="M116.7 255.8L119.7 256.9L116.7 256.9L113.6 255.9Z" fill="#01ea03"/>
<path d="M134.8 258.5L137.8 259.4L134.7 259.6L131.8 258.6Z" fill="#01ea03"/>
<path d="M71.1 247.7L74.2 248.7L71.2 248.6L68.1 247.6Z" fill="#90ea03"/>
<path d="M77.2 248.7L80.3 249.7L77.3 249.7L74.2 248.7Z" fill="#67ea03"/>
<path d="M83.3 249.7L86.4 250.8L83.3 250.8L80.3 249.7Z" fill="#3fea03"/>
<path d="M89.4 250.8L92.4 251.8L89.4 251.8L86.4 250.8Z" fill="#16ea03"/>
<path d="M95.5 251.8L98.5 252.9L95.5 252.9L92.4 251.8Z" fill="#01ea03"/>
<path d="M101.5 252.8L104.6 253.9L101.5 253.9L98.5 252.9Z" fill="#01ea03"/>
<path d="M107.6 253.8L110.6 254.9L107.6 254.9L104.6 253.9Z" fill="#01ea03"/>
<path d="M113.7 254.8L116.7 255.8L113.6 255.9L110.6 254.9Z" fill="#01ea03"/>
<path d="M119.7 255.7L122.7 256.8L119.7 256.9L116.7 255.8Z" fill="#01ea03"/>
<path d="M125.8 256.6L128.8 257.6L125.7 257.8L122.7 256.8Z" fill="#01ea03"/>
<path d="M131.8 257.5L134.8 258.5L131.8 258.6L128.8 257.6Z" fill="#01ea03"/>
<path d="M137.8 258.3L140.8 259.3L137.8 259.4L134.8 258.5Z" fill="#01ea03"/>
<path d="M143.9 259.0L146.8 260.0L143.8 260.2L140.8 259.3Z" fill="#01ea03"/>
<path d="M116.7 254.6L119.7 255.7L116.7 255.8L113.7 254.8Z" fill="#01ea03"/>
<path d="M86.3 249.7L89.4 250.8L86.4 250.8L83.3 249.7Z" fill="#67ea03"/>
<path d="M92.4 250.7L95.5 251.8L92.4 251.8L89.4 250.8Z" fill="#3fea03"/>
<path d="M134.8 257.2L137.8 258.3L134.8 258.5L131.8 257.5Z" fill="#01ea03"/>
<path d="M74.1 247.6L77.2 248.7L74.2 248.7L71.1 247.7Z" fill="#b7ea03"/>
<path d="M80.2 248.7L83.3 249.7L80.3 249.7L77.2 248.7Z" fill="#8fea03"/>
<path d="M98.5 251.7L101.5 252.8L98.5 252.9L95.5 251.8Z" fill="#16ea03"/>
<path d="M104.6 252.7L107.6 253.8L104.6 253.9L101.5 252.8Z" fill="#01ea03"/>
<path d="M110.6 253.7L113.7 254.8L110.6 254.9L107.6 253.8Z" fill="#01ea03"/>
<path d="M122.7 255.5L125.8 256.6L122.7 256.8L119.7 255.7Z" fill="#01ea03"/>
<path d="M128.8 256.4L131.8 257.5L128.8 257.6L125.8 256.6Z" fill="#01ea03"/>
<path d="M140.9 258.0L143.9 259.0L140.8 259.3L137.8 258.3Z" fill="#01ea03"/>
<path d="M95.4 250.5L98.5 251.7L95.5 251.8L92.4 250.7Z" fill="#6aea03"/>
<path d="M113.7 253.5L116.7 254.6L113.7 254.8L110.6 253.7Z" fill="#01ea03"/>
<path d="M119.7 254.4L122.7 255.5L119.7 255.7L116.7 254.6Z" fill="#01ea03"/>
<path d="M137.9 257.0L140.9 258.0L137.8 258.3L134.8 257.2Z" fill="#01ea03"/>
<path d="M77.2 247.6L80.2 248.7L77.2 248.7L74.1 247.6Z" fill="#e0ea03"/>
<path d="M83.3 248.5L86.3 249.7L83.3 249.7L80.2 248.7Z" fill="#b9ea03"/>
<path d="M89.4 249.5L92.4 250.7L89.4 250.8L86.3 249.7Z" fill="#92ea03"/>
<path d="M101.5 251.5L104.6 252.7L101.5 252.8L98.5 251.7Z" fill="#42ea03"/>
<path d="M107.6 252.5L110.6 253.7L107.6 253.8L104.6 252.7Z" fill="#1aea03"/>
<path d="M131.8 256.2L134.8 257.2L131.8 257.5L128.8 256.4Z" fill="#01ea03"/>
<path d="M125.8 255.3L128.8 256.4L125.8 256.6L122.7 255.5Z" fill="#01ea03"/>
<path d="M80.2 247.4L83.3 248.5L80.2 248.7L77.2 247.6Z" fill="#e6d703"/>
<path d="M86.3 248.4L89.4 249.5L86.3 249.7L83.3 248.5Z" fill="#e5ea03"/>
<path d="M92.4 249.3L95.4 250.5L92.4 250.7L89.4 249.5Z" fill="#bfea03"/>
<path d="M98.5 250.3L101.5 251.5L98.5 251.7L95.4 250.5Z" fill="#98ea03"/>
<path d="M104.6 251.3L107.6 252.5L104.6 252.7L101.5 251.5Z" fill="#70ea03"/>
<path d="M110.6 252.3L113.7 253.5L110.6 253.7L107.6 252.5Z" fill="#49ea03"/>
<path d="M116.7 253.2L119.7 254.4L116.7 254.6L113.7 253.5Z" fill="#22ea03"/>
<path d="M122.8 254.1L125.8 255.3L122.7 255.5L119.7 254.4Z" fill="#01ea03"/>
<path d="M134.9 255.8L137.9 257.0L134.8 257.2L131.8 256.2Z" fill="#01ea03"/>
<path d="M128.8 255.0L131.8 256.2L128.8 256.4L125.8 255.3Z" fill="#01ea03"/>
<path d="M113.7 252.0L116.7 253.2L113.7 253.5L110.6 252.3Z" fill="#79ea03"/>
<path d="M125.8 253.8L128.8 255.0L125.8 255.3L122.8 254.1Z" fill="#2dea03"/>
<path d="M83.2 247.2L86.3 248.4L83.3 248.5L80.2 247.4Z" fill="#e6be03"/>
<path d="M89.3 248.1L92.4 249.3L89.4 249.5L86.3 248.4Z" fill="#e6d203"/>
<path d="M95.4 249.1L98.5 250.3L95.4 250.5L92.4 249.3Z" fill="#e6e503"/>
<path d="M101.5 250.0L104.6 251.3L101.5 251.5L98.5 250.3Z" fill="#c8ea03"/>
<path d="M107.6 251.0L110.6 252.3L107.6 252.5L104.6 251.3Z" fill="#a1ea03"/>
<path d="M119.8 252.9L122.8 254.1L119.7 254.4L116.7 253.2Z" fill="#53ea03"/>
<path d="M131.9 254.6L134.9 255.8L131.8 256.2L128.8 255.0Z" fill="#07ea03"/>
<path d="M104.6 249.7L107.6 251.0L104.6 251.3L101.5 250.0Z" fill="#e6e003"/>
<path d="M128.9 253.4L131.9 254.6L128.8 255.0L125.8 253.8Z" fill="#60ea03"/>
<path d="M86.2 246.9L89.3 248.1L86.3 248.4L83.2 247.2Z" fill="#e6a503"/>
<path d="M92.4 247.8L95.4 249.1L92.4 249.3L89.3 248.1Z" fill="#e6b803"/>
<path d="M98.5 248.8L101.5 250.0L98.5 250.3L95.4 249.1Z" fill="#e6cc03"/>
<path d="M110.6 250.7L113.7 252.0L110.6 252.3L107.6 251.0Z" fill="#d3ea03"/>
<path d="M116.7 251.6L119.8 252.9L116.7 253.2L113.7 252.0Z" fill="#acea03"/>
<path d="M122.8 252.5L125.8 253.8L122.8 254.1L119.8 252.9Z" fill="#86ea03"/>
<path d="M89.3 246.5L92.4 247.8L89.3 248.1L86.2 246.9Z" fill="#e68b03"/>
<path d="M95.4 247.4L98.5 248.8L95.4 249.1L92.4 247.8Z" fill="#e69e03"/>
<path d="M101.5 248.4L104.6 249.7L101.5 250.0L98.5 248.8Z" fill="#e6b103"/>
<path d="M107.6 249.3L110.6 250.7L107.6 251.0L104.6 249.7Z" fill="#e6c503"/>
<path d="M113.7 250.2L116.7 251.6L113.7 252.0L110.6 250.7Z" fill="#e6d803"/>
<path d="M125.9 252.1L128.9 253.4L125.8 253.8L122.8 252.5Z" fill="#bbea03"/>
<path d="M119.8 251.2L122.8 252.5L119.8 252.9L116.7 251.6Z" fill="#e1ea03"/>
<path d="M98.4 247.0L101.5 248.4L98.5 248.8L95.4 247.4Z" fill="#e68203"/>
<path d="M110.7 248.8L113.7 250.2L110.6 250.7L107.6 249.3Z" fill="#e6a903"/>
<path d="M92.3 246.1L95.4 247.4L92.4 247.8L89.3 246.5Z" fill="#e66f03"/>
<path d="M104.5 247.9L107.6 249.3L104.6 249.7L101.5 248.4Z" fill="#e69503"/>
<path d="M116.7 249.7L119.8 251.2L116.7 251.6L113.7 250.2Z" fill="#e6bc03"/>
<path d="M122.8 250.7L125.9 252.1L122.8 252.5L119.8 251.2Z" fill="#e6d003"/>
<path d="M95.4 245.5L98.4 247.0L95.4 247.4L92.3 246.1Z" fill="#e65203"/>
<path d="M101.5 246.4L104.5 247.9L101.5 248.4L98.4 247.0Z" fill="#e66503"/>
<path d="M107.6 247.3L110.7 248.8L107.6 249.3L104.5 247.9Z" fill="#e67803"/>
<path d="M113.7 248.3L116.7 249.7L113.7 250.2L110.7 248.8Z" fill="#e68c03"/>
<path d="M119.8 249.2L122.8 250.7L119.8 251.2L116.7 249.7Z" fill="#e69f03"/>
<path d="M98.4 244.9L101.5 246.4L98.4 247.0L95.4 245.5Z" fill="#e63503"/>
<path d="M104.5 245.8L107.6 247.3L104.5 247.9L101.5 246.4Z" fill="#e64703"/>
<path d="M110.7 246.7L113.7 248.3L110.7 248.8L107.6 247.3Z" fill="#e65a03"/>
<path d="M116.8 247.7L119.8 249.2L116.7 249.7L113.7 248.3Z" fill="#e66d03"/>
<path d="M113.7 246.1L116.8 247.7L113.7 248.3L110.7 246.7Z" fill="#e63b03"/>
<path d="M101.5 244.2L104.5 245.8L101.5 246.4L98.4 244.9Z" fill="#e61503"/>
<path d="M107.6 245.1L110.7 246.7L107.6 247.3L104.5 245.8Z" fill="#e62703"/>
<path d="M104.5 243.5L107.6 245.1L104.5 245.8L101.5 244.2Z" fill="#e60403"/>
<path d="M110.7 244.4L113.7 246.1L110.7 246.7L107.6 245.1Z" fill="#e60703"/>
<path d="M107.6 242.6L110.7 244.4L107.6 245.1L104.5 243.5Z" fill="#e60403"/>
</g>
<circle cx="31.9" cy="241.7" r="1.4" fill="#d00000" stroke="#800" stroke-width="0.4"/>
<circle cx="107.6" cy="242.6" r="1.4" fill="#d00000" stroke="#800" stroke-width="0.4"/>
<circle cx="107.6" cy="258.8" r="1.4" fill="#d00000" stroke="#800" stroke-width="0.4"/>
<circle cx="182.2" cy="266.3" r="1.4" fill="#fdd" stroke="#c55" stroke-width="0.4"/>
<path d="M35.4 491.8L30.7 392.8M46.3 463.0L43.5 389.9M58.6 459.1L56.3 387.0M70.8 455.2L69.1 384.0M83.1 451.3L82.0 381.1M95.4 447.4L94.8 378.2M107.6 464.7L107.6 375.3M179.8 491.8L184.5 392.8M162.7 461.1L165.3 388.4M144.3 455.2L146.1 384.0M126.0 449.3L126.8 379.7M34.1 466.9L107.6 443.5L181.1 466.9M33.0 442.2L107.6 420.8L182.2 442.2M31.8 417.5L107.6 398.0L183.4 417.5M30.7 392.8L107.6 375.3L184.5 392.8" fill="none" stroke="#5c5c5c" stroke-width="0.58"/>
<rect x="33.4" y="466.2" width="1.3" height="1.3" fill="#111"/>
<text x="31.0" y="465.5" font-size="5.45" text-anchor="end" fill="#262626">5</text>
<rect x="32.3" y="441.5" width="1.3" height="1.3" fill="#111"/>
<text x="29.9" y="440.8" font-size="5.45" text-anchor="end" fill="#262626">10</text>
<rect x="31.1" y="416.8" width="1.3" height="1.3" fill="#111"/>
<text x="28.7" y="416.1" font-size="5.45" text-anchor="end" fill="#262626">15</text>
<rect x="30.0" y="392.1" width="1.3" height="1.3" fill="#111"/>
<text x="27.6" y="391.4" font-size="5.45" text-anchor="end" fill="#262626">20</text>
<text transform="translate(9.5 443.9) rotate(-90)" font-size="5.5" text-anchor="middle" fill="#262626">Deformation (mm)</text>
<path d="M107.6 526.2L179.8 491.8L107.6 464.7L35.4 491.8Z" fill="#575757" stroke="#2a2a2a" stroke-width="0.5"/>
<path d="M177.2 490.8L173.2 491.4L169.2 491.9L165.8 492.3L162.8 492.6L158.9 493.0L154.7 493.4L151.5 493.7L148.4 494.0L144.1 494.4L140.4 494.6L137.7 494.8L133.3 495.1L129.7 495.3L126.7 495.5L122.2 495.7L119.3 495.8L115.4 495.9L111.6 496.0L108.5 496.1L104.1 496.1L101.5 496.2L96.8 496.2L94.3 496.2L89.6 496.1L87.1 496.1L82.4 495.9L79.8 495.9L75.4 495.7L72.2 495.5L68.6 495.4L64.4 495.1L61.8 494.9L57.5 494.6L53.7 494.3L51.0 494.0L46.9 493.6L42.7 493.1L39.6 492.8L36.6 492.4" fill="none" stroke="#00d197" stroke-width="1.05"/>
<path d="M162.3 500.1L159.2 500.4L155.0 500.9L151.1 501.2L148.4 501.4L144.3 501.8L140.2 502.1L137.5 502.3L133.5 502.5L129.5 502.7L126.9 502.9L122.4 503.1L119.0 503.2L115.7 503.4L111.3 503.5L108.7 503.6L104.3 503.7L101.2 503.7L97.3 503.8L93.7 503.8L90.3 503.8L86.3 503.8L83.2 503.7L79.0 503.6L76.0 503.6L71.9 503.5L68.6 503.3L64.8 503.2L61.2 503.0L58.7 502.9" fill="none" stroke="#00d15e" stroke-width="1.05"/>
<path d="M145.7 508.0L142.1 508.3L137.7 508.6L135.0 508.8L131.1 509.0L127.0 509.3L124.4 509.4L120.1 509.6L116.5 509.7L113.3 509.9L108.8 510.0L106.2 510.1L102.0 510.2L98.6 510.2L95.1 510.3L91.1 510.3L88.1 510.3L83.6 510.3L81.1 510.3L76.3 510.2L74.0 510.2" fill="none" stroke="#00d122" stroke-width="1.05"/>
<path d="M131.1 515.0L127.7 515.2L123.3 515.4L120.5 515.6L116.6 515.7L112.7 515.9L109.9 516.0L105.4 516.1L102.4 516.2L98.5 516.3L94.8 516.3L91.7 516.4L87.3 516.4L87.0 516.4" fill="none" stroke="#28d100" stroke-width="1.05"/>
<path d="M119.4 520.6L115.4 520.8L111.6 520.9L108.7 521.0L104.1 521.1L101.3 521.2L97.3 521.3" fill="none" stroke="#79d100" stroke-width="1.05"/>
<rect x="107.0" y="526.0" width="1.2" height="1.2" fill="#111"/>
<text x="109.7" y="531.3" font-size="5.45" fill="#262626">3</text>
<rect x="119.0" y="520.3" width="1.2" height="1.2" fill="#111"/>
<text x="121.7" y="525.6" font-size="5.45" fill="#262626">4</text>
<rect x="131.1" y="514.5" width="1.2" height="1.2" fill="#111"/>
<text x="133.8" y="519.8" font-size="5.45" fill="#262626">5</text>
<rect x="143.1" y="508.8" width="1.2" height="1.2" fill="#111"/>
<text x="145.8" y="514.1" font-size="5.45" fill="#262626">6</text>
<rect x="155.1" y="503.1" width="1.2" height="1.2" fill="#111"/>
<text x="157.8" y="508.4" font-size="5.45" fill="#262626">7</text>
<rect x="167.2" y="497.3" width="1.2" height="1.2" fill="#111"/>
<text x="169.9" y="502.6" font-size="5.45" fill="#262626">8</text>
<rect x="179.2" y="491.6" width="1.2" height="1.2" fill="#111"/>
<text x="181.9" y="496.9" font-size="5.45" fill="#262626">9</text>
<rect x="107.0" y="526.0" width="1.2" height="1.2" fill="#111"/>
<text x="104.2" y="531.5" font-size="5.45" text-anchor="end" fill="#262626">2</text>
<rect x="88.9" y="517.4" width="1.2" height="1.2" fill="#111"/>
<text x="86.1" y="522.9" font-size="5.45" text-anchor="end" fill="#262626">2.5</text>
<rect x="70.9" y="508.8" width="1.2" height="1.2" fill="#111"/>
<text x="68.1" y="514.3" font-size="5.45" text-anchor="end" fill="#262626">3</text>
<rect x="52.8" y="500.2" width="1.2" height="1.2" fill="#111"/>
<text x="50.0" y="505.7" font-size="5.45" text-anchor="end" fill="#262626">3.5</text>
<rect x="34.8" y="491.6" width="1.2" height="1.2" fill="#111"/>
<text x="32.0" y="497.1" font-size="5.45" text-anchor="end" fill="#262626">4</text>
<text x="171.0" y="523.6" font-size="5.45" text-anchor="middle" fill="#262626">B: Number of bellows</text>
<text x="43.5" y="523.6" font-size="5.45" text-anchor="middle" fill="#262626">C: Divided ratio of radians</text>
<g stroke="#031a10" stroke-opacity=".5" stroke-width=".3">
<path d="M107.6 429.6L110.6 428.4L107.6 426.9L104.6 428.2Z" fill="#01eae8"/>
<path d="M104.6 430.8L107.6 429.6L104.6 428.2L101.7 429.4Z" fill="#01eae8"/>
<path d="M110.6 431.0L113.5 429.8L110.6 428.4L107.6 429.6Z" fill="#01eae8"/>
<path d="M101.7 431.9L104.6 430.8L101.7 429.4L98.7 430.6Z" fill="#01eae8"/>
<path d="M107.6 432.2L110.6 431.0L107.6 429.6L104.6 430.8Z" fill="#01eae8"/>
<path d="M113.5 432.3L116.5 431.2L113.5 429.8L110.6 431.0Z" fill="#01eae8"/>
<path d="M104.6 433.3L107.6 432.2L104.6 430.8L101.7 431.9Z" fill="#01eae8"/>
<path d="M98.7 433.1L101.7 431.9L98.7 430.6L95.7 431.7Z" fill="#01eae8"/>
<path d="M110.6 433.5L113.5 432.3L110.6 431.0L107.6 432.2Z" fill="#01eae8"/>
<path d="M116.5 433.6L119.5 432.5L116.5 431.2L113.5 432.3Z" fill="#01eae8"/>
<path d="M95.7 434.1L98.7 433.1L95.7 431.7L92.7 432.8Z" fill="#01eae8"/>
<path d="M101.7 434.4L104.6 433.3L101.7 431.9L98.7 433.1Z" fill="#01eae8"/>
<path d="M107.6 434.6L110.6 433.5L107.6 432.2L104.6 433.3Z" fill="#01eae8"/>
<path d="M113.5 434.7L116.5 433.6L113.5 432.3L110.6 433.5Z" fill="#01eae8"/>
<path d="M119.5 434.9L122.4 433.8L119.5 432.5L116.5 433.6Z" fill="#01eae8"/>
<path d="M92.8 435.2L95.7 434.1L92.7 432.8L89.8 433.9Z" fill="#01eae8"/>
<path d="M98.7 435.4L101.7 434.4L98.7 433.1L95.7 434.1Z" fill="#01eae8"/>
<path d="M104.6 435.6L107.6 434.6L104.6 433.3L101.7 434.4Z" fill="#01eae8"/>
<path d="M110.6 435.8L113.5 434.7L110.6 433.5L107.6 434.6Z" fill="#01eae8"/>
<path d="M116.5 436.0L119.5 434.9L116.5 433.6L113.5 434.7Z" fill="#01eae8"/>
<path d="M122.4 436.1L125.4 435.0L122.4 433.8L119.5 434.9Z" fill="#01eae8"/>
<path d="M89.8 436.2L92.8 435.2L89.8 433.9L86.8 434.9Z" fill="#01eae8"/>
<path d="M95.7 436.4L98.7 435.4L95.7 434.1L92.8 435.2Z" fill="#01eae8"/>
<path d="M101.7 436.7L104.6 435.6L101.7 434.4L98.7 435.4Z" fill="#01eae8"/>
<path d="M107.6 436.8L110.6 435.8L107.6 434.6L104.6 435.6Z" fill="#01eae8"/>
<path d="M113.5 437.0L116.5 436.0L113.5 434.7L110.6 435.8Z" fill="#01eae8"/>
<path d="M119.5 437.1L122.4 436.1L119.5 434.9L116.5 436.0Z" fill="#01eae8"/>
<path d="M125.4 437.2L128.4 436.1L125.4 435.0L122.4 436.1Z" fill="#01eae8"/>
<path d="M116.5 438.1L119.5 437.1L116.5 436.0L113.5 437.0Z" fill="#01eae8"/>
<path d="M128.4 438.3L131.3 437.2L128.4 436.1L125.4 437.2Z" fill="#01e6e8"/>
<path d="M86.8 437.1L89.8 436.2L86.8 434.9L83.8 435.9Z" fill="#01eae8"/>
<path d="M92.8 437.4L95.7 436.4L92.8 435.2L89.8 436.2Z" fill="#01eae8"/>
<path d="M98.7 437.6L101.7 436.7L98.7 435.4L95.7 436.4Z" fill="#01eae8"/>
<path d="M104.6 437.8L107.6 436.8L104.6 435.6L101.7 436.7Z" fill="#01eae8"/>
<path d="M110.6 438.0L113.5 437.0L110.6 435.8L107.6 436.8Z" fill="#01eae8"/>
<path d="M122.4 438.2L125.4 437.2L122.4 436.1L119.5 437.1Z" fill="#01e9e8"/>
<path d="M83.8 438.0L86.8 437.1L83.8 435.9L80.9 436.8Z" fill="#01eae8"/>
<path d="M107.6 439.0L110.6 438.0L107.6 436.8L104.6 437.8Z" fill="#01eae8"/>
<path d="M113.5 439.1L116.5 438.1L113.5 437.0L110.6 438.0Z" fill="#01eae8"/>
<path d="M119.5 439.2L122.4 438.2L119.5 437.1L116.5 438.1Z" fill="#01e8e8"/>
<path d="M125.4 439.3L128.4 438.3L125.4 437.2L122.4 438.2Z" fill="#01e6e8"/>
<path d="M131.3 439.3L134.3 438.3L131.3 437.2L128.4 438.3Z" fill="#01e3e8"/>
<path d="M89.8 438.3L92.8 437.4L89.8 436.2L86.8 437.1Z" fill="#01eae8"/>
<path d="M95.7 438.6L98.7 437.6L95.7 436.4L92.8 437.4Z" fill="#01eae8"/>
<path d="M101.7 438.8L104.6 437.8L101.7 436.7L98.7 437.6Z" fill="#01eae8"/>
<path d="M80.9 438.9L83.8 438.0L80.9 436.8L77.9 437.7Z" fill="#01eae8"/>
<path d="M86.8 439.2L89.8 438.3L86.8 437.1L83.8 438.0Z" fill="#01eae8"/>
<path d="M104.6 439.9L107.6 439.0L104.6 437.8L101.7 438.8Z" fill="#01eae8"/>
<path d="M110.6 440.0L113.5 439.1L110.6 438.0L107.6 439.0Z" fill="#01eae8"/>
<path d="M116.5 440.1L119.5 439.2L116.5 438.1L113.5 439.1Z" fill="#01e8e8"/>
<path d="M122.4 440.2L125.4 439.3L122.4 438.2L119.5 439.2Z" fill="#01e6e8"/>
<path d="M128.4 440.2L131.3 439.3L128.4 438.3L125.4 439.3Z" fill="#01e3e8"/>
<path d="M134.3 440.2L137.3 439.3L134.3 438.3L131.3 439.3Z" fill="#01e2e8"/>
<path d="M92.8 439.5L95.7 438.6L92.8 437.4L89.8 438.3Z" fill="#01eae8"/>
<path d="M98.7 439.7L101.7 438.8L98.7 437.6L95.7 438.6Z" fill="#01eae8"/>
<path d="M77.9 439.8L80.9 438.9L77.9 437.7L74.9 438.6Z" fill="#01eae8"/>
<path d="M83.9 440.1L86.8 439.2L83.8 438.0L80.9 438.9Z" fill="#01eae8"/>
<path d="M89.8 440.3L92.8 439.5L89.8 438.3L86.8 439.2Z" fill="#01eae8"/>
<path d="M101.7 440.7L104.6 439.9L101.7 438.8L98.7 439.7Z" fill="#01eae8"/>
<path d="M107.6 440.9L110.6 440.0L107.6 439.0L104.6 439.9Z" fill="#01eae8"/>
<path d="M113.5 441.0L116.5 440.1L113.5 439.1L110.6 440.0Z" fill="#01e9e8"/>
<path d="M119.5 441.1L122.4 440.2L119.5 439.2L116.5 440.1Z" fill="#01e6e8"/>
<path d="M125.4 441.2L128.4 440.2L125.4 439.3L122.4 440.2Z" fill="#01e4e8"/>
<path d="M131.3 441.2L134.3 440.2L131.3 439.3L128.4 440.2Z" fill="#01e2e8"/>
<path d="M137.3 441.1L140.2 440.2L137.3 439.3L134.3 440.2Z" fill="#01e1e8"/>
<path d="M95.7 440.6L98.7 439.7L95.7 438.6L92.8 439.5Z" fill="#01eae8"/>
<path d="M74.9 440.5L77.9 439.8L74.9 438.6L72.0 439.4Z" fill="#01eae8"/>
<path d="M80.9 440.9L83.9 440.1L80.9 438.9L77.9 439.8Z" fill="#01eae8"/>
<path d="M86.8 441.1L89.8 440.3L86.8 439.2L83.9 440.1Z" fill="#01eae8"/>
<path d="M92.8 441.4L95.7 440.6L92.8 439.5L89.8 440.3Z" fill="#01eae8"/>
<path d="M98.7 441.6L101.7 440.7L98.7 439.7L95.7 440.6Z" fill="#01eae8"/>
<path d="M104.6 441.7L107.6 440.9L104.6 439.9L101.7 440.7Z" fill="#01eae8"/>
<path d="M110.6 441.9L113.5 441.0L110.6 440.0L107.6 440.9Z" fill="#01eae8"/>
<path d="M116.5 442.0L119.5 441.1L116.5 440.1L113.5 441.0Z" fill="#01e8e8"/>
<path d="M122.4 442.0L125.4 441.2L122.4 440.2L119.5 441.1Z" fill="#01e6e8"/>
<path d="M128.4 442.0L131.3 441.2L128.4 440.2L125.4 441.2Z" fill="#01e4e8"/>
<path d="M134.3 442.0L137.3 441.1L134.3 440.2L131.3 441.2Z" fill="#01e2e8"/>
<path d="M140.2 442.0L143.2 441.1L140.2 440.2L137.3 441.1Z" fill="#01e1e8"/>
<path d="M119.5 442.9L122.4 442.0L119.5 441.1L116.5 442.0Z" fill="#01e8e8"/>
<path d="M131.3 442.9L134.3 442.0L131.3 441.2L128.4 442.0Z" fill="#01e5e8"/>
<path d="M72.0 441.3L74.9 440.5L72.0 439.4L69.0 440.2Z" fill="#01eae8"/>
<path d="M77.9 441.6L80.9 440.9L77.9 439.8L74.9 440.5Z" fill="#01eae8"/>
<path d="M83.9 441.9L86.8 441.1L83.9 440.1L80.9 440.9Z" fill="#01eae8"/>
<path d="M89.8 442.2L92.8 441.4L89.8 440.3L86.8 441.1Z" fill="#01eae8"/>
<path d="M95.7 442.4L98.7 441.6L95.7 440.6L92.8 441.4Z" fill="#01eae8"/>
<path d="M101.7 442.5L104.6 441.7L101.7 440.7L98.7 441.6Z" fill="#01eae8"/>
<path d="M107.6 442.7L110.6 441.9L107.6 440.9L104.6 441.7Z" fill="#01eae8"/>
<path d="M113.5 442.8L116.5 442.0L113.5 441.0L110.6 441.9Z" fill="#01eae8"/>
<path d="M125.4 442.9L128.4 442.0L125.4 441.2L122.4 442.0Z" fill="#01e6e8"/>
<path d="M137.3 442.8L140.2 442.0L137.3 441.1L134.3 442.0Z" fill="#01e3e8"/>
<path d="M143.2 442.8L146.2 441.9L143.2 441.1L140.2 442.0Z" fill="#01e2e8"/>
<path d="M116.5 443.6L119.5 442.9L116.5 442.0L113.5 442.8Z" fill="#01eae8"/>
<path d="M122.4 443.7L125.4 442.9L122.4 442.0L119.5 442.9Z" fill="#01e9e8"/>
<path d="M128.4 443.7L131.3 442.9L128.4 442.0L125.4 442.9Z" fill="#01e8e8"/>
<path d="M134.3 443.7L137.3 442.8L134.3 442.0L131.3 442.9Z" fill="#01e6e8"/>
<path d="M69.0 442.0L72.0 441.3L69.0 440.2L66.0 440.9Z" fill="#01eae8"/>
<path d="M74.9 442.3L77.9 441.6L74.9 440.5L72.0 441.3Z" fill="#01eae8"/>
<path d="M80.9 442.6L83.9 441.9L80.9 440.9L77.9 441.6Z" fill="#01eae8"/>
<path d="M86.8 442.9L89.8 442.2L86.8 441.1L83.9 441.9Z" fill="#01eae8"/>
<path d="M92.8 443.1L95.7 442.4L92.8 441.4L89.8 442.2Z" fill="#01eae8"/>
<path d="M98.7 443.3L101.7 442.5L98.7 441.6L95.7 442.4Z" fill="#01eae8"/>
<path d="M104.6 443.5L107.6 442.7L104.6 441.7L101.7 442.5Z" fill="#01eae8"/>
<path d="M110.6 443.6L113.5 442.8L110.6 441.9L107.6 442.7Z" fill="#01eae8"/>
<path d="M140.2 443.6L143.2 442.8L140.2 442.0L137.3 442.8Z" fill="#01e5e8"/>
<path d="M146.2 443.5L149.1 442.6L146.2 441.9L143.2 442.8Z" fill="#01e4e8"/>
<path d="M89.8 443.8L92.8 443.1L89.8 442.2L86.8 442.9Z" fill="#01eae8"/>
<path d="M113.5 444.4L116.5 443.6L113.5 442.8L110.6 443.6Z" fill="#01eae8"/>
<path d="M119.5 444.4L122.4 443.7L119.5 442.9L116.5 443.6Z" fill="#01eae8"/>
<path d="M125.4 444.5L128.4 443.7L125.4 442.9L122.4 443.7Z" fill="#01eae8"/>
<path d="M131.3 444.4L134.3 443.7L131.3 442.9L128.4 443.7Z" fill="#01eae8"/>
<path d="M137.3 444.4L140.2 443.6L137.3 442.8L134.3 443.7Z" fill="#01e9e8"/>
<path d="M66.0 442.7L69.0 442.0L66.0 440.9L63.0 441.6Z" fill="#01eae8"/>
<path d="M72.0 443.0L74.9 442.3L72.0 441.3L69.0 442.0Z" fill="#01eae8"/>
<path d="M77.9 443.3L80.9 442.6L77.9 441.6L74.9 442.3Z" fill="#01eae8"/>
<path d="M83.8 443.6L86.8 442.9L83.9 441.9L80.9 442.6Z" fill="#01eae8"/>
<path d="M95.7 444.0L98.7 443.3L95.7 442.4L92.8 443.1Z" fill="#01eae8"/>
<path d="M101.7 444.2L104.6 443.5L101.7 442.5L98.7 443.3Z" fill="#01eae8"/>
<path d="M107.6 444.3L110.6 443.6L107.6 442.7L104.6 443.5Z" fill="#01eae8"/>
<path d="M143.2 444.3L146.2 443.5L143.2 442.8L140.2 443.6Z" fill="#01e8e8"/>
<path d="M149.1 444.2L152.1 443.3L149.1 442.6L146.2 443.5Z" fill="#01e8e8"/>
<path d="M69.0 443.6L72.0 443.0L69.0 442.0L66.0 442.7Z" fill="#01eae8"/>
<path d="M86.8 444.5L89.8 443.8L86.8 442.9L83.8 443.6Z" fill="#01eae8"/>
<path d="M92.8 444.7L95.7 444.0L92.8 443.1L89.8 443.8Z" fill="#01eae8"/>
<path d="M110.6 445.1L113.5 444.4L110.6 443.6L107.6 444.3Z" fill="#01eae8"/>
<path d="M116.5 445.2L119.5 444.4L116.5 443.6L113.5 444.4Z" fill="#01eae8"/>
<path d="M122.4 445.2L125.4 444.5L122.4 443.7L119.5 444.4Z" fill="#01eae8"/>
<path d="M128.4 445.2L131.3 444.4L128.4 443.7L125.4 444.5Z" fill="#01eae8"/>
<path d="M134.3 445.1L137.3 444.4L134.3 443.7L131.3 444.4Z" fill="#01eae8"/>
<path d="M140.2 445.0L143.2 444.3L140.2 443.6L137.3 444.4Z" fill="#01eae8"/>
<path d="M63.0 443.3L66.0 442.7L63.0 441.6L60.1 442.3Z" fill="#01eae8"/>
<path d="M74.9 444.0L77.9 443.3L74.9 442.3L72.0 443.0Z" fill="#01eae8"/>
<path d="M80.9 444.2L83.8 443.6L80.9 442.6L77.9 443.3Z" fill="#01eae8"/>
<path d="M98.7 444.9L101.7 444.2L98.7 443.3L95.7 444.0Z" fill="#01eae8"/>
<path d="M104.6 445.0L107.6 444.3L104.6 443.5L101.7 444.2Z" fill="#01eae8"/>
<path d="M146.2 444.9L149.1 444.2L146.2 443.5L143.2 444.3Z" fill="#01eae8"/>
<path d="M152.1 444.8L155.1 444.0L152.1 443.3L149.1 444.2Z" fill="#01eae8"/>
<path d="M66.0 444.2L69.0 443.6L66.0 442.7L63.0 443.3Z" fill="#01eae8"/>
<path d="M72.0 444.5L74.9 444.0L72.0 443.0L69.0 443.6Z" fill="#01eae8"/>
<path d="M83.8 445.1L86.8 444.5L83.8 443.6L80.9 444.2Z" fill="#01eae8"/>
<path d="M89.8 445.3L92.8 444.7L89.8 443.8L86.8 444.5Z" fill="#01eae8"/>
<path d="M95.7 445.5L98.7 444.9L95.7 444.0L92.8 444.7Z" fill="#01eae8"/>
<path d="M107.6 445.7L110.6 445.1L107.6 444.3L104.6 445.0Z" fill="#01eae8"/>
<path d="M113.5 445.8L116.5 445.2L113.5 444.4L110.6 445.1Z" fill="#01eae8"/>
<path d="M119.5 445.9L122.4 445.2L119.5 444.4L116.5 445.2Z" fill="#01eae8"/>
<path d="M125.4 445.9L128.4 445.2L125.4 444.5L122.4 445.2Z" fill="#01eae8"/>
<path d="M131.4 445.8L134.3 445.1L131.3 444.4L128.4 445.2Z" fill="#01eae8"/>
<path d="M137.3 445.7L140.2 445.0L137.3 444.4L134.3 445.1Z" fill="#01eae8"/>
<path d="M143.2 445.6L146.2 444.9L143.2 444.3L140.2 445.0Z" fill="#01eae8"/>
<path d="M60.1 443.9L63.0 443.3L60.1 442.3L57.1 442.9Z" fill="#01eae8"/>
<path d="M77.9 444.8L80.9 444.2L77.9 443.3L74.9 444.0Z" fill="#01eae8"/>
<path d="M101.7 445.6L104.6 445.0L101.7 444.2L98.7 444.9Z" fill="#01eae8"/>
<path d="M149.2 445.5L152.1 444.8L149.1 444.2L146.2 444.9Z" fill="#01eae8"/>
<path d="M155.1 445.3L158.1 444.6L155.1 444.0L152.1 444.8Z" fill="#01eae8"/>
<path d="M98.7 446.2L101.7 445.6L98.7 444.9L95.7 445.5Z" fill="#01eae8"/>
<path d="M57.1 444.4L60.1 443.9L57.1 442.9L54.1 443.5Z" fill="#01eae8"/>
<path d="M63.0 444.8L66.0 444.2L63.0 443.3L60.1 443.9Z" fill="#01eae8"/>
<path d="M69.0 445.1L72.0 444.5L69.0 443.6L66.0 444.2Z" fill="#01eae8"/>
<path d="M74.9 445.4L77.9 444.8L74.9 444.0L72.0 444.5Z" fill="#01eae8"/>
<path d="M80.9 445.7L83.8 445.1L80.9 444.2L77.9 444.8Z" fill="#01eae8"/>
<path d="M86.8 445.9L89.8 445.3L86.8 444.5L83.8 445.1Z" fill="#01eae8"/>
<path d="M92.7 446.1L95.7 445.5L92.8 444.7L89.8 445.3Z" fill="#01eae8"/>
<path d="M104.6 446.4L107.6 445.7L104.6 445.0L101.7 445.6Z" fill="#01eae8"/>
<path d="M110.6 446.4L113.5 445.8L110.6 445.1L107.6 445.7Z" fill="#01eae8"/>
<path d="M116.5 446.5L119.5 445.9L116.5 445.2L113.5 445.8Z" fill="#01eae8"/>
<path d="M122.4 446.5L125.4 445.9L122.4 445.2L119.5 445.9Z" fill="#01eae8"/>
<path d="M128.4 446.5L131.4 445.8L128.4 445.2L125.4 445.9Z" fill="#01eae8"/>
<path d="M134.3 446.4L137.3 445.7L134.3 445.1L131.4 445.8Z" fill="#01eae8"/>
<path d="M140.3 446.3L143.2 445.6L140.2 445.0L137.3 445.7Z" fill="#01eae8"/>
<path d="M146.2 446.2L149.2 445.5L146.2 444.9L143.2 445.6Z" fill="#01eae8"/>
<path d="M158.1 445.8L161.0 445.1L158.1 444.6L155.1 445.3Z" fill="#01eae8"/>
<path d="M152.1 446.0L155.1 445.3L152.1 444.8L149.2 445.5Z" fill="#01eae8"/>
<path d="M95.7 446.8L98.7 446.2L95.7 445.5L92.7 446.1Z" fill="#01eae8"/>
<path d="M101.7 446.9L104.6 446.4L101.7 445.6L98.7 446.2Z" fill="#01eae8"/>
<path d="M161.1 446.2L164.0 445.5L161.0 445.1L158.1 445.8Z" fill="#01eae8"/>
<path d="M54.1 444.9L57.1 444.4L54.1 443.5L51.1 444.0Z" fill="#01eae8"/>
<path d="M60.0 445.3L63.0 444.8L60.1 443.9L57.1 444.4Z" fill="#01eae8"/>
<path d="M66.0 445.6L69.0 445.1L66.0 444.2L63.0 444.8Z" fill="#01eae8"/>
<path d="M71.9 445.9L74.9 445.4L72.0 444.5L69.0 445.1Z" fill="#01eae8"/>
<path d="M77.9 446.2L80.9 445.7L77.9 444.8L74.9 445.4Z" fill="#01eae8"/>
<path d="M83.8 446.4L86.8 445.9L83.8 445.1L80.9 445.7Z" fill="#01eae8"/>
<path d="M89.8 446.6L92.7 446.1L89.8 445.3L86.8 445.9Z" fill="#01eae8"/>
<path d="M107.6 447.0L110.6 446.4L107.6 445.7L104.6 446.4Z" fill="#01eae8"/>
<path d="M113.5 447.1L116.5 446.5L113.5 445.8L110.6 446.4Z" fill="#01eae8"/>
<path d="M119.5 447.1L122.4 446.5L119.5 445.9L116.5 446.5Z" fill="#01eae8"/>
<path d="M125.4 447.1L128.4 446.5L125.4 445.9L122.4 446.5Z" fill="#01eae8"/>
<path d="M131.4 447.0L134.3 446.4L131.4 445.8L128.4 446.5Z" fill="#01eae8"/>
<path d="M137.3 446.9L140.3 446.3L137.3 445.7L134.3 446.4Z" fill="#01eae8"/>
<path d="M143.2 446.8L146.2 446.2L143.2 445.6L140.3 446.3Z" fill="#01eae8"/>
<path d="M149.2 446.6L152.1 446.0L149.2 445.5L146.2 446.2Z" fill="#01eae8"/>
<path d="M155.1 446.4L158.1 445.8L155.1 445.3L152.1 446.0Z" fill="#01eae8"/>
<path d="M80.9 446.9L83.8 446.4L80.9 445.7L77.9 446.2Z" fill="#01eae8"/>
<path d="M92.7 447.3L95.7 446.8L92.7 446.1L89.8 446.6Z" fill="#01eae8"/>
<path d="M98.7 447.4L101.7 446.9L98.7 446.2L95.7 446.8Z" fill="#01eae8"/>
<path d="M104.6 447.5L107.6 447.0L104.6 446.4L101.7 446.9Z" fill="#01eae8"/>
<path d="M116.5 447.6L119.5 447.1L116.5 446.5L113.5 447.1Z" fill="#01eae8"/>
<path d="M158.1 446.8L161.1 446.2L158.1 445.8L155.1 446.4Z" fill="#01eae8"/>
<path d="M164.1 446.6L167.0 445.9L164.0 445.5L161.1 446.2Z" fill="#01eae8"/>
<path d="M51.1 445.3L54.1 444.9L51.1 444.0L48.1 444.5Z" fill="#01eae8"/>
<path d="M57.1 445.7L60.0 445.3L57.1 444.4L54.1 444.9Z" fill="#01eae8"/>
<path d="M63.0 446.1L66.0 445.6L63.0 444.8L60.0 445.3Z" fill="#01eae8"/>
<path d="M69.0 446.4L71.9 445.9L69.0 445.1L66.0 445.6Z" fill="#01eae8"/>
<path d="M74.9 446.7L77.9 446.2L74.9 445.4L71.9 445.9Z" fill="#01eae8"/>
<path d="M86.8 447.1L89.8 446.6L86.8 445.9L83.8 446.4Z" fill="#01eae8"/>
<path d="M110.6 447.6L113.5 447.1L110.6 446.4L107.6 447.0Z" fill="#01eae8"/>
<path d="M122.5 447.6L125.4 447.1L122.4 446.5L119.5 447.1Z" fill="#01eae8"/>
<path d="M128.4 447.6L131.4 447.0L128.4 446.5L125.4 447.1Z" fill="#01eae8"/>
<path d="M134.3 447.5L137.3 446.9L134.3 446.4L131.4 447.0Z" fill="#01eae8"/>
<path d="M140.3 447.4L143.2 446.8L140.3 446.3L137.3 446.9Z" fill="#01eae8"/>
<path d="M146.2 447.2L149.2 446.6L146.2 446.2L143.2 446.8Z" fill="#01eae8"/>
<path d="M152.2 447.0L155.1 446.4L152.1 446.0L149.2 446.6Z" fill="#01eae8"/>
<path d="M54.1 446.1L57.1 445.7L54.1 444.9L51.1 445.3Z" fill="#01eae8"/>
<path d="M77.9 447.4L80.9 446.9L77.9 446.2L74.9 446.7Z" fill="#01eae8"/>
<path d="M83.8 447.6L86.8 447.1L83.8 446.4L80.9 446.9Z" fill="#01eae8"/>
<path d="M89.8 447.8L92.7 447.3L89.8 446.6L86.8 447.1Z" fill="#01eae8"/>
<path d="M95.7 447.9L98.7 447.4L95.7 446.8L92.7 447.3Z" fill="#01eae8"/>
<path d="M101.7 448.0L104.6 447.5L101.7 446.9L98.7 447.4Z" fill="#01eae8"/>
<path d="M107.6 448.1L110.6 447.6L107.6 447.0L104.6 447.5Z" fill="#01eae8"/>
<path d="M113.5 448.1L116.5 447.6L113.5 447.1L110.6 447.6Z" fill="#01eae8"/>
<path d="M119.5 448.1L122.5 447.6L119.5 447.1L116.5 447.6Z" fill="#01eae8"/>
<path d="M143.3 447.8L146.2 447.2L143.2 446.8L140.3 447.4Z" fill="#01eae8"/>
<path d="M155.2 447.4L158.1 446.8L155.1 446.4L152.2 447.0Z" fill="#01eae8"/>
<path d="M161.1 447.1L164.1 446.6L161.1 446.2L158.1 446.8Z" fill="#01eae8"/>
<path d="M167.0 446.8L170.0 446.3L167.0 445.9L164.1 446.6Z" fill="#01eae8"/>
<path d="M48.1 445.7L51.1 445.3L48.1 444.5L45.1 444.9Z" fill="#01eae8"/>
<path d="M60.0 446.5L63.0 446.1L60.0 445.3L57.1 445.7Z" fill="#01eae8"/>
<path d="M66.0 446.8L69.0 446.4L66.0 445.6L63.0 446.1Z" fill="#01eae8"/>
<path d="M71.9 447.1L74.9 446.7L71.9 445.9L69.0 446.4Z" fill="#01eae8"/>
<path d="M125.4 448.1L128.4 447.6L125.4 447.1L122.5 447.6Z" fill="#01eae8"/>
<path d="M131.4 448.0L134.3 447.5L131.4 447.0L128.4 447.6Z" fill="#01eae8"/>
<path d="M137.3 447.9L140.3 447.4L137.3 446.9L134.3 447.5Z" fill="#01eae8"/>
<path d="M149.2 447.6L152.2 447.0L149.2 446.6L146.2 447.2Z" fill="#01eae8"/>
<path d="M45.1 446.1L48.1 445.7L45.1 444.9L42.2 445.3Z" fill="#01eae8"/>
<path d="M51.1 446.5L54.1 446.1L51.1 445.3L48.1 445.7Z" fill="#01eae8"/>
<path d="M57.0 446.8L60.0 446.5L57.1 445.7L54.1 446.1Z" fill="#01eae8"/>
<path d="M68.9 447.5L71.9 447.1L69.0 446.4L66.0 446.8Z" fill="#01eae8"/>
<path d="M74.9 447.8L77.9 447.4L74.9 446.7L71.9 447.1Z" fill="#01eae8"/>
<path d="M80.8 448.0L83.8 447.6L80.9 446.9L77.9 447.4Z" fill="#01eae8"/>
<path d="M86.8 448.2L89.8 447.8L86.8 447.1L83.8 447.6Z" fill="#01eae8"/>
<path d="M92.7 448.3L95.7 447.9L92.7 447.3L89.8 447.8Z" fill="#01eae8"/>
<path d="M98.7 448.5L101.7 448.0L98.7 447.4L95.7 447.9Z" fill="#01eae8"/>
<path d="M104.6 448.5L107.6 448.1L104.6 447.5L101.7 448.0Z" fill="#01eae8"/>
<path d="M110.6 448.6L113.5 448.1L110.6 447.6L107.6 448.1Z" fill="#01eae8"/>
<path d="M116.5 448.6L119.5 448.1L116.5 447.6L113.5 448.1Z" fill="#01eae8"/>
<path d="M122.5 448.6L125.4 448.1L122.5 447.6L119.5 448.1Z" fill="#01eae8"/>
<path d="M140.3 448.3L143.3 447.8L140.3 447.4L137.3 447.9Z" fill="#01eae8"/>
<path d="M146.3 448.1L149.2 447.6L146.2 447.2L143.3 447.8Z" fill="#01eae8"/>
<path d="M152.2 447.9L155.2 447.4L152.2 447.0L149.2 447.6Z" fill="#01eae8"/>
<path d="M158.1 447.7L161.1 447.1L158.1 446.8L155.2 447.4Z" fill="#01eae8"/>
<path d="M164.1 447.4L167.0 446.8L164.1 446.6L161.1 447.1Z" fill="#01eae8"/>
<path d="M170.0 447.1L173.0 446.5L170.0 446.3L167.0 446.8Z" fill="#01eae8"/>
<path d="M63.0 447.2L66.0 446.8L63.0 446.1L60.0 446.5Z" fill="#01eae8"/>
<path d="M128.4 448.5L131.4 448.0L128.4 447.6L125.4 448.1Z" fill="#01eae8"/>
<path d="M134.4 448.4L137.3 447.9L134.3 447.5L131.4 448.0Z" fill="#01eae8"/>
<path d="M42.1 446.4L45.1 446.1L42.2 445.3L39.2 445.6Z" fill="#01eae3"/>
<path d="M48.1 446.8L51.1 446.5L48.1 445.7L45.1 446.1Z" fill="#01eae8"/>
<path d="M54.0 447.2L57.0 446.8L54.1 446.1L51.1 446.5Z" fill="#01eae8"/>
<path d="M60.0 447.5L63.0 447.2L60.0 446.5L57.0 446.8Z" fill="#01eae8"/>
<path d="M65.9 447.8L68.9 447.5L66.0 446.8L63.0 447.2Z" fill="#01eae8"/>
<path d="M71.9 448.1L74.9 447.8L71.9 447.1L68.9 447.5Z" fill="#01eae8"/>
<path d="M77.8 448.3L80.8 448.0L77.9 447.4L74.9 447.8Z" fill="#01eae8"/>
<path d="M83.8 448.5L86.8 448.2L83.8 447.6L80.8 448.0Z" fill="#01eae8"/>
<path d="M89.8 448.7L92.7 448.3L89.8 447.8L86.8 448.2Z" fill="#01eae8"/>
<path d="M95.7 448.8L98.7 448.5L95.7 447.9L92.7 448.3Z" fill="#01eae8"/>
<path d="M101.7 448.9L104.6 448.5L101.7 448.0L98.7 448.5Z" fill="#01eae8"/>
<path d="M107.6 449.0L110.6 448.6L107.6 448.1L104.6 448.5Z" fill="#01eae8"/>
<path d="M113.5 449.0L116.5 448.6L113.5 448.1L110.6 448.6Z" fill="#01eae8"/>
<path d="M119.5 449.0L122.5 448.6L119.5 448.1L116.5 448.6Z" fill="#01eae8"/>
<path d="M125.4 448.9L128.4 448.5L125.4 448.1L122.5 448.6Z" fill="#01eae8"/>
<path d="M137.3 448.7L140.3 448.3L137.3 447.9L134.4 448.4Z" fill="#01eae8"/>
<path d="M143.3 448.6L146.3 448.1L143.3 447.8L140.3 448.3Z" fill="#01eae8"/>
<path d="M149.2 448.4L152.2 447.9L149.2 447.6L146.3 448.1Z" fill="#01eae8"/>
<path d="M155.2 448.1L158.1 447.7L155.2 447.4L152.2 447.9Z" fill="#01eae8"/>
<path d="M161.1 447.9L164.1 447.4L161.1 447.1L158.1 447.7Z" fill="#01eae8"/>
<path d="M167.1 447.6L170.0 447.1L167.0 446.8L164.1 447.4Z" fill="#01eae8"/>
<path d="M173.0 447.2L176.0 446.7L173.0 446.5L170.0 447.1Z" fill="#01eae8"/>
<path d="M131.4 448.9L134.4 448.4L131.4 448.0L128.4 448.5Z" fill="#01eae8"/>
<path d="M39.1 446.6L42.1 446.4L39.2 445.6L36.2 445.9Z" fill="#01ead1"/>
<path d="M45.1 447.1L48.1 446.8L45.1 446.1L42.1 446.4Z" fill="#01ead6"/>
<path d="M51.0 447.4L54.0 447.2L51.1 446.5L48.1 446.8Z" fill="#01eadc"/>
<path d="M57.0 447.8L60.0 447.5L57.0 446.8L54.0 447.2Z" fill="#01eae0"/>
<path d="M63.0 448.1L65.9 447.8L63.0 447.2L60.0 447.5Z" fill="#01eae5"/>
<path d="M68.9 448.4L71.9 448.1L68.9 447.5L65.9 447.8Z" fill="#01eae8"/>
<path d="M74.9 448.6L77.8 448.3L74.9 447.8L71.9 448.1Z" fill="#01eae8"/>
<path d="M80.8 448.9L83.8 448.5L80.8 448.0L77.8 448.3Z" fill="#01eae8"/>
<path d="M86.8 449.0L89.8 448.7L86.8 448.2L83.8 448.5Z" fill="#01eae8"/>
<path d="M92.7 449.2L95.7 448.8L92.7 448.3L89.8 448.7Z" fill="#01eae8"/>
<path d="M98.7 449.3L101.7 448.9L98.7 448.5L95.7 448.8Z" fill="#01eae8"/>
<path d="M104.6 449.3L107.6 449.0L104.6 448.5L101.7 448.9Z" fill="#01eae8"/>
<path d="M110.6 449.4L113.5 449.0L110.6 448.6L107.6 449.0Z" fill="#01eae8"/>
<path d="M116.5 449.4L119.5 449.0L116.5 448.6L113.5 449.0Z" fill="#01eae8"/>
<path d="M122.5 449.3L125.4 448.9L122.5 448.6L119.5 449.0Z" fill="#01eae8"/>
<path d="M128.4 449.3L131.4 448.9L128.4 448.5L125.4 448.9Z" fill="#01eae8"/>
<path d="M134.4 449.1L137.3 448.7L134.4 448.4L131.4 448.9Z" fill="#01eae8"/>
<path d="M140.3 449.0L143.3 448.6L140.3 448.3L137.3 448.7Z" fill="#01eae8"/>
<path d="M146.3 448.8L149.2 448.4L146.3 448.1L143.3 448.6Z" fill="#01eae8"/>
<path d="M152.2 448.6L155.2 448.1L152.2 447.9L149.2 448.4Z" fill="#01eae8"/>
<path d="M158.2 448.3L161.1 447.9L158.1 447.7L155.2 448.1Z" fill="#01eae8"/>
<path d="M164.1 448.0L167.1 447.6L164.1 447.4L161.1 447.9Z" fill="#01eae8"/>
<path d="M170.1 447.7L173.0 447.2L170.0 447.1L167.1 447.6Z" fill="#01eae8"/>
<path d="M176.1 447.3L179.0 446.9L176.0 446.7L173.0 447.2Z" fill="#01eae8"/>
<path d="M36.1 446.8L39.1 446.6L36.2 445.9L33.1 446.2Z" fill="#01eabe"/>
<path d="M42.1 447.3L45.1 447.1L42.1 446.4L39.1 446.6Z" fill="#01eac4"/>
<path d="M48.0 447.7L51.0 447.4L48.1 446.8L45.1 447.1Z" fill="#01eac8"/>
<path d="M54.0 448.0L57.0 447.8L54.0 447.2L51.0 447.4Z" fill="#01eacd"/>
<path d="M60.0 448.4L63.0 448.1L60.0 447.5L57.0 447.8Z" fill="#01ead1"/>
<path d="M65.9 448.7L68.9 448.4L65.9 447.8L63.0 448.1Z" fill="#01ead5"/>
<path d="M71.9 448.9L74.9 448.6L71.9 448.1L68.9 448.4Z" fill="#01ead8"/>
<path d="M77.8 449.1L80.8 448.9L77.8 448.3L74.9 448.6Z" fill="#01eadb"/>
<path d="M83.8 449.3L86.8 449.0L83.8 448.5L80.8 448.9Z" fill="#01eade"/>
<path d="M89.7 449.5L92.7 449.2L89.8 448.7L86.8 449.0Z" fill="#01eae0"/>
<path d="M95.7 449.6L98.7 449.3L95.7 448.8L92.7 449.2Z" fill="#01eae2"/>
<path d="M101.6 449.7L104.6 449.3L101.7 448.9L98.7 449.3Z" fill="#01eae4"/>
<path d="M107.6 449.7L110.6 449.4L107.6 449.0L104.6 449.3Z" fill="#01eae5"/>
<path d="M113.6 449.7L116.5 449.4L113.5 449.0L110.6 449.4Z" fill="#01eae6"/>
<path d="M119.5 449.7L122.5 449.3L119.5 449.0L116.5 449.4Z" fill="#01eae6"/>
<path d="M125.5 449.6L128.4 449.3L125.4 448.9L122.5 449.3Z" fill="#01eae6"/>
<path d="M131.4 449.5L134.4 449.1L131.4 448.9L128.4 449.3Z" fill="#01eae6"/>
<path d="M137.4 449.4L140.3 449.0L137.3 448.7L134.4 449.1Z" fill="#01eae5"/>
<path d="M143.3 449.2L146.3 448.8L143.3 448.6L140.3 449.0Z" fill="#01eae4"/>
<path d="M149.3 449.0L152.2 448.6L149.2 448.4L146.3 448.8Z" fill="#01eae2"/>
<path d="M155.2 448.7L158.2 448.3L155.2 448.1L152.2 448.6Z" fill="#01eae0"/>
<path d="M167.2 448.1L170.1 447.7L167.1 447.6L164.1 448.0Z" fill="#01eadb"/>
<path d="M173.1 447.7L176.1 447.3L173.0 447.2L170.1 447.7Z" fill="#01ead8"/>
<path d="M179.1 447.4L182.0 446.9L179.0 446.9L176.1 447.3Z" fill="#01ead5"/>
<path d="M161.2 448.4L164.1 448.0L161.1 447.9L158.2 448.3Z" fill="#01eade"/>
<path d="M80.8 449.5L83.8 449.3L80.8 448.9L77.8 449.1Z" fill="#01eac9"/>
<path d="M62.9 448.9L65.9 448.7L63.0 448.1L60.0 448.4Z" fill="#01eac0"/>
<path d="M74.8 449.4L77.8 449.1L74.9 448.6L71.9 448.9Z" fill="#01eac6"/>
<path d="M98.7 449.9L101.6 449.7L98.7 449.3L95.7 449.6Z" fill="#01eace"/>
<path d="M134.4 449.7L137.4 449.4L134.4 449.1L131.4 449.5Z" fill="#01eace"/>
<path d="M158.2 448.8L161.2 448.4L158.2 448.3L155.2 448.7Z" fill="#01eac7"/>
<path d="M170.2 448.1L173.1 447.7L170.1 447.7L167.2 448.1Z" fill="#01eac2"/>
<path d="M39.1 447.4L42.1 447.3L39.1 446.6L36.1 446.8Z" fill="#01eaae"/>
<path d="M45.0 447.8L48.0 447.7L45.1 447.1L42.1 447.3Z" fill="#01eab3"/>
<path d="M51.0 448.2L54.0 448.0L51.0 447.4L48.0 447.7Z" fill="#01eab8"/>
<path d="M57.0 448.6L60.0 448.4L57.0 447.8L54.0 448.0Z" fill="#01eabc"/>
<path d="M68.9 449.1L71.9 448.9L68.9 448.4L65.9 448.7Z" fill="#01eac3"/>
<path d="M86.8 449.7L89.7 449.5L86.8 449.0L83.8 449.3Z" fill="#01eacb"/>
<path d="M92.7 449.8L95.7 449.6L92.7 449.2L89.7 449.5Z" fill="#01eacd"/>
<path d="M104.6 450.0L107.6 449.7L104.6 449.3L101.6 449.7Z" fill="#01eacf"/>
<path d="M110.6 450.0L113.6 449.7L110.6 449.4L107.6 449.7Z" fill="#01ead0"/>
<path d="M116.5 449.9L119.5 449.7L116.5 449.4L113.6 449.7Z" fill="#01ead0"/>
<path d="M122.5 449.9L125.5 449.6L122.5 449.3L119.5 449.7Z" fill="#01ead0"/>
<path d="M128.4 449.8L131.4 449.5L128.4 449.3L125.5 449.6Z" fill="#01eacf"/>
<path d="M140.4 449.5L143.3 449.2L140.3 449.0L137.4 449.4Z" fill="#01eace"/>
<path d="M146.3 449.3L149.3 449.0L146.3 448.8L143.3 449.2Z" fill="#01eacc"/>
<path d="M152.3 449.1L155.2 448.7L152.2 448.6L149.3 449.0Z" fill="#01eaca"/>
<path d="M164.2 448.5L167.2 448.1L164.1 448.0L161.2 448.4Z" fill="#01eac4"/>
<path d="M176.1 447.7L179.1 447.4L176.1 447.3L173.1 447.7Z" fill="#01eabe"/>
<path d="M77.8 449.7L80.8 449.5L77.8 449.1L74.8 449.4Z" fill="#01eab2"/>
<path d="M83.8 449.9L86.8 449.7L83.8 449.3L80.8 449.5Z" fill="#01eab4"/>
<path d="M125.5 450.0L128.4 449.8L125.5 449.6L122.5 449.9Z" fill="#01eab8"/>
<path d="M161.2 448.8L164.2 448.5L161.2 448.4L158.2 448.8Z" fill="#01eaad"/>
<path d="M42.0 448.0L45.0 447.8L42.1 447.3L39.1 447.4Z" fill="#01ea9d"/>
<path d="M59.9 449.0L62.9 448.9L60.0 448.4L57.0 448.6Z" fill="#01eaaa"/>
<path d="M65.9 449.3L68.9 449.1L65.9 448.7L62.9 448.9Z" fill="#01eaac"/>
<path d="M71.8 449.5L74.8 449.4L71.9 448.9L68.9 449.1Z" fill="#01eab0"/>
<path d="M95.7 450.1L98.7 449.9L95.7 449.6L92.7 449.8Z" fill="#01eab7"/>
<path d="M101.6 450.2L104.6 450.0L101.6 449.7L98.7 449.9Z" fill="#01eab8"/>
<path d="M131.4 449.9L134.4 449.7L131.4 449.5L128.4 449.8Z" fill="#01eab7"/>
<path d="M137.4 449.8L140.4 449.5L137.4 449.4L134.4 449.7Z" fill="#01eab6"/>
<path d="M155.3 449.1L158.2 448.8L155.2 448.7L152.3 449.1Z" fill="#01eab0"/>
<path d="M167.2 448.4L170.2 448.1L167.2 448.1L164.2 448.5Z" fill="#01eaaa"/>
<path d="M173.2 448.1L176.1 447.7L173.1 447.7L170.2 448.1Z" fill="#01eaa6"/>
<path d="M48.0 448.4L51.0 448.2L48.0 447.7L45.0 447.8Z" fill="#01eaa1"/>
<path d="M53.9 448.7L57.0 448.6L54.0 448.0L51.0 448.2Z" fill="#01eaa6"/>
<path d="M89.7 450.0L92.7 449.8L89.7 449.5L86.8 449.7Z" fill="#01eab6"/>
<path d="M107.6 450.2L110.6 450.0L107.6 449.7L104.6 450.0Z" fill="#01eab9"/>
<path d="M113.6 450.2L116.5 449.9L113.6 449.7L110.6 450.0Z" fill="#01eab9"/>
<path d="M119.5 450.1L122.5 449.9L119.5 449.7L116.5 449.9Z" fill="#01eab9"/>
<path d="M143.4 449.6L146.3 449.3L143.3 449.2L140.4 449.5Z" fill="#01eab4"/>
<path d="M149.3 449.3L152.3 449.1L149.3 449.0L146.3 449.3Z" fill="#01eab2"/>
<path d="M74.8 449.9L77.8 449.7L74.8 449.4L71.8 449.5Z" fill="#01ea9a"/>
<path d="M80.8 450.0L83.8 449.9L80.8 449.5L77.8 449.7Z" fill="#01ea9c"/>
<path d="M86.7 450.2L89.7 450.0L86.8 449.7L83.8 449.9Z" fill="#01ea9e"/>
<path d="M122.5 450.2L125.5 450.0L122.5 449.9L119.5 450.1Z" fill="#01eaa0"/>
<path d="M128.5 450.1L131.4 449.9L128.4 449.8L125.5 450.0Z" fill="#01ea9f"/>
<path d="M158.3 449.0L161.2 448.8L158.2 448.8L155.3 449.1Z" fill="#01ea94"/>
<path d="M164.3 448.7L167.2 448.4L164.2 448.5L161.2 448.8Z" fill="#01ea90"/>
<path d="M45.0 448.4L48.0 448.4L45.0 447.8L42.0 448.0Z" fill="#01ea8a"/>
<path d="M50.9 448.8L53.9 448.7L51.0 448.2L48.0 448.4Z" fill="#01ea8e"/>
<path d="M56.9 449.1L59.9 449.0L57.0 448.6L53.9 448.7Z" fill="#01ea91"/>
<path d="M62.9 449.4L65.9 449.3L62.9 448.9L59.9 449.0Z" fill="#01ea95"/>
<path d="M68.8 449.6L71.8 449.5L68.9 449.1L65.9 449.3Z" fill="#01ea98"/>
<path d="M92.7 450.3L95.7 450.1L92.7 449.8L89.7 450.0Z" fill="#01ea9f"/>
<path d="M98.7 450.3L101.6 450.2L98.7 449.9L95.7 450.1Z" fill="#01eaa0"/>
<path d="M104.6 450.4L107.6 450.2L104.6 450.0L101.6 450.2Z" fill="#01eaa0"/>
<path d="M134.4 450.0L137.4 449.8L134.4 449.7L131.4 449.9Z" fill="#01ea9d"/>
<path d="M140.4 449.8L143.4 449.6L140.4 449.5L137.4 449.8Z" fill="#01ea9b"/>
<path d="M152.3 449.3L155.3 449.1L152.3 449.1L149.3 449.3Z" fill="#01ea97"/>
<path d="M170.2 448.3L173.2 448.1L170.2 448.1L167.2 448.4Z" fill="#01ea8d"/>
<path d="M110.6 450.4L113.6 450.2L110.6 450.0L107.6 450.2Z" fill="#01eaa0"/>
<path d="M116.5 450.3L119.5 450.1L116.5 449.9L113.6 450.2Z" fill="#01eaa0"/>
<path d="M146.4 449.6L149.3 449.3L146.3 449.3L143.4 449.6Z" fill="#01ea99"/>
<path d="M47.9 448.8L50.9 448.8L48.0 448.4L45.0 448.4Z" fill="#01ea75"/>
<path d="M53.9 449.2L56.9 449.1L53.9 448.7L50.9 448.8Z" fill="#01ea79"/>
<path d="M65.8 449.7L68.8 449.6L65.9 449.3L62.9 449.4Z" fill="#01ea7e"/>
<path d="M71.8 449.9L74.8 449.9L71.8 449.5L68.8 449.6Z" fill="#01ea81"/>
<path d="M77.8 450.1L80.8 450.0L77.8 449.7L74.8 449.9Z" fill="#01ea83"/>
<path d="M83.7 450.3L86.7 450.2L83.8 449.9L80.8 450.0Z" fill="#01ea85"/>
<path d="M89.7 450.4L92.7 450.3L89.7 450.0L86.7 450.2Z" fill="#01ea86"/>
<path d="M107.6 450.5L110.6 450.4L107.6 450.2L104.6 450.4Z" fill="#01ea86"/>
<path d="M119.5 450.4L122.5 450.2L119.5 450.1L116.5 450.3Z" fill="#01ea86"/>
<path d="M125.5 450.3L128.5 450.1L125.5 450.0L122.5 450.2Z" fill="#01ea85"/>
<path d="M131.5 450.1L134.4 450.0L131.4 449.9L128.5 450.1Z" fill="#01ea83"/>
<path d="M155.3 449.2L158.3 449.0L155.3 449.1L152.3 449.3Z" fill="#01ea79"/>
<path d="M161.3 448.9L164.3 448.7L161.2 448.8L158.3 449.0Z" fill="#01ea76"/>
<path d="M167.3 448.6L170.2 448.3L167.2 448.4L164.3 448.7Z" fill="#01ea72"/>
<path d="M59.9 449.5L62.9 449.4L59.9 449.0L56.9 449.1Z" fill="#01ea7c"/>
<path d="M95.7 450.4L98.7 450.3L95.7 450.1L92.7 450.3Z" fill="#01ea86"/>
<path d="M101.6 450.5L104.6 450.4L101.6 450.2L98.7 450.3Z" fill="#01ea86"/>
<path d="M137.4 450.0L140.4 449.8L137.4 449.8L134.4 450.0Z" fill="#01ea81"/>
<path d="M143.4 449.8L146.4 449.6L143.4 449.6L140.4 449.8Z" fill="#01ea7f"/>
<path d="M149.4 449.5L152.3 449.3L149.3 449.3L146.4 449.6Z" fill="#01ea7c"/>
<path d="M113.6 450.5L116.5 450.3L113.6 450.2L110.6 450.4Z" fill="#01ea86"/>
<path d="M50.9 449.2L53.9 449.2L50.9 448.8L47.9 448.8Z" fill="#01ea5e"/>
<path d="M56.9 449.5L59.9 449.5L56.9 449.1L53.9 449.2Z" fill="#01ea62"/>
<path d="M62.8 449.7L65.8 449.7L62.9 449.4L59.9 449.5Z" fill="#01ea64"/>
<path d="M68.8 450.0L71.8 449.9L68.8 449.6L65.8 449.7Z" fill="#01ea66"/>
<path d="M74.8 450.1L77.8 450.1L74.8 449.9L71.8 449.9Z" fill="#01ea68"/>
<path d="M80.7 450.3L83.7 450.3L80.8 450.0L77.8 450.1Z" fill="#01ea6a"/>
<path d="M86.7 450.4L89.7 450.4L86.7 450.2L83.7 450.3Z" fill="#01ea6a"/>
<path d="M92.7 450.5L95.7 450.4L92.7 450.3L89.7 450.4Z" fill="#01ea6b"/>
<path d="M104.6 450.6L107.6 450.5L104.6 450.4L101.6 450.5Z" fill="#01ea6b"/>
<path d="M110.6 450.5L113.6 450.5L110.6 450.4L107.6 450.5Z" fill="#01ea6b"/>
<path d="M116.6 450.5L119.5 450.4L116.5 450.3L113.6 450.5Z" fill="#01ea6a"/>
<path d="M122.5 450.4L125.5 450.3L122.5 450.2L119.5 450.4Z" fill="#01ea6a"/>
<path d="M128.5 450.3L131.5 450.1L128.5 450.1L125.5 450.3Z" fill="#01ea68"/>
<path d="M134.5 450.1L137.4 450.0L134.4 450.0L131.5 450.1Z" fill="#01ea66"/>
<path d="M152.4 449.4L155.3 449.2L152.3 449.3L149.4 449.5Z" fill="#01ea5e"/>
<path d="M158.4 449.1L161.3 448.9L158.3 449.0L155.3 449.2Z" fill="#01ea5a"/>
<path d="M164.3 448.7L167.3 448.6L164.3 448.7L161.3 448.9Z" fill="#01ea56"/>
<path d="M98.6 450.6L101.6 450.5L98.7 450.3L95.7 450.4Z" fill="#01ea6b"/>
<path d="M140.4 449.9L143.4 449.8L140.4 449.8L137.4 450.0Z" fill="#01ea63"/>
<path d="M146.4 449.7L149.4 449.5L146.4 449.6L143.4 449.8Z" fill="#01ea61"/>
<path d="M53.8 449.4L56.9 449.5L53.9 449.2L50.9 449.2Z" fill="#01ea46"/>
<path d="M59.8 449.7L62.8 449.7L59.9 449.5L56.9 449.5Z" fill="#01ea48"/>
<path d="M65.8 449.9L68.8 450.0L65.8 449.7L62.8 449.7Z" fill="#01ea4a"/>
<path d="M71.8 450.1L74.8 450.1L71.8 449.9L68.8 450.0Z" fill="#01ea4c"/>
<path d="M77.7 450.3L80.7 450.3L77.8 450.1L74.8 450.1Z" fill="#01ea4e"/>
<path d="M83.7 450.4L86.7 450.4L83.7 450.3L80.7 450.3Z" fill="#01ea4f"/>
<path d="M89.7 450.5L92.7 450.5L89.7 450.4L86.7 450.4Z" fill="#01ea4f"/>
<path d="M95.7 450.6L98.6 450.6L95.7 450.4L92.7 450.5Z" fill="#01ea50"/>
<path d="M101.6 450.6L104.6 450.6L101.6 450.5L98.6 450.6Z" fill="#01ea50"/>
<path d="M107.6 450.6L110.6 450.5L107.6 450.5L104.6 450.6Z" fill="#01ea4f"/>
<path d="M113.6 450.5L116.6 450.5L113.6 450.5L110.6 450.5Z" fill="#01ea4e"/>
<path d="M119.5 450.4L122.5 450.4L119.5 450.4L116.6 450.5Z" fill="#01ea4d"/>
<path d="M125.5 450.3L128.5 450.3L125.5 450.3L122.5 450.4Z" fill="#01ea4b"/>
<path d="M131.5 450.2L134.5 450.1L131.5 450.1L128.5 450.3Z" fill="#01ea49"/>
<path d="M137.5 450.0L140.4 449.9L137.4 450.0L134.5 450.1Z" fill="#01ea46"/>
<path d="M149.4 449.5L152.4 449.4L149.4 449.5L146.4 449.7Z" fill="#01ea40"/>
<path d="M155.4 449.2L158.4 449.1L155.3 449.2L152.4 449.4Z" fill="#01ea3d"/>
<path d="M161.4 448.8L164.3 448.7L161.3 448.9L158.4 449.1Z" fill="#01ea39"/>
<path d="M143.4 449.7L146.4 449.7L143.4 449.8L140.4 449.9Z" fill="#01ea44"/>
<path d="M116.6 450.4L119.5 450.4L116.6 450.5L113.6 450.5Z" fill="#01ea2e"/>
<path d="M140.5 449.8L143.4 449.7L140.4 449.9L137.5 450.0Z" fill="#01ea25"/>
<path d="M152.4 449.2L155.4 449.2L152.4 449.4L149.4 449.5Z" fill="#01ea1e"/>
<path d="M56.8 449.6L59.8 449.7L56.9 449.5L53.8 449.4Z" fill="#01ea2b"/>
<path d="M62.8 449.9L65.8 449.9L62.8 449.7L59.8 449.7Z" fill="#01ea2c"/>
<path d="M68.8 450.1L71.8 450.1L68.8 450.0L65.8 449.9Z" fill="#01ea2e"/>
<path d="M74.7 450.2L77.7 450.3L74.8 450.1L71.8 450.1Z" fill="#01ea30"/>
<path d="M80.7 450.4L83.7 450.4L80.7 450.3L77.7 450.3Z" fill="#01ea31"/>
<path d="M86.7 450.5L89.7 450.5L86.7 450.4L83.7 450.4Z" fill="#01ea32"/>
<path d="M92.7 450.5L95.7 450.6L92.7 450.5L89.7 450.5Z" fill="#01ea32"/>
<path d="M98.6 450.6L101.6 450.6L98.6 450.6L95.7 450.6Z" fill="#01ea32"/>
<path d="M104.6 450.6L107.6 450.6L104.6 450.6L101.6 450.6Z" fill="#01ea31"/>
<path d="M110.6 450.5L113.6 450.5L110.6 450.5L107.6 450.6Z" fill="#01ea30"/>
<path d="M122.5 450.3L125.5 450.3L122.5 450.4L119.5 450.4Z" fill="#01ea2c"/>
<path d="M128.5 450.2L131.5 450.2L128.5 450.3L125.5 450.3Z" fill="#01ea2b"/>
<path d="M134.5 450.0L137.5 450.0L134.5 450.1L131.5 450.2Z" fill="#01ea28"/>
<path d="M146.5 449.5L149.4 449.5L146.4 449.7L143.4 449.7Z" fill="#01ea22"/>
<path d="M158.4 448.9L161.4 448.8L158.4 449.1L155.4 449.2Z" fill="#01ea1a"/>
<path d="M143.5 449.5L146.5 449.5L143.4 449.7L140.5 449.8Z" fill="#01ea03"/>
<path d="M59.8 449.7L62.8 449.9L59.8 449.7L56.8 449.6Z" fill="#01ea0e"/>
<path d="M77.7 450.3L80.7 450.4L77.7 450.3L74.7 450.2Z" fill="#01ea12"/>
<path d="M95.6 450.5L98.6 450.6L95.7 450.6L92.7 450.5Z" fill="#01ea12"/>
<path d="M101.6 450.5L104.6 450.6L101.6 450.6L98.6 450.6Z" fill="#01ea11"/>
<path d="M113.6 450.4L116.6 450.4L113.6 450.5L110.6 450.5Z" fill="#01ea10"/>
<path d="M119.6 450.3L122.5 450.3L119.5 450.4L116.6 450.4Z" fill="#01ea0e"/>
<path d="M137.5 449.7L140.5 449.8L137.5 450.0L134.5 450.0Z" fill="#01ea06"/>
<path d="M149.5 449.2L152.4 449.2L149.4 449.5L146.5 449.5Z" fill="#01ea03"/>
<path d="M155.5 448.9L158.4 448.9L155.4 449.2L152.4 449.2Z" fill="#01ea03"/>
<path d="M65.7 449.9L68.8 450.1L65.8 449.9L62.8 449.9Z" fill="#01ea10"/>
<path d="M71.7 450.1L74.7 450.2L71.8 450.1L68.8 450.1Z" fill="#01ea11"/>
<path d="M83.7 450.4L86.7 450.5L83.7 450.4L80.7 450.4Z" fill="#01ea12"/>
<path d="M89.7 450.4L92.7 450.5L89.7 450.5L86.7 450.5Z" fill="#01ea12"/>
<path d="M107.6 450.4L110.6 450.5L107.6 450.6L104.6 450.6Z" fill="#01ea10"/>
<path d="M125.5 450.1L128.5 450.2L125.5 450.3L122.5 450.3Z" fill="#01ea0b"/>
<path d="M131.5 450.0L134.5 450.0L131.5 450.2L128.5 450.2Z" fill="#01ea08"/>
<path d="M104.6 450.3L107.6 450.4L104.6 450.6L101.6 450.5Z" fill="#01ea03"/>
<path d="M140.5 449.4L143.5 449.5L140.5 449.8L137.5 449.7Z" fill="#01ea03"/>
<path d="M146.5 449.2L149.5 449.2L146.5 449.5L143.5 449.5Z" fill="#01ea03"/>
<path d="M62.7 449.8L65.7 449.9L62.8 449.9L59.8 449.7Z" fill="#01ea03"/>
<path d="M68.7 449.9L71.7 450.1L68.8 450.1L65.7 449.9Z" fill="#01ea03"/>
<path d="M74.7 450.1L77.7 450.3L74.7 450.2L71.7 450.1Z" fill="#01ea03"/>
<path d="M80.7 450.2L83.7 450.4L80.7 450.4L77.7 450.3Z" fill="#01ea03"/>
<path d="M86.7 450.3L89.7 450.4L86.7 450.5L83.7 450.4Z" fill="#01ea03"/>
<path d="M92.6 450.3L95.6 450.5L92.7 450.5L89.7 450.4Z" fill="#01ea03"/>
<path d="M98.6 450.3L101.6 450.5L98.6 450.6L95.6 450.5Z" fill="#01ea03"/>
<path d="M110.6 450.3L113.6 450.4L110.6 450.5L107.6 450.4Z" fill="#01ea03"/>
<path d="M116.6 450.2L119.6 450.3L116.6 450.4L113.6 450.4Z" fill="#01ea03"/>
<path d="M122.6 450.0L125.5 450.1L122.5 450.3L119.6 450.3Z" fill="#01ea03"/>
<path d="M134.5 449.7L137.5 449.7L134.5 450.0L131.5 450.0Z" fill="#01ea03"/>
<path d="M152.5 448.9L155.5 448.9L152.4 449.2L149.5 449.2Z" fill="#01ea03"/>
<path d="M128.5 449.9L131.5 450.0L128.5 450.2L125.5 450.1Z" fill="#01ea03"/>
<path d="M65.7 449.7L68.7 449.9L65.7 449.9L62.7 449.8Z" fill="#01ea03"/>
<path d="M71.7 449.9L74.7 450.1L71.7 450.1L68.7 449.9Z" fill="#01ea03"/>
<path d="M95.6 450.2L98.6 450.3L95.6 450.5L92.6 450.3Z" fill="#01ea03"/>
<path d="M101.6 450.1L104.6 450.3L101.6 450.5L98.6 450.3Z" fill="#01ea03"/>
<path d="M107.6 450.1L110.6 450.3L107.6 450.4L104.6 450.3Z" fill="#01ea03"/>
<path d="M137.6 449.3L140.5 449.4L137.5 449.7L134.5 449.7Z" fill="#01ea03"/>
<path d="M143.5 449.0L146.5 449.2L143.5 449.5L140.5 449.4Z" fill="#01ea03"/>
<path d="M149.5 448.7L152.5 448.9L149.5 449.2L146.5 449.2Z" fill="#01ea03"/>
<path d="M77.7 450.0L80.7 450.2L77.7 450.3L74.7 450.1Z" fill="#01ea03"/>
<path d="M83.6 450.1L86.7 450.3L83.7 450.4L80.7 450.2Z" fill="#01ea03"/>
<path d="M89.6 450.1L92.6 450.3L89.7 450.4L86.7 450.3Z" fill="#01ea03"/>
<path d="M113.6 450.0L116.6 450.2L113.6 450.4L110.6 450.3Z" fill="#01ea03"/>
<path d="M119.6 449.9L122.6 450.0L119.6 450.3L116.6 450.2Z" fill="#01ea03"/>
<path d="M125.6 449.7L128.5 449.9L125.5 450.1L122.6 450.0Z" fill="#01ea03"/>
<path d="M131.6 449.5L134.5 449.7L131.5 450.0L128.5 449.9Z" fill="#01ea03"/>
<path d="M68.6 449.6L71.7 449.9L68.7 449.9L65.7 449.7Z" fill="#01ea03"/>
<path d="M74.6 449.7L77.7 450.0L74.7 450.1L71.7 449.9Z" fill="#01ea03"/>
<path d="M80.6 449.8L83.6 450.1L80.7 450.2L77.7 450.0Z" fill="#01ea03"/>
<path d="M86.6 449.9L89.6 450.1L86.7 450.3L83.6 450.1Z" fill="#01ea03"/>
<path d="M92.6 449.9L95.6 450.2L92.6 450.3L89.6 450.1Z" fill="#01ea03"/>
<path d="M98.6 449.9L101.6 450.1L98.6 450.3L95.6 450.2Z" fill="#01ea03"/>
<path d="M104.6 449.9L107.6 450.1L104.6 450.3L101.6 450.1Z" fill="#01ea03"/>
<path d="M110.6 449.8L113.6 450.0L110.6 450.3L107.6 450.1Z" fill="#01ea03"/>
<path d="M122.6 449.5L125.6 449.7L122.6 450.0L119.6 449.9Z" fill="#01ea03"/>
<path d="M128.6 449.3L131.6 449.5L128.5 449.9L125.6 449.7Z" fill="#01ea03"/>
<path d="M140.6 448.9L143.5 449.0L140.5 449.4L137.6 449.3Z" fill="#01ea03"/>
<path d="M146.6 448.6L149.5 448.7L146.5 449.2L143.5 449.0Z" fill="#01ea03"/>
<path d="M116.6 449.7L119.6 449.9L116.6 450.2L113.6 450.0Z" fill="#01ea03"/>
<path d="M134.6 449.1L137.6 449.3L134.5 449.7L131.6 449.5Z" fill="#01ea03"/>
<path d="M71.6 449.4L74.6 449.7L71.7 449.9L68.6 449.6Z" fill="#01ea03"/>
<path d="M77.6 449.5L80.6 449.8L77.7 450.0L74.6 449.7Z" fill="#01ea03"/>
<path d="M83.6 449.6L86.6 449.9L83.6 450.1L80.6 449.8Z" fill="#01ea03"/>
<path d="M89.6 449.6L92.6 449.9L89.6 450.1L86.6 449.9Z" fill="#01ea03"/>
<path d="M95.6 449.6L98.6 449.9L95.6 450.2L92.6 449.9Z" fill="#01ea03"/>
<path d="M101.6 449.6L104.6 449.9L101.6 450.1L98.6 449.9Z" fill="#01ea03"/>
<path d="M107.6 449.5L110.6 449.8L107.6 450.1L104.6 449.9Z" fill="#01ea03"/>
<path d="M113.6 449.4L116.6 449.7L113.6 450.0L110.6 449.8Z" fill="#01ea03"/>
<path d="M119.6 449.2L122.6 449.5L119.6 449.9L116.6 449.7Z" fill="#01ea03"/>
<path d="M125.6 449.1L128.6 449.3L125.6 449.7L122.6 449.5Z" fill="#01ea03"/>
<path d="M131.6 448.9L134.6 449.1L131.6 449.5L128.6 449.3Z" fill="#01ea03"/>
<path d="M137.6 448.6L140.6 448.9L137.6 449.3L134.6 449.1Z" fill="#01ea03"/>
<path d="M143.6 448.3L146.6 448.6L143.5 449.0L140.6 448.9Z" fill="#01ea03"/>
<path d="M116.6 448.9L119.6 449.2L116.6 449.7L113.6 449.4Z" fill="#01ea03"/>
<path d="M86.6 449.2L89.6 449.6L86.6 449.9L83.6 449.6Z" fill="#01ea03"/>
<path d="M92.6 449.3L95.6 449.6L92.6 449.9L89.6 449.6Z" fill="#01ea03"/>
<path d="M134.6 448.3L137.6 448.6L134.6 449.1L131.6 448.9Z" fill="#01ea03"/>
<path d="M74.6 449.1L77.6 449.5L74.6 449.7L71.6 449.4Z" fill="#01ea03"/>
<path d="M80.6 449.2L83.6 449.6L80.6 449.8L77.6 449.5Z" fill="#01ea03"/>
<path d="M98.6 449.2L101.6 449.6L98.6 449.9L95.6 449.6Z" fill="#01ea03"/>
<path d="M104.6 449.2L107.6 449.5L104.6 449.9L101.6 449.6Z" fill="#01ea03"/>
<path d="M110.6 449.1L113.6 449.4L110.6 449.8L107.6 449.5Z" fill="#01ea03"/>
<path d="M122.6 448.8L125.6 449.1L122.6 449.5L119.6 449.2Z" fill="#01ea03"/>
<path d="M128.6 448.6L131.6 448.9L128.6 449.3L125.6 449.1Z" fill="#01ea03"/>
<path d="M140.6 448.0L143.6 448.3L140.6 448.9L137.6 448.6Z" fill="#01ea03"/>
<path d="M95.6 448.8L98.6 449.2L95.6 449.6L92.6 449.3Z" fill="#01ea03"/>
<path d="M113.6 448.5L116.6 448.9L113.6 449.4L110.6 449.1Z" fill="#01ea03"/>
<path d="M119.6 448.4L122.6 448.8L119.6 449.2L116.6 448.9Z" fill="#01ea03"/>
<path d="M137.7 447.7L140.6 448.0L137.6 448.6L134.6 448.3Z" fill="#01ea03"/>
<path d="M77.6 448.8L80.6 449.2L77.6 449.5L74.6 449.1Z" fill="#01ea03"/>
<path d="M83.6 448.8L86.6 449.2L83.6 449.6L80.6 449.2Z" fill="#01ea03"/>
<path d="M89.6 448.8L92.6 449.3L89.6 449.6L86.6 449.2Z" fill="#01ea03"/>
<path d="M101.6 448.8L104.6 449.2L101.6 449.6L98.6 449.2Z" fill="#01ea03"/>
<path d="M107.6 448.7L110.6 449.1L107.6 449.5L104.6 449.2Z" fill="#01ea03"/>
<path d="M131.6 448.0L134.6 448.3L131.6 448.9L128.6 448.6Z" fill="#01ea03"/>
<path d="M125.6 448.2L128.6 448.6L125.6 449.1L122.6 448.8Z" fill="#01ea03"/>
<path d="M80.5 448.4L83.6 448.8L80.6 449.2L77.6 448.8Z" fill="#01ea03"/>
<path d="M86.6 448.4L89.6 448.8L86.6 449.2L83.6 448.8Z" fill="#01ea03"/>
<path d="M92.6 448.4L95.6 448.8L92.6 449.3L89.6 448.8Z" fill="#01ea03"/>
<path d="M98.6 448.3L101.6 448.8L98.6 449.2L95.6 448.8Z" fill="#01ea03"/>
<path d="M104.6 448.2L107.6 448.7L104.6 449.2L101.6 448.8Z" fill="#01ea03"/>
<path d="M110.6 448.1L113.6 448.5L110.6 449.1L107.6 448.7Z" fill="#01ea03"/>
<path d="M116.6 447.9L119.6 448.4L116.6 448.9L113.6 448.5Z" fill="#01ea03"/>
<path d="M122.6 447.8L125.6 448.2L122.6 448.8L119.6 448.4Z" fill="#01ea03"/>
<path d="M134.7 447.3L137.7 447.7L134.6 448.3L131.6 448.0Z" fill="#01ea03"/>
<path d="M128.7 447.5L131.6 448.0L128.6 448.6L125.6 448.2Z" fill="#01ea03"/>
<path d="M113.6 447.4L116.6 447.9L113.6 448.5L110.6 448.1Z" fill="#01ea03"/>
<path d="M125.7 447.1L128.7 447.5L125.6 448.2L122.6 447.8Z" fill="#01ea03"/>
<path d="M83.5 447.8L86.6 448.4L83.6 448.8L80.5 448.4Z" fill="#01ea03"/>
<path d="M89.5 447.8L92.6 448.4L89.6 448.8L86.6 448.4Z" fill="#01ea03"/>
<path d="M95.6 447.8L98.6 448.3L95.6 448.8L92.6 448.4Z" fill="#01ea03"/>
<path d="M101.6 447.7L104.6 448.2L101.6 448.8L98.6 448.3Z" fill="#01ea03"/>
<path d="M107.6 447.6L110.6 448.1L107.6 448.7L104.6 448.2Z" fill="#01ea03"/>
<path d="M119.6 447.3L122.6 447.8L119.6 448.4L116.6 447.9Z" fill="#01ea03"/>
<path d="M131.7 446.8L134.7 447.3L131.6 448.0L128.7 447.5Z" fill="#01ea03"/>
<path d="M104.6 447.0L107.6 447.6L104.6 448.2L101.6 447.7Z" fill="#01ea03"/>
<path d="M128.7 446.3L131.7 446.8L128.7 447.5L125.7 447.1Z" fill="#01ea03"/>
<path d="M86.5 447.2L89.5 447.8L86.6 448.4L83.5 447.8Z" fill="#01ea03"/>
<path d="M92.5 447.2L95.6 447.8L92.6 448.4L89.5 447.8Z" fill="#01ea03"/>
<path d="M98.6 447.1L101.6 447.7L98.6 448.3L95.6 447.8Z" fill="#01ea03"/>
<path d="M110.6 446.9L113.6 447.4L110.6 448.1L107.6 447.6Z" fill="#01ea03"/>
<path d="M116.6 446.7L119.6 447.3L116.6 447.9L113.6 447.4Z" fill="#01ea03"/>
<path d="M122.7 446.5L125.7 447.1L122.6 447.8L119.6 447.3Z" fill="#01ea03"/>
<path d="M89.5 446.6L92.5 447.2L89.5 447.8L86.5 447.2Z" fill="#01ea03"/>
<path d="M95.5 446.5L98.6 447.1L95.6 447.8L92.5 447.2Z" fill="#01ea03"/>
<path d="M101.6 446.4L104.6 447.0L101.6 447.7L98.6 447.1Z" fill="#01ea03"/>
<path d="M107.6 446.3L110.6 446.9L107.6 447.6L104.6 447.0Z" fill="#01ea03"/>
<path d="M113.6 446.1L116.6 446.7L113.6 447.4L110.6 446.9Z" fill="#01ea03"/>
<path d="M125.7 445.7L128.7 446.3L125.7 447.1L122.7 446.5Z" fill="#01ea03"/>
<path d="M119.7 445.9L122.7 446.5L119.6 447.3L116.6 446.7Z" fill="#01ea03"/>
<path d="M98.5 445.7L101.6 446.4L98.6 447.1L95.5 446.5Z" fill="#01ea03"/>
<path d="M110.6 445.4L113.6 446.1L110.6 446.9L107.6 446.3Z" fill="#01ea03"/>
<path d="M92.5 445.8L95.5 446.5L92.5 447.2L89.5 446.6Z" fill="#01ea03"/>
<path d="M104.6 445.6L107.6 446.3L104.6 447.0L101.6 446.4Z" fill="#01ea03"/>
<path d="M116.7 445.2L119.7 445.9L116.6 446.7L113.6 446.1Z" fill="#01ea03"/>
<path d="M122.7 445.0L125.7 445.7L122.7 446.5L119.7 445.9Z" fill="#01ea03"/>
<path d="M95.5 445.0L98.5 445.7L95.5 446.5L92.5 445.8Z" fill="#01ea03"/>
<path d="M101.6 444.8L104.6 445.6L101.6 446.4L98.5 445.7Z" fill="#01ea03"/>
<path d="M107.6 444.7L110.6 445.4L107.6 446.3L104.6 445.6Z" fill="#01ea03"/>
<path d="M113.6 444.5L116.7 445.2L113.6 446.1L110.6 445.4Z" fill="#01ea03"/>
<path d="M119.7 444.3L122.7 445.0L119.7 445.9L116.7 445.2Z" fill="#01ea03"/>
<path d="M98.5 444.0L101.6 444.8L98.5 445.7L95.5 445.0Z" fill="#01ea03"/>
<path d="M104.6 443.9L107.6 444.7L104.6 445.6L101.6 444.8Z" fill="#01ea03"/>
<path d="M110.6 443.7L113.6 444.5L110.6 445.4L107.6 444.7Z" fill="#01ea03"/>
<path d="M116.7 443.5L119.7 444.3L116.7 445.2L113.6 444.5Z" fill="#01ea03"/>
<path d="M113.7 442.6L116.7 443.5L113.6 444.5L110.6 443.7Z" fill="#2aea03"/>
<path d="M101.5 443.0L104.6 443.9L101.6 444.8L98.5 444.0Z" fill="#21ea03"/>
<path d="M107.6 442.8L110.6 443.7L107.6 444.7L104.6 443.9Z" fill="#26ea03"/>
<path d="M104.6 441.9L107.6 442.8L104.6 443.9L101.5 443.0Z" fill="#56ea03"/>
<path d="M110.6 441.7L113.7 442.6L110.6 443.7L107.6 442.8Z" fill="#5bea03"/>
<path d="M107.6 440.7L110.6 441.7L107.6 442.8L104.6 441.9Z" fill="#8dea03"/>
</g>
<circle cx="33.1" cy="446.2" r="1.4" fill="#d00000" stroke="#800" stroke-width="0.4"/>
<circle cx="182.0" cy="446.9" r="1.4" fill="#fdd" stroke="#c55" stroke-width="0.4"/>
<text x="204.5" y="180.3" font-size="9" fill="#262626">(a)</text>
<text x="210.6" y="366.4" font-size="8.6" fill="#262626" font-family="'Liberation Sans',sans-serif">(b)</text>
<text x="211.5" y="544.3" font-size="9" fill="#262626">(c)</text></svg></body></html>
